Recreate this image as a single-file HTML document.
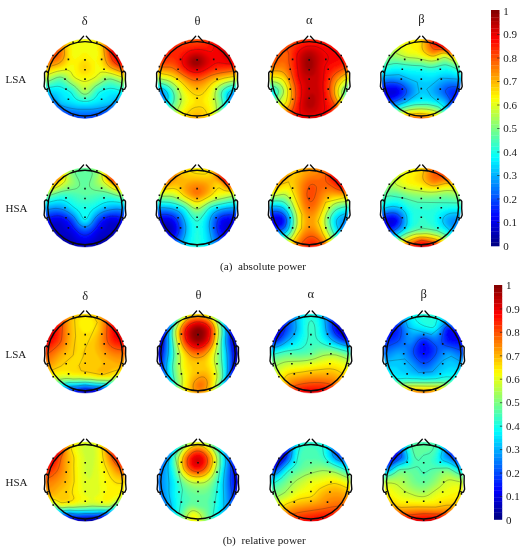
<!DOCTYPE html>
<html><head><meta charset="utf-8"><title>EEG topographic maps</title>
<style>
html,body{margin:0;padding:0;background:#fff}
svg{display:block}
.gh text{font-size:12.5px}
.cl{fill:none;stroke:#222;stroke-opacity:.6;stroke-width:4.5}
text{font-family:"Liberation Serif","DejaVu Serif",serif;font-size:11px;fill:#1a1a1a}
</style></head><body>
<svg width="527" height="550" viewBox="0 0 527 550">
<defs>
<clipPath id="cd"><circle r="40.1"/></clipPath>
<clipPath id="ch"><circle r="37.2"/></clipPath>
<filter id="soft" x="-10%" y="-10%" width="120%" height="120%"><feGaussianBlur stdDeviation="10"/></filter>
<g id="hd">
<circle r="40.7" fill="none" stroke="#fff" stroke-opacity=".55" stroke-width="2.2"/>
<path d="M11.1 -37.4h1.6v1.6h-1.6zM31.2 -24.1h1.6v1.6h-1.6zM36.9 -13.0h1.6v1.6h-1.6zM36.9 11.4h1.6v1.6h-1.6zM31.2 22.5h1.6v1.6h-1.6zM11.1 35.8h1.6v1.6h-1.6zM-0.8 37.7h1.6v1.6h-1.6zM-12.7 35.8h1.6v1.6h-1.6zM-32.8 22.5h1.6v1.6h-1.6zM-38.5 11.4h1.6v1.6h-1.6zM-38.5 -13.0h1.6v1.6h-1.6zM-32.8 -24.1h1.6v1.6h-1.6zM-12.7 -37.4h1.6v1.6h-1.6zM-17.4 -20.2h1.6v1.6h-1.6zM-0.8 -19.7h1.6v1.6h-1.6zM15.8 -20.2h1.6v1.6h-1.6zM-19.8 -10.4h1.6v1.6h-1.6zM-0.8 -9.8h1.6v1.6h-1.6zM18.2 -10.4h1.6v1.6h-1.6zM-20.8 -0.5h1.6v1.6h-1.6zM-0.8 -0.5h1.6v1.6h-1.6zM19.2 -0.5h1.6v1.6h-1.6zM-19.8 9.5h1.6v1.6h-1.6zM-0.8 9.0h1.6v1.6h-1.6zM18.2 9.5h1.6v1.6h-1.6zM-17.4 19.6h1.6v1.6h-1.6zM-0.8 18.7h1.6v1.6h-1.6zM15.8 19.6h1.6v1.6h-1.6z" fill="#111"/>
<circle r="37.2" fill="none" stroke="#0a0a0a" stroke-width="1.45"/>
<path d="M-6.5 -36.9L-1.4 -42.5M1.3 -42.5L6.4 -36.9" fill="none" stroke="#0a0a0a" stroke-width="1.3" stroke-linecap="round"/>
<path d="M37.2 -6.0L38.1 -7.5L38.7 -7.6L39.6 -7.3L40.5 -6.0L40.4 1.3L40.9 7.6L39.8 10.3L38.1 10.8L36.6 9.5M-37.2 -6.0L-38.1 -7.5L-38.7 -7.6L-39.6 -7.3L-40.5 -6.0L-40.4 1.3L-40.9 7.6L-39.8 10.3L-38.1 10.8L-36.6 9.5" fill="none" stroke="#0a0a0a" stroke-width="1.4" stroke-linejoin="round"/>
</g>
</defs>
<rect width="527" height="550" fill="#fff"/>
<g transform="translate(85.0 78.8)">
<g clip-path="url(#cd)"><g filter="url(#soft)" transform="scale(.1)">
<circle r="421" fill="#00008a"/>
<path fill="#00009f" d="M-396-413l809 0 0 826-751 0-41-15-34-9 0-802z"/>
<path fill="#0000b5" d="M-396-413l809 0 0 826-709 0-65-28-52-15 0-783z"/>
<path fill="#0000ca" d="M-396-413l809 0 0 826-673 0-84-41-35-12-34-9 0-764z"/>
<path fill="#0000df" d="M-396-413l809 0 0 806-34 0-35 2-34 7-42 11-493 0-119-60-35-12-34-8 0-746z"/>
<path fill="#0000f4" d="M-396-413l809 0 0 787-52 0-34 5-34 8-82 26-399 0-53-24-69-39-34-16-35-12-34-7 0-728z"/>
<path fill="#000bff" d="M-396-413l809 0 0 768-52 0-34 4-34 9-69 24-70 21-299 0-44-16-35-16-86-49-34-17-35-11-34-7 0-710z"/>
<path fill="#0020ff" d="M-396-413l809 0 0 750-52-1-34 4-17 4-103 37-113 32-187 0-62-19-52-20-34-18-69-43-34-16-35-11-34-7 0-692z"/>
<path fill="#0035ff" d="M-396-413l809 0 0 732-52-2-34 4-34 10-86 34-104 29-69 15-34 3-17-1-35-5-51-12-86-28-52-25-52-35-34-19-52-19-34-6 0-675z"/>
<path fill="#004aff" d="M-396-413l809 0 0 714-52-2-34 4-34 10-69 30-52 16-120 30-35 5-34 1-35-6-51-11-86-27-35-15-17-10-52-37-34-18-34-15-18-5-34-6 0-658z"/>
<path fill="#0060ff" d="M-396-413l809 0 0 696-52-1-51 7-17 6-69 33-35 11-86 22-51 10-35 5-34 1-35-5-51-10-86-26-35-15-17-10-52-37-51-28-35-13-34-5 0-641z"/>
<path fill="#0075ff" d="M-396-413l809 0 0 679-52-2-34 5-34 9-69 35-52 16-103 22-52 6-34 0-35-3-51-8-52-13-34-11-35-15-17-9-34-27-35-23-34-20-35-13-34-4 0-624z"/>
<path fill="#008aff" d="M-396-413l809 0 0 662-52-2-34 5-17 5-35 14-34 20-17 8-35 11-69 15-51 8-35 3-86 0-34-4-52-10-34-9-35-11-34-17-69-54-34-22-17-7-18-5-34-3 0-607z"/>
<path fill="#009fff" d="M-396-413l809 0 0 645-52-2-34 5-34 14-52 29-17 7-35 10-69 14-68 8-86 1-35-1-34-4-52-10-34-10-35-12-17-9-17-12-52-49-17-13-16-9-18-7-18-3-34-1 0-591z"/>
<path fill="#00b5ff" d="M-396-413l809 0 0 628-52-3-34 5-34 15-35 24-17 9-34 11-84 17-71 7-121 0-69-10-51-12-35-11-17-7-17-14-35-41-17-17-17-13-17-8-17-4-18-1-34 1 0-576z"/>
<path fill="#00caff" d="M-396-413l809 0 0 611-52-5-34 4-17 5-17 9-36 30-16 9-29 8-88 17-72 9-104 0-34-3-40-6-77-17-21-7-20-10-15-17-16-27-18-22-17-14-12-6-22-8-17-2-52 3 0-561z"/>
<path fill="#00dfff" d="M-396-413l809 0 0 594-52-7-34 0-17 3-17 6-11 6-41 37-17 8-52 10-57 14-46 7-52 4-51-1-35-2-47-8-73-18-35-12-5-4-12-14-21-38-13-15-18-13-17-8-17-4-34-3-52 5 0-547z"/>
<path fill="#00f4ff" d="M-396-413l809 0 0 577-52-10-34-4-34 0-18 2-17 5-17 11-34 26-64 30-40 15-51 11-35 3-34 0-35-2-47-10-45-17-36-17-23-18-27-34-18-17-31-18-31-6-17-1-34 1-52 6 0-533z"/>
<path fill="#0bfff4" d="M-396-413l809 0 0 560-120-28-35-3-17 2-53 20-28 17-28 34-18 18-28 16-17 6-35 8-51 1-35-4-17-5-17-6-17-9-12-7-18-18-22-29-17-15-52-32-17-9-17-6-17-3-35-1-103 13 0-520z"/>
<path fill="#20ffdf" d="M-396-413l809 0 0 544-120-36-35-5-17 1-43 12-41 17-19 12-6 6-21 34-14 17-11 10-17 10-35 12-17 2-34 0-35-6-23-10-22-18-14-17-10-17-17-23-17-12-86-44-17-4-17-1-18 2-120 22 0-508z"/>
<path fill="#35ffca" d="M-396-413l809 0 0 528-120-41-35-6-18 1-16 4-35 12-39 18-27 17-37 52-18 17-16 10-18 6-34 5-34-5-18-6-17-10-18-17-36-52-26-17-75-43-17-8-17-3-17 1-86 22-52 10 0-495z"/>
<path fill="#4affb5" d="M-396-413l809 0 0 513-103-39-31-9-21-3-27 3-42 16-51 26-18 11-16 15-35 48-17 13-18 9-17 4-17 2-17-2-17-4-18-9-17-13-11-13-25-35-15-15-104-67-17-8-17-2-17 2-86 29-52 11 0-483z"/>
<path fill="#60ff9f" d="M-396-413l809 0 0 498-86-34-52-17-17-3-17 0-13 3-39 17-69 39-17 14-34 42-17 17-18 11-17 6-17 2-17-2-17-6-18-10-17-17-34-43-17-14-52-34-52-37-17-8-17-1-17 3-86 34-52 11 0-471z"/>
<path fill="#75ff8a" d="M-396-413l809 0 0 484-92-37-46-15-17-4-17 0-10 2-24 9-18 9-69 40-17 13-16 15-28 35-20 17-22 10-17 3-17-3-23-10-12-10-36-42-18-17-50-34-51-39-17-11-17-7-17 0-17 3-86 36-52 12 0-459z"/>
<path fill="#8aff75" d="M-396-413l809 0 0 470-102-40-36-12-17-4-17-1-17 4-35 15-80 50-23 19-34 38-18 16-17 9-17 3-17-3-17-9-18-16-34-38-17-14-52-36-52-42-17-9-13-4-21-1-17 3-35 13-51 24-18 5-34 8 0-448z"/>
<path fill="#9fff60" d="M-396-413l809 0 0 458-103-40-35-12-17-4-17-1-17 2-17 5-18 8-86 55-34 28-35 37-17 12-17 4-17-4-17-11-37-38-19-17-50-35-49-43-18-11-17-7-17-4-17 1-17 3-29 10-75 32-34 8 0-436z"/>
<path fill="#b5ff4a" d="M-396-413l809 0 0 445-138-50-34-6-17 1-17 4-18 6-17 10-34 25-48 30-23 17-33 33-17 14-17 7-17-7-17-13-35-34-73-52-47-43-18-10-17-5-17-2-34 4-35 11-69 31-34 7 0-423z"/>
<path fill="#caff35" d="M-396-413l809 0 0 433-101-37-37-12-34-6-34 1-18 5-17 8-51 38-57 35-47 38-17 6-17-6-50-38-55-35-20-17-30-33-17-12-18-7-17-3-17-1-34 5-35 11-69 30-34 7 0-410z"/>
<path fill="#dfff20" d="M-396-413l809 0 0 422-120-43-35-10-34-5-35 2-17 5-17 10-36 32-50 27-52 31-17 4-17-3-17-9-86-50-35-42-10-10-7-5-17-8-18-3-34 0-34 5-35 10-69 29-34 8 0-397z"/>
<path fill="#f4ff0b" d="M-396-413l809 0 0 410-120-41-35-10-51-10-35-2-17 3-17 11-34 35-35 20-35 16-17 6-17 3-17-2-35-11-34-17-21-15-14-17-17-28-17-17-17-6-17-1-35 2-51 9-35 10-69 26-34 9 0-383z"/>
<path fill="#fff400" d="M-396-413l809 0 0 400-120-41-86-27-16-5-30-17-15-17-8-15-16-20-2-8-8-9 8-23 9-46 1-17-10-60-10-26-7-10-17-16-17-11-17-6-35-9-51-4-35 4-17 7-17 10-17 19-7 16-3 17-2 69 2 17 10 28 17 17 17-8 52-45 17-10 17-4 17 7 17 14 65 70 3 17-1 69-4 17-8 17-16 18-21 13-18 7-17 4-17 2-17 0-17-3-18-5-17-9-12-9-12-18-7-17-4-17-3-34-5-18-8-11-18 6-29 23-22 10-20 7-84 20-86 29-34 9 0-368z"/>
<path fill="#ffdf00" d="M-396-413l281 0-23 23-14 29-4 17 0 17 2 120-3 18-6 17-10 17-16 17-18 13-17 8-17 7-69 19-69 23-34 8 0-353zM86-413l327 0 0 389-183-62-31-17-19-17-11-18-8-17-8-34-3-69-12-86-8-17-12-18-15-15-28-19zM-17-194l17-3 17 7 21 18 11 17 7 17 3 18 0 17-3 17-9 17-13 13-17 8-17 3-17-1-17-5-18-14-10-21-3-17 0-17 2-18 6-17 11-17 12-12z"/>
<path fill="#ffca00" d="M-396-413l244 0-10 17-7 17-5 18-1 34 3 86-4 34-5 18-8 17-12 17-20 17-33 18-125 36-34 8 0-337zM120-413l293 0 0 379-69-22-84-30-35-17-21-17-13-18-9-17-10-34-17-157-5-15-12-24-24-28zM0-140l4 2 11 18-9 17-6 4-11-4-6-7-3-10 3-7 11-11z"/>
<path fill="#ffb500" d="M-396-413l219 0-12 34-3 18 0 34 4 69-2 34-4 17-7 18-11 17-16 17-13 10-17 10-35 11-68 20-52 11 0-320zM155-413l258 0 0 369-86-27-69-28-17-9-16-12-15-18-10-17-7-17-8-35-13-120-7-34-10-26-17-26z"/>
<path fill="#ff9f00" d="M-396-413l197 0-8 26-2 26 7 103-5 34-5 17-9 18-14 17-22 17-18 9-35 12-51 14-52 10 0-303zM172-413l241 0 0 359-69-21-71-28-29-17-20-23-8-12-13-34-10-52-10-86-5-34-6-20-15-32z"/>
<path fill="#ff8a00" d="M-396-413l176 0-4 17-3 35 10 103-2 17-4 17-8 17-12 18-20 17-30 15-17 6-51 14-52 10 0-286zM189-413l224 0 0 349-69-21-51-20-35-20-14-13-13-17-8-17-12-35-9-51-12-103-4-18-13-34z"/>
<path fill="#ff7500" d="M-396-413l155 0-3 17-1 35 13 103-2 17-7 18-17 23-17 14-28 14-24 8-35 9-51 9 0-267zM189-413l224 0 0 338-52-14-51-20-35-18-13-11-15-17-11-17-7-17-10-35-9-51-9-86-8-35-6-17z"/>
<path fill="#ff6000" d="M-396-413l134 0-2 17 0 35 14 103-4 17-10 17-11 12-18 12-21 11-30 9-35 8-34 5 0-246zM207-413l206 0 0 328-65-18-40-17-33-22-13-13-11-17-15-35-13-51-5-35-6-68-5-30-7-22z"/>
<path fill="#ff4a00" d="M-396-413l112 0-2 52 11 86 0 17-8 17-10 10-17 13-34 14-35 9-34 5 0-223zM224-413l189 0 0 318-52-14-30-11-21-12-31-23-21-28-16-41-12-51-7-86-10-52z"/>
<path fill="#ff3500" d="M-396-413l89 0-3 52 4 68-2 18-8 17-18 17-27 13-14 4-38 7 0-196zM241-413l172 0 0 307-52-13-40-19-28-21-13-13-11-17-11-22-10-30-8-34-2-18-4-68-9-52z"/>
<path fill="#ff2000" d="M-396-413l62 0-7 86-2 17-6 17-11 18-27 17-26 8 0-163zM241-413l172 0 0 297-52-14-17-7-17-10-17-12-14-13-21-29-16-40-10-34-5-86-7-52z"/>
<path fill="#ff0b00" d="M-396-413l31 0-14 63-9 23-12 17-13 11 0-114zM258-413l155 0 0 285-52-14-25-13-26-21-12-13-12-18-16-34-11-34-5-104-5-34z"/>
<path fill="#f40000" d="M-409-396l-4 10 0-27 11 0zM275-413l138 0 0 273-52-15-17-9-17-13-13-12-24-35-16-34-4-17-2-18-1-68-5-52z"/>
<path fill="#df0000" d="M275-413l138 0 0 261-34-10-18-7-17-11-27-27-22-34-14-34-2-18-1-68-4-52z"/>
<path fill="#ca0000" d="M293-413l120 0 0 247-34-11-18-9-17-13-23-25-11-17-9-17-6-17-3-18-2-86-3-34z"/>
<path fill="#b50000" d="M310-413l103 0 0 232-24-8-30-18-18-17-14-17-10-17-7-18-6-34-1-69-3-34z"/>
<path fill="#9f0000" d="M327-413l86 0 0 216-22-10-30-20-17-19-17-29-7-35-6-103z"/>
<path fill="#8a0000" d="M344-413l69 0 0 197-17-9-22-16-16-17-10-17-7-18-6-34-6-86z"/>
</g></g>
<g clip-path="url(#ch)"><path transform="scale(.1)" class="cl" d="M413 220l-34-3-18 0-17 2-17 4-17 6-17 8-35 23-17 9-34 11-69 15-52 8-34 2-121 0-34-4-47-8-39-10-35-12-17-8-17-13-52-55-17-13-17-9-17-4-18-2-34 0M413 134l-120-35-35-4-17 1-30 7-39 16-17 8-17 11-22 34-14 17-16 15-17 9-17 7-18 4-17 2-34 0-35-6-17-7-13-6-21-18-13-17-22-34-26-18-60-31-17-8-17-4-17-2-18 1-120 21M413 59l-103-41-35-12-17-4-17 0-17 3-17 7-18 9-78 48-25 20-34 39-18 15-17 9-17 3-17-3-17-9-18-15-34-38-17-15-52-36-52-42-17-9-17-5-17 0-17 3-18 6-68 31-18 5-34 8M413-3l-120-41-35-10-51-11-35-2-17 3-17 12-34 35-35 20-35 16-17 5-17 3-17-1-17-5-18-7-34-17-21-14-14-17-17-29-17-17-17-6-17-1-35 3-51 9-35 10-69 26-34 9M-202-413l-5 17-4 35 1 34 5 52 0 34-4 17-5 17-10 18-17 20-17 12-17 9-29 10-40 12-35 8-34 6M413-56l-69-20-68-27-30-17-17-18-11-17-14-34-10-52-9-86-6-34-7-25-13-27M-313-413l-3 34 1 86-3 18-9 17-24 17-28 10-34 8M413-108l-52-14-36-16-15-10-17-14-9-10-12-17-16-35-14-51-6-86-8-52"/></g>
<use href="#hd"/>
</g>
<g transform="translate(197.1 78.8)">
<g clip-path="url(#cd)"><g filter="url(#soft)" transform="scale(.1)">
<circle r="421" fill="#004aff"/>
<path fill="#0060ff" d="M-396-413l809 0 0 623-8 14-4 17-1 17 4 35 9 37 0 83-826 0 0-826z"/>
<path fill="#0075ff" d="M-396-413l809 0 0 589-17 7-7 6-10 18-3 34 3 31 3 21 31 112 0 8-826 0 0-172 17-19 17-26 3-7 2-17-5-7-17-8-17-1 0-569z"/>
<path fill="#008aff" d="M-396-413l809 0 0 568-17 3-17 7-9 7-9 17-4 35 2 34 5 35 32 120-809 0 0-137 34-40 18-25 9-22 3-17-3-17-9-10-18-8-34-1 0-549z"/>
<path fill="#009fff" d="M-396-413l809 0 0 553-34 5-20 10-12 17-4 17-2 18 2 51 5 35 30 120-791 0 0-106 51-66 12-17 9-17 6-18 3-17-3-17-11-17-15-10-18-5-34-2 0-534z"/>
<path fill="#00b5ff" d="M-396-413l809 0 0 540-34 4-21 7-19 17-7 17-4 17 0 52 6 52 28 120-775 0 0-74 69-98 10-17 8-17 6-18 1-17-3-17-5-11-4-6-13-13-17-9-18-4-34-3 0-522z"/>
<path fill="#00caff" d="M-396-413l809 0 0 529-34 3-18 5-24 14-13 17-6 17-2 17 1 69 3 35 26 120-759 0 0-40 93-149 10-25 4-27-3-17-8-17-15-18-12-7-17-8-18-4-34-3 0-511z"/>
<path fill="#00dfff" d="M-396-413l809 0 0 518-34 4-18 4-18 7-22 18-11 17-4 17-2 35 4 86 24 120-745 0 26-52 81-137 7-17 4-18 1-17-3-17-7-17-13-18-10-8-17-10-17-7-18-4-34-3 0-501z"/>
<path fill="#00f4ff" d="M-396-413l809 0 0 508-34 4-35 10-21 11-13 13-13 22-3 17-1 17 2 86 4 35 19 103-712 0 43-86 58-103 6-17 4-18 0-17-3-17-6-17-11-18-19-17-22-11-17-6-52-8 0-491z"/>
<path fill="#0bfff4" d="M-396-413l809 0 0 499-52 8-34 12-21 14-14 18-7 17-3 17 0 17 4 52-1 52 19 120-679 0 39-86 56-103 6-17 3-18 0-17-3-17-6-17-10-18-20-19-17-11-17-8-35-9-34-4 0-482z"/>
<path fill="#20ffdf" d="M-396-413l809 0 0 490-52 8-34 11-17 9-17 13-15 20-5 17-2 17 5 69-1 52 16 120-648 0 20-52 24-51 46-86 5-17 3-18-1-17-3-17-5-17-10-18-14-17-18-14-17-10-30-10-56-9 0-473z"/>
<path fill="#35ffca" d="M-396-413l809 0 0 481-34 5-35 7-34 14-16 9-19 17-10 18-4 17-1 17 7 69-2 52 13 120-618 0 19-52 22-51 16-35 22-34 7-17 5-17 2-18-1-17-3-17-6-17-9-18-13-17-19-17-29-16-17-6-35-8-34-5 0-464z"/>
<path fill="#4affb5" d="M-396-413l809 0 0 473-69 12-40 14-29 18-15 16-8 18-3 17 0 17 10 69-3 34 0 35 9 103-589 0 18-52 21-51 17-35 21-34 6-16 4-18 1-35-9-34-8-18-12-17-28-25-17-10-34-13-69-13 0-455z"/>
<path fill="#60ff9f" d="M-396-413l809 0 0 464-69 12-34 11-35 18-14 11-14 17-7 18-3 17 0 17 12 69-3 69 7 103-560 0 16-52 20-51 38-69 9-34 0-35-9-34-8-18-11-17-23-24-18-12-34-16-34-9-52-9 0-446z"/>
<path fill="#75ff8a" d="M-396-413l809 0 0 456-69 12-34 9-17 7-18 9-17 12-12 11-12 17-6 18-3 17 1 17 13 69-3 69 4 103-531 0 15-52 13-34 44-86 8-34 0-35-9-34-8-18-11-17-14-17-19-17-29-17-26-10-34-8-52-9 0-438z"/>
<path fill="#8aff75" d="M-396-413l809 0 0 448-86 15-34 11-17 8-18 10-17 14-10 10-10 17-5 18-3 17 1 17 13 69-2 69 2 103-502 0 14-52 13-34 36-69 7-17 7-34-1-35-3-17-13-35-10-17-13-17-20-19-23-15-29-14-34-10-69-12 0-429z"/>
<path fill="#9fff60" d="M-396-413l809 0 0 439-86 16-34 10-18 7-19 10-24 17-14 17-10 17-5 18-2 34 12 69 1 17 0 155-472 0 8-34 11-35 15-34 27-52 6-17 7-34-1-35-9-34-17-35-13-17-16-17-18-15-17-11-35-15-34-9-69-12 0-420z"/>
<path fill="#b5ff4a" d="M-396-413l809 0 0 431-86 15-52 16-38 20-20 17-13 17-9 17-5 18-3 34 13 86 2 103-1 52-442 0 8-34 11-35 41-86 6-17 6-34-2-35-9-34-17-35-12-17-15-17-20-17-31-20-35-14-34-8-69-13 0-410z"/>
<path fill="#caff35" d="M-396-413l809 0 0 422-103 20-52 17-17 8-22 15-18 17-12 17-8 17-5 18-3 34 3 35 8 51 3 35 2 68-3 52-410 0 8-34 11-35 33-69 14-34 5-34-3-35-10-34-16-35-26-34-33-28-34-20-35-13-103-21 0-400z"/>
<path fill="#dfff20" d="M-396-413l809 0 0 414-103 19-52 15-34 17-17 12-22 22-11 17-13 35-5 34 2 35 11 68 5 52 1 34-3 52-377 0 6-34 11-35 35-69 14-34 5-34-5-35-4-17-15-35-20-34-29-32-23-20-28-17-35-14-34-9-52-9-34-8 0-390z"/>
<path fill="#f4ff0b" d="M-396-413l809 0 0 405-34 7-69 12-35 9-34 12-38 20-21 17-14 17-10 17-14 35-4 17-4 34 3 35 16 78 5 42-1 35-4 34-341 0 6-34 11-35 38-69 14-34 4-17 1-17-2-18-11-34-26-52-24-34-16-17-20-18-25-17-22-12-35-13-120-25 0-380z"/>
<path fill="#fff400" d="M-396-413l809 0 0 395-34 8-86 15-52 16-32 13-27 18-19 17-14 17-18 34-13 35-8 34 0 18 5 34 20 69 7 34 0 35-5 34-301 0 5-34 4-18 8-17 52-86 7-17 4-17 0-17-3-18-6-17-9-17-42-69-29-34-34-29-34-22-34-15-35-10-69-12-34-8 0-369z"/>
<path fill="#ffdf00" d="M-396-413l809 0 0 386-34 8-86 15-35 9-38 12-36 17-24 18-18 17-13 17-51 86-14 35-1 17 7 17 33 57 11 29 7 34-1 18-5 34-255 0 5-34 5-18 10-18 34-45 52-53 6-4 5-17-7-17-12-18-96-120-34-35-21-17-48-29-34-14-35-9-69-12-34-9 0-357z"/>
<path fill="#ffca00" d="M-396-413l809 0 0 376-34 8-104 19-51 14-35 13-31 17-22 18-67 73-17 13-18 10-17 4-17 0-17-4-17-8-35-24-82-82-38-29-35-22-17-9-34-13-35-8-69-12-34-9 0-345zM-34 304l17-6 17-3 17-1 17 1 18 7 17 14 17 28 5 17 1 18-4 34-198 0 1-17 5-17 8-18 10-16 17-18 17-14z"/>
<path fill="#ffb500" d="M-396-413l809 0 0 365-52 13-86 14-51 13-35 11-31 14-20 12-69 58-17 12-18 8-17 4-17 1-17-2-17-6-18-8-17-11-81-68-23-17-34-22-34-18-17-7-35-10-75-12-45-12 0-332zM0 342l19 2 15 8 9 9 8 18 2 17-4 17-117 0 2-17 7-17 13-18 12-8 17-9z"/>
<path fill="#ff9f00" d="M-396-413l809 0 0 354-52 13-120 22-34 9-35 11-45 21-58 42-35 17-17 4-17 2-17-2-17-4-18-7-34-21-40-31-49-34-32-20-34-18-34-12-86-13-26-6-26-8 0-319z"/>
<path fill="#ff8a00" d="M-396-413l809 0 0 343-52 13-120 21-69 18-46 18-74 44-35 11-17 2-17-1-35-10-34-18-103-70-52-30-34-11-86-11-35-8-17-7 0-304z"/>
<path fill="#ff7500" d="M-396-413l809 0 0 331-52 14-120 19-69 16-42 16-61 32-35 15-34 5-34-4-18-5-34-17-138-90-17-9-17-7-17-4-86-7-35-9-17-7 0-289z"/>
<path fill="#ff6000" d="M-396-413l809 0 0 319-52 15-137 20-52 12-52 19-51 25-35 14-17 3-34 2-35-8-34-16-34-20-36-24-68-49-17-10-17-6-17-3-69-1-17-2-35-11-17-8 0-271z"/>
<path fill="#ff4a00" d="M-396-413l354 0 25 2 6-2 424 0 0 305-34 12-35 8-120 14-52 12-34 12-69 31-35 12-17 4-34 1-35-7-34-15-47-28-46-34-45-38-17-10-17-6-17-2-69 3-17-2-35-13-17-9 0-250z"/>
<path fill="#ff3500" d="M-396-413l230 0 11 19 17 15 18 8 34 6 52 4 34-2 17-5 17-8 21-20 9-17 349 0 0 291-34 12-35 8-103 11-52 8-51 17-86 38-35 9-34 1-35-7-34-14-49-30-40-34-49-49-17-11-17-5-17-1-52 6-17 1-17-2-22-8-30-18 0-223z"/>
<path fill="#ff2000" d="M-396-413l159 0 13 40 17 31 18 17 17 7 17 1 86-14 86-7 35-8 17-8 17-13 9-12 8-14 7-20 303 0 0 275-34 14-35 8-120 9-35 6-34 11-103 46-35 9-34 2-35-7-29-12-22-12-35-25-31-31-55-79-17-14-17-2-52 14-17 4-17 1-17-3-18-7-34-23 0-184z"/>
<path fill="#ff0b00" d="M-396-413l79 0 24 70 8 33-1 17-10 18-14 9-17 7-17 2-7-1-10-3-18-8-17-14-17-18 0-112zM155-413l258 0 0 257-34 15-35 9-34 2-86 0-35 6-34 13-69 36-34 15-35 10-17 2-34-3-35-10-34-19-29-23-16-17-11-18-9-17-10-34-1-18 3-17 8-17 13-16 23-18 12-8 19-10 32-11 52-8 86-5 17-2 17-5 17-13 6-7 10-17 7-18 8-34z"/>
<path fill="#f40000" d="M189-411l1-2 223 0 0 236-34 17-18 6-17 3-17 1-34-2-69-11-17-1-18 3-17 9-69 49-30 17-39 16-34 7-34-3-35-11-17-9-17-12-17-16-18-24-7-17-4-17 0-17 3-18 8-17 18-21 17-15 24-15 27-10 35-6 34-1 35 3 34 8 34 14 18 4 17-7 12-23 5-19z"/>
<path fill="#df0000" d="M241-413l172 0 0 209-26 15-26 9-17 4-17 0-17-3-29-10-21-18-11-17-23-51-7-35 1-34 8-69zM-52-264l35-7 34 0 35 8 17 7 22 15 19 17 14 17 7 18-1 17-6 17-13 17-17 18-24 17-35 17-18 5-17 2-17 0-17-2-18-5-32-17-20-17-12-18-7-17-3-17 2-17 6-18 15-22 17-17 17-11z"/>
<path fill="#ca0000" d="M275-413l138 0 0 174-34 19-18 6-17 2-17-3-17-7-22-19-13-16-9-18-5-18-2-17 0-34 10-69zM-52-243l18-6 17-3 34 1 29 10 23 16 16 18 8 18 1 17-4 17-10 17-18 18-28 16-17 6-17 3-17 0-17-3-18-6-26-16-15-18-8-17-2-17 3-17 7-18 13-17 11-9z"/>
<path fill="#b50000" d="M327-413l86 0 0 120-34 20-18 4-17-1-11-5-6-4-11-14-6-16-2-18 4-34 9-52zM-34-229l17-4 17 0 17 3 17 8 19 15 10 18 2 17-4 17-9 15-18 15-17 8-17 4-17 0-17-3-10-4-8-5-17-16-8-14-3-17 3-17 10-18 15-14z"/>
<path fill="#9f0000" d="M-17-212l17 0 17 6 16 17 1 6 3 11-6 17-14 14-17 7-17 0-17-6-16-15-5-17 5-17 16-17z"/>
</g></g>
<g clip-path="url(#ch)"><path transform="scale(.1)" class="cl" d="M413 101l-34 4-18 4-17 6-17 10-13 13-10 17-4 17-1 17 2 86 4 35 20 103M-404 413l35-69 69-120 7-21 3-14 1-17-3-17-7-17-12-18-16-14-17-9-17-6-18-4-34-4M413 55l-69 12-34 11-17 8-25 17-10 11-5 6-8 18-3 17 0 17 11 69-2 69 7 103M-315 413l17-52 20-51 18-35 19-31 8-20 3-17 1-18 0-17-4-17-5-17-8-18-12-17-16-17-19-14-17-10-34-12-69-13M413 13l-103 19-35 10-17 8-17 9-17 11-17 16-13 17-8 17-5 18-2 17-1 17 4 35 7 41 3 27 2 86-2 52M-230 413l7-34 11-35 41-86 7-17 4-17 1-17-2-35-4-17-14-35-20-34-15-17-19-17-25-18-17-9-35-13-103-21M413-35l-34 9-104 18-51 15-35 14-24 13-23 18-17 17-39 49-17 20-17 15-18 10-17 4-17-1-17-5-17-9-18-12-34-31-36-40-35-35-32-25-35-22-34-17-35-10-86-16-34-9M-119 413l1-17 4-17 7-18 21-29 17-18 17-13 18-9 17-7 34-5 17 1 18 5 17 12 17 23 10 23 4 17 0 18-4 34M413-92l-17 6-35 9-120 17-52 11-51 16-86 41-18 6-17 4-17 1-17 0-17-3-18-5-34-16-52-31-86-61-17-10-17-7-17-3-69-1-17-2-18-5-34-14M413-175l-43 20-26 6-17 1-34-2-69-9-17 0-18 4-17 7-66 45-37 21-35 14-17 4-17 2-17 0-17-2-18-5-17-7-19-10-23-17-9-9-8-8-12-18-7-17-4-17-1-17 3-18 8-17 21-24 17-15 17-11 17-8 17-5 35-6 34-1 35 3 34 7 34 11 18 1 7-3 10-8 11-27 11-51 9-52"/></g>
<use href="#hd"/>
</g>
<g transform="translate(309.2 78.8)">
<g clip-path="url(#cd)"><g filter="url(#soft)" transform="scale(.1)">
<circle r="421" fill="#00f4ff"/>
<path fill="#0bfff4" d="M-396-413l809 0 0 826-826 0 0-228 28-13 19-17 1-17-14-9-17-3-17 2 0-541z"/>
<path fill="#20ffdf" d="M-396-413l809 0 0 826-826 0 0-202 34-21 18-15 13-20 3-17-10-18-6-5-18-6-17-2-17 0 0-520z"/>
<path fill="#35ffca" d="M-396-413l809 0 0 826-826 0 0-182 34-24 20-18 15-18 8-16 3-17-4-18-7-9-10-8-25-9-34-2 0-505z"/>
<path fill="#4affb5" d="M-396-413l809 0 0 530-16 21-2 17 8 17 10 16 0 225-826 0 0-163 34-27 18-15 17-20 19-33 4-17-2-18-4-7-6-10-11-9-17-8-18-4-34-3 0-492z"/>
<path fill="#60ff9f" d="M-396-413l809 0 0 507-17 13-13 13-9 18 0 17 7 17 32 42 0 199-826 0 0-144 34-30 35-35 21-32 9-17 4-17 0-18-7-17-18-17-26-12-18-3-34-3 0-481z"/>
<path fill="#75ff8a" d="M-396-413l809 0 0 490-17 10-19 16-13 17-6 18 0 17 8 17 13 20 34 44 0 177-826 0 0-125 52-49 27-32 31-52 5-17 0-18-5-17-12-17-12-9-17-9-17-5-52-6 0-470z"/>
<path fill="#8aff75" d="M-396-413l809 0 0 474-34 23-18 18-10 18-5 18 1 17 14 32 52 71 0 155-826 0 0-104 69-73 22-29 31-52 5-17 1-18-4-17-10-17-11-11-17-12-17-6-17-5-52-6 0-459z"/>
<path fill="#9fff60" d="M-396-413l809 0 0 460-34 21-20 18-15 22-5 12-3 18 1 17 7 21 17 29 52 75 0 133-826 0 0-82 93-107 41-69 6-17 1-18-4-17-8-17-14-17-12-9-17-9-17-6-69-9 0-449z"/>
<path fill="#b5ff4a" d="M-396-413l809 0 0 446-34 21-18 14-16 18-10 17-6 17-3 18 2 17 5 17 8 17 72 115 0 109-826 0 0-57 50-63 57-69 11-17 20-32 9-20 5-17 1-18-3-17-12-25-18-20-17-12-17-7-17-5-69-9 0-438z"/>
<path fill="#caff35" d="M-396-413l809 0 0 433-34 20-18 13-17 17-12 16-8 17-5 17-1 18 1 17 5 17 7 17 53 86 29 57 0 81-826 0 0-28 4-6 61-86 28-35 31-34 14-20 16-32 6-17 4-17 0-18-3-17-6-18-17-27-18-16-17-9-17-6-86-12 0-428z"/>
<path fill="#dfff20" d="M-396-413l809 0 0 420-52 32-17 15-13 15-10 17-7 17-4 17-1 18 2 17 11 34 59 104 30 68 2 6 0 46-823 0 42-69 35-51 23-30 42-39 10-16 7-19 10-32 3-19 0-18-3-17-5-17-12-24-17-21-8-7-10-6-17-8-17-5-86-11 0-417z"/>
<path fill="#f4ff0b" d="M-396-413l809 0 0 407-52 31-17 14-17 18-17 29-6 17-3 17-1 18 2 17 11 34 38 69 26 52 20 51 15 52-802 0 39-69 32-51 26-31 18-13 17-8 10-17 7-18 8-34 5-34-2-35-11-32-17-29-17-18-18-11-17-7-34-6-35-2-34-6 0-405z"/>
<path fill="#fff400" d="M-396-413l809 0 0 393-52 32-17 12-17 17-17 22-11 23-7 34 2 35 4 17 12 29 40 74 15 35 18 51 13 52-766 0 35-69 32-51 14-18 14-11 17-7 19-16 6-17 9-36 5-33 1-35-7-34-14-34-19-29-17-16-18-9-17-5-17-4-52-3-34-7 0-392z"/>
<path fill="#ffdf00" d="M-396-413l809 0 0 380-69 43-26 24-14 18-9 17-6 17-6 34 2 35 4 17 15 35 35 68 14 35 16 51 11 52-731 0 32-69 26-44 18-20 34-19 15-20 10-34 6-35 2-34 0-18-6-34-13-34-14-27-22-25-12-9-18-8-17-5-69-6-34-7 0-378z"/>
<path fill="#ffca00" d="M-396-413l809 0 0 366-69 43-17 13-17 17-17 24-9 19-6 17-4 34 2 35 11 34 34 69 21 52 14 51 9 52-697 0 22-52 17-34 11-17 15-17 26-18 17-17 9-17 6-17 7-35 3-34 0-35-8-41-16-45-18-30-17-18-17-12-18-7-17-4-69-6-34-7 0-363z"/>
<path fill="#ffb500" d="M-396-413l809 0 0 352-70 44-23 17-18 17-13 17-10 18-7 17-7 34 0 35 7 34 14 35 26 51 14 35 13 51 10 69-662 0 21-52 18-34 16-21 34-30 13-18 7-17 6-17 6-35 3-34-1-35-5-34-17-52-17-34-12-16-17-17-17-11-18-6-17-3-69-6-34-7 0-347z"/>
<path fill="#ff9f00" d="M-396-413l809 0 0 338-86 54-17 13-17 17-18 25-8 18-6 17-6 34 1 35 6 34 14 35 26 51 7 17 11 35 9 51 4 52-626 0 12-34 16-35 11-17 44-52 10-17 7-17 8-34 5-35 1-34-3-35-12-51-22-52-8-14-17-24-17-15-17-11-18-5-17-3-69-3-34-8 0-330z"/>
<path fill="#ff8a00" d="M-396-413l809 0 0 322-89 57-23 17-17 17-13 17-10 17-7 18-8 34-1 17 1 35 6 34 14 35 27 51 6 17 10 35 6 51 2 52-590 0 11-34 17-35 38-53 10-16 15-34 7-34 5-35 0-34-2-35-12-51-23-60-17-31-17-23-17-16-17-9-18-4-68-1-18-2-34-8 0-311z"/>
<path fill="#ff7500" d="M-396-413l809 0 0 306-29 21-74 45-17 13-18 17-17 23-11 22-6 19-6 33-1 17 1 35 7 34 14 35 26 51 12 35 6 51 0 69-553 0 18-52 46-75 12-28 5-17 8-34 4-35-1-52-4-34-14-52-28-71-17-32-17-25-17-17-17-7-18-1-51 7-17 0-35-6-17-6 0-289z"/>
<path fill="#ff6000" d="M-396-413l809 0 0 288-34 26-69 41-35 26-17 19-17 28-8 19-8 35-2 17 0 34 4 35 4 17 13 35 27 51 7 17 4 18 4 51-4 69-513 0 9-34 7-18 43-85 15-52 5-35 2-34-2-52-6-34-21-69-28-73-17-39-17-33-17-19-17-2-52 24-17 6-17 1-18-2-34-13 0-263z"/>
<path fill="#ff4a00" d="M-396-413l809 0 0 266-34 31-19 13-67 38-35 28-17 20-10 17-7 18-10 34-4 51 5 52 9 34 7 18 28 51 6 17 4 18 2 51-10 69-470 0 14-52 35-86 10-34 7-34 3-35 1-34-3-35-5-34-52-172-13-52-5-34 0-52-7-20-17-11-17 5-33 26-42 52-11 9-17 8-18-2-34-15 0-224z"/>
<path fill="#ff3500" d="M-396-413l106 0 10 34 2 18-1 17-5 17-8 17-16 17-36 26-17 10-18 4-17-2-17-9 0-149zM-120-405l14-8 519 0 0 237-15 21-17 17-20 16-86 47-28 23-15 18-10 17-8 17-11 34-6 52 0 34 5 35 9 34 6 18 27 51 6 17 4 18 1 17-2 34-6 35-9 34-423 0 9-52 24-68 17-69 7-52 0-34-2-35-5-34-25-86-26-121-6-51 0-52-4-69 3-17 8-17 14-17 18-18z"/>
<path fill="#ff2000" d="M0-397l60-16 348 0 5 10 0 176-17 38-23 34-20 17-78 39-20 13-21 17-14 17-11 18-8 17-10 34-6 35-3 34 1 34 4 35 8 34 6 18 24 51 7 17 3 18 1 17-5 34-7 32-14 37-369 0 4-52 21-86 14-68 4-35 0-34-1-35-5-34-24-86-21-121-5-69 1-34 4-34 5-18 7-16 12-18 23-23 17-13 17-11 34-13z"/>
<path fill="#ff0b00" d="M258-397l35-2 17 3 17 6 17 10 17 18 18 32 5 20 2 17 0 35-6 34-7 17-8 18-11 17-19 17-77 36-17 10-17 13-11 10-12 17-16 35-9 34-8 52-2 34 2 34 9 69 11 35 19 51 3 18 0 17-3 25-18 48-15 30-303 0-3-34 0-18 27-172 3-51-1-35-5-34-24-86-8-52-10-86-3-52 2-34 3-17 10-28 17-24 18-17 17-13 34-15 35-8 69-9 103-1 31-6z"/>
<path fill="#f40000" d="M-52-329l18-5 34-6 52-1 17 2 34 8 52 19 34 10 18 2 17 0 34-7 17-1 18 3 17 10 14 20 5 17 1 17-3 17-9 17-8 10-17 12-52 23-34 22-19 20-10 17-7 17-8 34-11 69-3 35-1 34 9 103 5 35 13 51 1 18-1 17-4 17-15 34-18 32-16 20-209 0-14-34-5-35 1-34 4-52 13-86 2-34 0-35-4-34-4-17-18-52-8-47-13-125 0-52 2-17 4-17 9-17 13-18 19-17 17-11z"/>
<path fill="#df0000" d="M-34-310l34-7 34 1 26 6 26 12 10 5 20 18 15 17 11 17 7 17 3 17 0 18-3 17-11 30-5 22-2 103-6 69 8 155 1 68-1 18-3 17-6 17-10 17-11 16-17 17-17 11-17 7-18 4-17 0-34-4-17-6-18-12-17-22-9-28-3-17-1-52 15-103 3-52-1-17-6-34-24-69-7-35-11-103-2-52 6-34 7-17 13-17 20-18 17-10z"/>
<path fill="#ca0000" d="M0-293l17 0 17 4 18 7 17 11 13 13 12 17 8 17 4 17 2 18-8 69-3 86-5 68 0 35 9 69 2 34-1 35-8 68-8 25-5 10-12 15-17 13-18 7-17 2-17-1-17-5-17-10-16-21-6-17-3-18 0-34 7-47 18-74 2-17 0-34-8-35-29-59-13-44-8-51-4-52 1-35 3-17 7-17 11-17 19-17 19-10 17-6z"/>
<path fill="#b50000" d="M-17-264l17-3 17 2 17 7 20 17 10 17 7 17 3 18 1 34-4 35-6 34-5 17-8 20-13 15-5 4-17 5-17-2-17-5-17-12-18-25-12-34-5-25-2-27 0-34 3-18 6-17 11-17 17-15zM17 150l17-4 18 16 8 27 2 18-2 34-8 28-4 6-14 14-17 8-17-1-17-10-7-11-6-17-1-17 2-17 12-33 17-26z"/>
<path fill="#9f0000" d="M0-229l17 7 12 15 8 18 4 34-4 35-8 17-12 13-17 5-17-6-11-12-6-11-7-24-1-17 4-34 7-18 14-16z"/>
</g></g>
<g clip-path="url(#ch)"><path transform="scale(.1)" class="cl" d="M413 91l-17 12-17 17-8 18 0 17 7 17 35 46M-413 272l34-30 35-35 23-35 8-17 5-17 0-18-7-17-16-17-13-7-17-6-18-4-34-3M413 30l-36 22-16 12-17 19-12 20-6 17-2 18 3 21 4 13 8 17 54 86 20 35M-413 362l53-69 58-69 11-17 21-35 8-17 4-17 1-18-4-17-7-17-10-17-18-17-14-9-23-9-28-5-52-6M413-24l-52 32-17 12-17 16-13 16-11 17-10 29-4 22 0 18 2 17 4 17 15 34 28 52 23 52 18 51 12 52M-364 413l34-69 31-51 15-18 9-6 23-11 11-9 6-8 6-17 8-35 5-34 1-35-6-34-14-34-10-18-13-17-17-15-18-8-17-6-17-3-52-3-34-7M413-81l-86 54-17 13-15 14-15 17-10 17-8 18-9 34-2 34 3 35 11 34 34 69 12 35 11 51 4 35 1 34M-286 413l12-34 16-35 11-17 40-48 12-21 6-17 8-34 5-52-2-52-7-34-18-52-17-34-21-30-17-15-17-10-18-5-17-2-51-1-18-2-34-8M413-159l-19 21-20 18-28 17-53 29-18 11-17 15-13 14-13 17-9 17-11 34-4 18-4 34 1 34 4 35 9 34 16 35 18 34 7 17 4 18 1 17-1 34-4 35-8 34M-198 413l7-34 5-18 26-68 11-35 10-51 5-52-3-52-5-34-43-155-16-69-3-34 0-52-3-17-6-17-11-17-17-5-17 8-15 14-27 17-20 17-24 25-17 11-18 2-17-4-17-9M-48 413l-21-19-9-15-8-19-6-33-1-34 2-35 15-103 1-52-4-34-9-35-15-42-8-44-11-103-2-34 1-35 3-17 6-17 11-17 17-18 24-17 28-11 17-4 34-3 35 3 17 3 31 12 30 17 21 18 18 17 13 17 7 17 3 17-4 18-7 17-19 34-7 18-5 34-12 120-1 52 9 121 7 68 1 18-2 17-5 17-8 17-19 30-17 20-24 19"/></g>
<use href="#hd"/>
</g>
<g transform="translate(421.3 78.8)">
<g clip-path="url(#cd)"><g filter="url(#soft)" transform="scale(.1)">
<circle r="421" fill="#0000df"/>
<path fill="#0000f4" d="M-396-413l809 0 0 826-826 0 0-826zM-344 120l-18 18-1 17 19 13 17 3 17-1 35-9 17-9 13-14-1-18-12-9-17-4-18-1-17 3z"/>
<path fill="#000bff" d="M-396-413l809 0 0 826-826 0 0-826zM-360 103l-25 17-12 18-2 17 8 17 12 10 18 8 17 2 17 0 23-3 29-8 21-9 13-9 9-8 10-17 0-18-11-17-8-5-17-8-17-3-35 1-17 4z"/>
<path fill="#0020ff" d="M-396-413l809 0 0 582-17-8-17-5-18 1-14 15-2 17 3 18 5 17 11 17 15 10 17 7 17 1 0 154-826 0 0-224 17 10 21 8 31 2 34-3 52-17 30-17 17-17 9-17 0-18-5-9-3-8-14-13-17-10-17-5-17-3-35 1-17 3-34 9-37 18-15 14 0-530z"/>
<path fill="#0035ff" d="M-396-413l809 0 0 547-34-11-18-2-17 1-17 5-15 11-4 17 2 17 17 67 11 19 6 7 17 13 35 13 17 4 0 118-826 0 0-198 34 8 35 1 34-5 52-17 27-13 25-17 15-17 7-17 0-18-6-17-17-19-17-11-17-7-34-7-35 0-34 6-35 10-34 16 0-504z"/>
<path fill="#004aff" d="M-396-413l809 0 0 524-24-8-28-5-34 0-17 2-17 6-18 13-4 19 28 69 13 51 12 17 20 17 17 9 20 9 32 9 0 94-826 0 0-179 34 4 18 0 34-4 34-8 52-19 32-18 22-17 14-17 7-17 1-18-5-17-12-17-21-17-21-11-34-9-35-3-34 2-34 7-52 17 0-485z"/>
<path fill="#0060ff" d="M-396-413l809 0 0 504-34-9-35-5-34 0-17 2-18 5-17 9-12 10-7 17 3 18 32 51 9 18 6 17 6 34 7 17 17 18 25 18 35 16 34 12 0 74-826 0 0-162 34 1 52-6 52-15 57-24 30-18 21-17 13-17 7-17 2-18-5-17-11-17-17-17-29-18-34-11-34-6-35 0-51 8-52 13 0-468z"/>
<path fill="#0075ff" d="M-396-413l809 0 0 486-52-11-34-5-34 2-18 3-21 7-13 7-13 10-12 17-3 17 4 18 11 17 30 36 10 16 8 17 10 51 7 10 17 17 34 24 35 18 34 13 0 56-826 0 0-147 52-3 51-11 52-18 62-27 28-18 20-17 14-17 7-17 1-18-4-17-8-14-17-20-17-14-17-10-35-14-51-9-35-1-34 4-69 15 0-453z"/>
<path fill="#008aff" d="M-396-413l809 0 0 470-52-12-34-5-34 0-35 6-17 6-17 9-17 14-10 11-8 17-2 17 5 18 11 17 38 37 17 21 6 11 6 17 4 34 11 18 25 24 34 24 35 18 34 15 0 39-826 0 0-133 52-5 51-12 59-22 77-34 27-18 20-17 13-17 6-17 2-18-3-17-8-17-14-17-20-17-21-14-35-16-51-10-35-4-17 0-34 4-69 13 0-438z"/>
<path fill="#009fff" d="M-396-413l809 0 0 455-69-16-34-4-35 1-34 8-34 15-29 23-13 17-7 17-1 17 5 18 13 17 66 55 11 14 8 17 5 34 10 21 18 19 34 28 34 22 52 25 0 23-826 0 0-120 52-7 51-13 82-32 76-34 27-18 19-17 12-17 7-17 2-18-2-17-7-17-12-17-14-14-29-21-23-13-35-14-51-9-35-4-34 2-86 14 0-423z"/>
<path fill="#00b5ff" d="M-396-413l809 0 0 440-69-17-34-6-35 0-51 11-17 6-25 13-23 18-17 17-13 17-7 17-1 17 5 18 13 17 21 17 64 40 17 15 8 14 7 34 7 18 12 17 16 17 19 16 34 25 35 20 34 17 0 8-826 0 0-107 69-13 51-17 128-52 36-17 27-18 19-17 12-17 7-17 2-18-1-17-5-17-9-17-15-17-25-18-38-22-34-16-35-9-69-7-34 2-86 12 0-407z"/>
<path fill="#00caff" d="M-396-413l809 0 0 425-69-19-34-7-35-2-51 8-25 8-27 13-58 39-18 17-11 17-5 17 0 17 5 18 12 17 21 17 31 17 58 27 17 12 13 13 4 8 6 26 7 18 21 30 18 17 34 28 34 24 38 21-812 0 0-95 52-11 51-15 169-68 37-17 29-18 20-17 12-17 6-17 3-35-1-17-5-17-11-17-18-16-86-45-34-15-35-8-51-5-35 2-69 10-34 3 0-391z"/>
<path fill="#00dfff" d="M-396-413l809 0 0 411-103-31-35-4-34 1-34 7-18 6-69 35-17 7-34 10-35 4-17-3-27-13-42-15-68-19-52-23-17-6-35-7-17-2-34-1-104 14-34 3 0-374zM17 147l45 25 36 17 91 35 18 8 11 9 13 17 14 35 10 17 20 25 18 17 34 29 47 32-787 0 0-83 52-12 51-17 121-49 74-28 75-35 26-17 14-14 7-3z"/>
<path fill="#00f4ff" d="M-396-413l809 0 0 396-103-34-35-7-17-2-17 0-34 6-35 11-52 20-17 3-17 1-34-3-69-14-86-9-86-24-52-9-34 2-104 17-34 2 0-356zM-17 204l34-7 35 1 17 4 103 30 21 9 14 8 9 9 8 11 21 41 30 37 35 32 44 34-767 0 0-71 52-14 34-11 155-63 103-36z"/>
<path fill="#0bfff4" d="M-396-413l809 0 0 381-103-38-35-9-17-3-34 1-35 7-69 19-34 2-34-4-58-12-97-6-104-20-34-5-34 3-86 19-52 2 0-337zM-17 222l51-5 35 3 86 21 17 5 17 8 18 12 41 61 27 31 35 33 27 22-750 0 0-59 86-28 103-44 52-20 103-32z"/>
<path fill="#20ffdf" d="M-396-413l809 0 0 366-120-46-35-9-17-2-34 4-69 17-35 5-34-1-69-15-17-1-52-2-34-3-69-9-69-12-17 1-69 17-34 7-52 1 0-318zM-52 239l86-6 35 1 86 19 17 6 17 9 18 15 51 68 35 36 28 26-734 0 0-47 86-30 103-46 52-20 69-20z"/>
<path fill="#35ffca" d="M-396-413l809 0 0 352-120-49-35-10-17-2-34 3-52 14-52 8-34-2-69-15-86-3-86-9-69-12-17 1-17 2-56 15-30 5-18 1-34-2 0-297zM-86 254l52-7 86-2 51 8 52 12 17 6 17 10 18 17 51 65 49 50-720 0 0-35 86-32 138-63 51-16z"/>
<path fill="#4affb5" d="M-396-413l809 0 0 338-120-51-35-11-17-2-17 0-17 3-69 18-35 4-17 1-34-5-52-11-103-6-69-7-69-11-34 1-86 17-18 1-34-4 0-275zM-34 257l68-1 35 1 69 14 34 12 17 11 18 17 51 64 36 38-707 0 0-23 86-34 120-58 35-13 52-15 51-10z"/>
<path fill="#60ff9f" d="M-396-413l809 0 0 325-120-52-35-12-17-3-17 0-17 4-69 19-35 5-17 0-34-5-52-11-138-10-103-15-17-1-35 2-68 10-18 0-34-7 0-249zM-103 275l51-8 104-2 51 7 52 14 17 8 21 16 89 103-695 0 0-11 86-37 120-59 52-19z"/>
<path fill="#75ff8a" d="M-396-413l809 0 0 312-138-59-17-6-17-3-17 0-17 4-69 21-35 4-17 0-34-4-69-13-121-9-120-19-35-1-68 2-35-5-17-5 0-219zM-52 275l86-1 35 2 51 9 35 10 17 9 17 14 18 18 63 77-680 0 66-29 120-62 35-16 34-12 35-9z"/>
<path fill="#8aff75" d="M-396-413l809 0 0 300-138-59-17-7-17-4-17 1-17 4-35 13-34 10-35 4-17 0-34-5-69-13-138-13-120-23-86-11-34-8-18-6 0-183zM-103 290l51-7 86-1 52 5 52 11 17 7 17 10 17 14 70 84-642 0 56-27 103-56 35-16 34-13z"/>
<path fill="#9fff60" d="M-396-413l809 0 0 289-86-36-69-31-17-4-17 0-17 5-35 14-34 10-35 5-34-2-86-18-103-9-52-9-86-22-52-18-69-21-34-13 0-140zM-69 292l52-3 69 2 51 8 35 8 17 7 17 11 17 15 59 73-607 0 124-69 46-23 51-17z"/>
<path fill="#b5ff4a" d="M-396-413l809 0 0 278-86-34-69-33-17-5-18 0-68 27-17 4-35 5-17-1-34-5-86-19-106-11-32-7-52-16-29-11-40-29-17-8-103-43 0-92zM-120 307l51-7 69-3 69 4 51 10 35 13 17 11 26 26 40 52-576 0 119-69 30-15 34-14z"/>
<path fill="#caff35" d="M-396-413l809 0 0 268-86-33-69-34-17-6-17 1-17 5-35 15-34 12-35 4-34-3-103-26-35-4-51-4-35-7-44-16-34-17-42-42-18-12-34-20-86-41 0-40zM-86 309l52-4 51 0 69 7 34 7 18 6 17 8 17 13 17 18 38 49-546 0 112-67 35-17 34-11z"/>
<path fill="#dfff20" d="M-379-413l792 0 0 258-86-32-34-15-35-19-17-6-17 0-17 5-52 23-17 5-35 4-17-1-34-7-69-22-35-8-68-6-18-3-11-4-34-17-24-17-17-18-34-41-17-16-35-23-77-40zM-138 325l69-10 69-3 69 6 47 9 22 7 17 9 17 14 19 22 26 34-518 0 82-52 30-16 34-15z"/>
<path fill="#f4ff0b" d="M-275-413l688 0 0 248-86-30-34-15-35-19-17-7-17 1-17 5-52 22-17 5-18 3-17 1-17-2-34-8-104-38-17-4-51-4-12-3-26-17-17-18-45-68-21-22-16-13-26-17zM-103 326l51-4 52-2 69 7 51 10 20 7 15 9 9 8 16 18 26 34-490 0 80-52 32-17 34-12z"/>
<path fill="#fff400" d="M-172-413l585 0 0 239-86-29-34-14-35-20-17-6-17 0-17 4-52 22-17 6-18 3-17 0-17-2-43-14-36-17-76-46-13-6-19-17-4-17 1-17-3-17-15-18-56-34zM-138 340l52-8 86-4 52 5 51 9 35 12 12 7 22 22 23 30-462 0 78-52 34-16z"/>
<path fill="#ffdf00" d="M-34-413l447 0 0 230-52-15-51-19-35-16-17-10-17-6-17 0-17 3-58 22-29 7-17 0-17-3-17-5-33-16-26-17-17-17-11-18-5-17 0-17 6-34 0-18-10-17-20-17zM-103 342l51-4 52-2 52 6 51 10 35 12 17 15 28 34-434 0 50-34 29-18 34-13z"/>
<path fill="#ffca00" d="M0-413l413 0 0 221-86-25-34-14-35-17-17-7-17-1-17 3-69 25-18 2-17 0-17-5-25-10-25-17-17-17-10-18-4-17-1-17 2-52-4-17-13-17zM-138 356l52-7 69-4 34 2 52 7 34 8 17 6 18 9 17 16 17 20-408 0 64-42 17-9z"/>
<path fill="#ffb500" d="M17-413l396 0 0 212-69-18-34-11-69-30-17-2-17 2-18 4-51 19-18 2-17-1-17-6-28-16-17-17-10-18-6-17-2-17-1-52-4-17-9-17zM-120 361l51-5 52-2 34 2 40 5 29 7 34 12 18 12 20 21-378 0 52-34 30-14z"/>
<path fill="#ff9f00" d="M34-413l379 0 0 204-52-12-51-15-69-29-17-3-17 1-18 3-51 17-18 3-17-3-17-8-25-20-11-18-7-17-3-17-5-52-4-17-6-17zM-138 375l35-7 51-4 52 0 34 4 35 6 34 11 21 11 19 17-347 0 32-21z"/>
<path fill="#ff8a00" d="M52-413l361 0 0 196-86-20-34-11-52-22-17-3-17-1-18 2-51 15-18 2-17-5-22-15-14-18-7-17-5-17-7-52-10-34zM-103 378l69-5 34 2 34 3 52 13 17 7 23 15-312 0 27-17 21-10z"/>
<path fill="#ff7500" d="M52-413l361 0 0 187-52-10-51-12-35-12-34-15-17-4-35 0-51 10-18 0-16-6-18-17-10-18-7-22zM-120 392l51-7 35-1 34 1 34 5 28 6 24 8 18 9-271 0 29-16z"/>
<path fill="#ff6000" d="M69-413l344 0 0 179-103-20-35-11-34-16-17-4-35-2-51 5-18-3-17-12-9-13-9-17-22-86zM-69 396l35-1 34 2 34 5 39 11-217 0 24-9 17-4z"/>
<path fill="#ff4a00" d="M86-413l327 0 0 171-69-11-51-11-18-6-34-17-17-4-35-4-34 0-17-2-18-8-17-19-9-20-20-69zM-103 412l34-4 35-1 34 2 26 4z"/>
<path fill="#ff3500" d="M103-413l310 0 0 163-69-10-51-10-18-5-17-9-34-14-17-4-52-6-17-5-18-14-11-17-7-17-16-52z"/>
<path fill="#ff2000" d="M103-413l310 0 0 154-69-8-51-8-18-6-34-18-17-6-52-12-17-4-11-6-19-17-9-17-18-52z"/>
<path fill="#ff0b00" d="M120-413l293 0 0 146-81-8-39-7-18-6-34-18-17-7-48-14-21-9-17-15-16-28-12-34z"/>
<path fill="#f40000" d="M138-413l275 0 0 137-69-5-51-8-18-6-51-26-52-21-17-12-7-7-11-18-14-34z"/>
<path fill="#df0000" d="M138-413l275 0 0 128-100-8-20-4-18-7-34-18-48-22-26-17-15-18-14-29-2-5z"/>
<path fill="#ca0000" d="M155-413l258 0 0 119-86-5-34-7-18-7-60-31-28-17-18-18-11-17-9-17z"/>
<path fill="#b50000" d="M172-413l241 0 0 110-86-5-34-7-18-7-67-39-19-16-16-19-9-17z"/>
<path fill="#9f0000" d="M189-413l224 0 0 100-52-1-34-3-17-3-21-7-34-17-27-17-22-18-16-17-11-17z"/>
<path fill="#8a0000" d="M207-413l206 0 0 90-52-1-31-3-37-10-35-18-32-24-18-17-13-17z"/>
</g></g>
<g clip-path="url(#ch)"><path transform="scale(.1)" class="cl" d="M413 93l-34-9-35-5-34 0-17 3-18 4-17 10-8 7-9 17 3 18 31 50 10 19 5 17 7 34 7 17 17 18 23 16 35 17 34 11M-413 249l34 2 18-1 34-5 17-4 35-11 55-23 30-18 21-17 13-17 7-17 2-18-5-17-11-17-18-17-26-16-34-12-34-5-35-1-17 2-34 6-52 14M413 6l-224-14-135 111 41 69 163 135 103 91 26 15M-413 324l258-90 134-96-20-104-183-76-189 12M413-75l-120-51-35-11-17-3-17 1-17 3-69 18-35 4-17 0-34-4-52-12-86-4-69-7-86-12-34 1-69 15-17 2-18 0-34-3M-413 390l86-34 120-58 52-18 52-13 34-7 35-2 86-2 34 4 34 7 35 9 17 7 17 11 18 18 51 63 36 38M413-141l-86-34-69-33-17-5-17 0-17 5-35 15-34 12-35 4-34-3-103-24-35-4-51-4-35-6-66-23-20-10-11-7-23-25-18-11-34-18-86-39M-326 413l115-69 36-17 20-7 35-9 34-5 52-4 34-1 52 3 34 5 34 7 30 11 22 14 17 18 43 54M413-193l-86-25-34-13-35-18-17-7-17-1-17 2-18 5-51 20-18 3-17-1-17-4-21-9-26-17-16-17-10-18-5-17-1-17 2-52-5-17-11-17M-233 413l50-34 28-16 17-6 52-7 69-4 51 4 35 5 34 8 17 7 18 9 17 16 15 18M413-240l-52-8-51-10-35-10-34-17-17-5-35-3-51 0-18-6-12-11-11-17-11-30-15-56M-121 413l35-7 52-3 34 2 42 8"/></g>
<use href="#hd"/>
</g>
<g transform="translate(85.0 207.5)">
<g clip-path="url(#cd)"><g filter="url(#soft)" transform="scale(.1)">
<circle r="421" fill="#00008a"/>
<path fill="#00009f" d="M-396-413l809 0 0 715-34-3-18 1-34 8-34 17-115 71-31 17-293 0-31-17-116-71-34-17-34-10-18-1-34 2 0-712z"/>
<path fill="#0000b5" d="M-396-413l809 0 0 676-34-7-18-2-17 1-13 3-21 9-170 112-37 19-35 15-136 0-35-15-36-19-68-46-34-21-69-45-21-9-13-3-17-1-18 1-34 6 0-674z"/>
<path fill="#0000ca" d="M-396-413l809 0 0 640-34-12-35-9-17-2-20 3-14 8-35 44-17 11-52 22-17 10-48 42-24 17-30 18-18 7-35 9-17 1-17-1-35-9-18-7-30-18-24-17-48-42-17-10-52-22-17-11-35-42-17-10-17-2-17 2-35 8-34 11 0-639z"/>
<path fill="#0000df" d="M-396-413l809 0 0 609-52-23-50-18-36-8-17 1-17 8-14 16-20 35-13 17-43 34-13 14-31 38-17 17-21 15-17 10-35 11-17 1-17-1-17-5-18-6-17-10-21-15-17-17-31-38-14-14-44-34-14-17-20-35-11-12-17-10-17-1-35 6-49 17-54 23 0-608z"/>
<path fill="#0000f4" d="M-396-413l809 0 0 581-69-30-34-11-35-7-17 0-17 4-23 14-18 17-41 52-39 41-21 27-13 16-17 15-17 12-18 8-17 4-17 2-17-2-17-4-18-8-17-12-17-15-34-43-39-41-42-52-18-17-22-14-17-5-17 0-18 3-51 16-69 30 0-581z"/>
<path fill="#000bff" d="M-396-413l809 0 0 557-56-24-47-13-35-4-17 0-17 4-31 13-23 18-17 17-54 69-30 35-17 17-17 12-18 9-17 6-17 1-17-1-17-6-18-9-17-12-17-17-45-52-40-52-16-17-22-18-32-15-17-4-17 0-35 5-47 14-56 25 0-558z"/>
<path fill="#0020ff" d="M-396-413l809 0 0 536-52-20-51-12-35-3-17 1-34 9-35 18-26 22-15 17-38 52-41 44-17 13-18 9-17 6-17 2-17-2-17-6-18-9-17-13-41-44-38-52-14-17-27-23-18-11-17-9-17-6-17-3-35 0-51 11-69 27 0-537z"/>
<path fill="#0035ff" d="M-396-413l809 0 0 517-52-18-51-10-35-1-17 1-40 10-35 17-28 21-17 18-32 47-14 18-23 23-17 14-18 9-17 6-17 2-17-2-17-6-18-9-17-14-34-37-35-51-17-18-34-26-35-17-34-9-17-1-35 2-51 13-52 19 0-518z"/>
<path fill="#004aff" d="M-396-413l809 0 0 500-52-17-51-8-52 2-24 5-27 9-35 17-33 25-14 18-35 51-21 23-15 12-20 12-17 5-17 2-17-2-17-5-18-10-17-14-21-23-35-51-14-18-20-17-25-17-40-19-34-8-17-2-35 2-47 10-56 19 0-501z"/>
<path fill="#0060ff" d="M-396-413l809 0 0 483-52-15-51-6-52 3-34 7-17 6-35 16-34 24-18 18-34 52-17 19-17 15-18 11-17 6-17 2-17-2-17-6-18-11-17-14-17-20-34-52-18-18-24-19-27-17-35-15-34-9-17-1-35 1-38 7-65 20 0-485z"/>
<path fill="#0075ff" d="M-396-413l809 0 0 468-52-14-51-5-52 5-51 12-35 15-17 10-32 25-14 17-35 52-22 22-18 11-17 6-17 2-17-2-17-6-18-11-22-22-35-52-11-14-18-16-29-21-22-14-35-15-17-4-34-6-35 1-51 10-52 15 0-469z"/>
<path fill="#008aff" d="M-396-413l809 0 0 454-52-14-51-4-35 3-34 6-34 8-18 6-34 18-35 27-17 19-34 51-17 18-18 12-17 7-17 2-17-2-17-7-18-12-17-18-34-50-17-20-35-28-34-22-18-8-34-11-34-5-18-1-17 1-34 5-69 20 0-455z"/>
<path fill="#009fff" d="M-396-413l809 0 0 440-52-13-51-4-35 4-51 9-35 10-34 17-35 25-25 28-35 52-19 17-7 5-17 8-17 2-17-2-17-8-18-13-17-20-34-50-17-18-35-28-34-21-18-8-34-11-34-5-18-1-17 1-34 6-69 18 0-440z"/>
<path fill="#00b5ff" d="M-396-413l809 0 0 426-52-12-51-4-35 3-51 10-35 10-17 7-34 20-28 22-24 29-34 50-18 15-17 9-17 3-17-3-17-8-18-16-43-62-25-26-52-38-35-18-34-11-34-5-18 0-51 7-69 18 0-426z"/>
<path fill="#00caff" d="M-396-413l809 0 0 413-52-12-51-5-52 6-34 6-35 10-34 16-22 13-23 18-24 26-40 60-12 11-8 6-9 4-17 4-17-4-17-10-18-18-34-52-17-20-17-15-52-38-35-19-34-11-17-2-35-1-51 8-69 19 0-413z"/>
<path fill="#00dfff" d="M-396-413l809 0 0 400-52-12-51-6-52 4-34 6-35 10-34 16-35 21-17 13-13 13-14 17-32 51-10 13-17 13-17 4-17-4-17-13-11-13-32-51-26-28-69-53-35-19-34-11-17-2-35 1-51 10-69 19 0-399z"/>
<path fill="#00f4ff" d="M-396-413l809 0 0 388-34-9-35-7-51-4-52 3-52 12-34 17-49 30-20 16-17 19-12 17-18 34-11 17-11 10-17 7-17-6-11-11-12-17-19-34-12-17-16-18-85-67-17-10-18-8-17-6-17-3-34 0-52 9-86 24 0-386z"/>
<path fill="#0bfff4" d="M-396-413l809 0 0 376-69-16-69-9-34 1-17 2-35 9-17 7-34 18-52 32-17 14-14 13-12 18-26 53-17 13-17-12-28-54-13-18-11-10-51-39-44-37-25-14-18-7-17-5-17-2-34 3-52 12-86 25 0-373z"/>
<path fill="#20ffdf" d="M-396-413l809 0 0 365-69-18-69-12-34-3-34 4-30 8-22 9-121 65-17 9-17 4-17-2-17-8-52-29-69-52-24-13-28-9-34-3-17 1-52 13-103 30 0-359z"/>
<path fill="#35ffca" d="M-396-413l809 0 0 353-52-14-86-20-34-6-17 0-35 4-34 9-69 31-34 13-35 6-34 0-17-2-18-5-17-7-54-35-32-16-34-10-35-4-17 0-17 3-155 47 0-347z"/>
<path fill="#4affb5" d="M-396-413l809 0 0 342-155-42-17-4-34-2-35 3-34 6-69 23-35 9-34 2-17-2-35-9-71-33-32-8-52-5-34 2-17 4-155 48 0-334z"/>
<path fill="#60ff9f" d="M-396-413l809 0 0 331-155-45-17-5-34-5-35-2-34 1-35 4-86 13-17 1-86-24-34-5-35-2-52 2-34 5-172 53 0-322z"/>
<path fill="#75ff8a" d="M-396-413l809 0 0 321-103-30-86-28-35-7-69-9-30-6-21-8-15-9-13-18-3-17 2-17 5-17 24-68 0-21-5-14-12-17-18-13-17-8-17-5-17-1-17 2-24 7-23 17-10 18-2 17 5 17 27 52 11 34 1 17-6 17-14 12-9 6-25 8-104 16-34 8-86 28-86 26 0-310z"/>
<path fill="#8aff75" d="M-396-413l308 0-19 17-12 17-7 18 0 17 4 17 23 52 5 17-1 17-8 17-17 15-18 8-103 31-86 30-86 25 0-298zM69-413l344 0 0 310-103-30-103-37-67-19-20-8-17-11-13-16-6-17 0-17 3-17 15-52 1-17-3-17-10-18-14-17-22-17z"/>
<path fill="#9fff60" d="M-396-413l276 0-18 26-8 26-1 17 4 17 15 52 3 17-5 17-19 17-6 4-26 13-42 18-87 32-103 30 0-286zM103-413l310 0 0 300-120-36-135-58-29-17-14-17-3-17 1-17 11-52 2-17-3-17-8-18-11-17-16-17z"/>
<path fill="#b5ff4a" d="M-396-413l255 0-14 27-6 25-1 17 9 69-3 17-10 17-21 17-30 17-58 27-52 18-86 24 0-275zM120-413l293 0 0 291-86-25-52-19-79-41-28-17-21-17-9-17-2-17 6-69-2-17-7-18-9-17-13-17z"/>
<path fill="#caff35" d="M-396-413l238 0-13 34-3 18 3 68-2 18-6 17-14 17-21 17-44 26-52 21-103 27 0-263zM138-413l275 0 0 281-103-30-35-14-53-31-26-17-21-17-14-17-5-17-2-18 1-51-2-17-14-35-11-17z"/>
<path fill="#dfff20" d="M-396-413l223 0-10 34-2 18 0 51-1 17-4 18-9 17-15 17-22 17-22 14-35 17-51 16-69 16 0-252zM155-413l258 0 0 272-86-24-34-13-35-17-41-29-21-17-16-17-8-17-4-18-5-68-8-28-12-24z"/>
<path fill="#f4ff0b" d="M-396-413l210 0-8 34-5 86-6 18-10 17-17 17-22 17-39 21-51 16-69 15 0-241zM172-413l241 0 0 262-86-23-41-15-28-16-24-19-21-17-17-17-10-17-6-18-7-68-4-18-13-34z"/>
<path fill="#fff400" d="M-396-413l198 0-7 34-4 69-3 17-6 18-12 17-28 25-17 12-18 8-51 16-69 14 0-230zM172-413l241 0 0 253-86-22-34-13-35-20-48-43-12-17-7-18-4-17-9-69-11-34z"/>
<path fill="#ffdf00" d="M-396-413l186 0-6 34-3 69-4 17-7 18-14 17-14 14-17 12-35 16-34 9-69 13 0-219zM189-413l224 0 0 245-69-17-34-11-17-7-18-9-15-12-38-34-13-17-8-18-5-17-9-69-10-34z"/>
<path fill="#ffca00" d="M-396-413l174 0-5 34-3 69-4 17-8 18-14 17-19 16-18 9-34 12-86 15 0-207zM189-413l224 0 0 236-86-21-34-13-22-13-38-34-14-17-9-18-5-17-9-69-9-34z"/>
<path fill="#ffb500" d="M-396-413l162 0-4 34-1 52-6 34-8 18-22 23-18 9-34 11-34 7-52 7 0-195zM207-413l206 0 0 227-69-15-34-10-35-18-32-29-15-17-9-18-6-17-9-69-7-34z"/>
<path fill="#ff9f00" d="M-396-413l149 0-5 103-6 23-6 12-11 11-18 10-34 12-34 6-52 6 0-183zM207-413l206 0 0 218-69-13-34-11-17-7-18-11-24-21-15-17-9-18-6-17z"/>
<path fill="#ff8a00" d="M-396-413l137 0-5 103-4 17-9 18-16 9-17 8-17 4-34 6-52 6 0-171zM224-413l189 0 0 209-69-12-34-10-17-8-18-10-17-15-14-16-9-18-6-17-14-103z"/>
<path fill="#ff7500" d="M-396-413l123 0-2 86-2 17-6 17-10 11-9 7-25 8-34 6-52 5 0-157zM241-413l172 0 0 201-69-12-34-10-17-7-18-11-23-23-9-18-6-17-13-103z"/>
<path fill="#ff6000" d="M-396-413l109 0-4 86-4 17-12 17-20 10-17 4-17 4-52 4 0-142zM241-413l172 0 0 192-69-11-34-9-17-8-18-10-16-16-9-18-8-34-9-86z"/>
<path fill="#ff4a00" d="M-396-413l93 0-5 69-3 17-11 17-5 4-17 8-17 5-52 6 0-126zM258-413l155 0 0 182-69-9-34-10-21-8-14-9-7-8-10-18-5-17-11-103z"/>
<path fill="#ff3500" d="M-396-413l76 0-7 52-5 17-12 18-17 10-18 5-34 6 0-108zM258-413l155 0 0 173-52-6-34-7-19-5-15-7-17-10-9-18-9-34-6-86z"/>
<path fill="#ff2000" d="M-396-413l56 0-4 17-4 17-8 18-5 8-18 14-17 7-17 5 0-86zM275-413l138 0 0 163-69-8-34-9-19-8-15-18-8-34-6-86z"/>
<path fill="#ff0b00" d="M-396-413l31 0-6 17-10 17-15 14-17 10 0-58zM275-413l138 0 0 153-52-6-34-6-17-5-17-11-4-5-8-17-4-17-5-86z"/>
<path fill="#f40000" d="M-410-396l-3 3 0-20 17 0zM293-413l120 0 0 142-46-4-23-4-17-5-20-9-13-17-5-17-6-86z"/>
<path fill="#df0000" d="M310-413l103 0 0 130-34-3-35-6-17-7-15-11-9-17-3-17-6-69z"/>
<path fill="#ca0000" d="M310-413l103 0 0 117-52-7-20-7-14-11-5-6-7-17-4-17-4-52z"/>
<path fill="#b50000" d="M327-413l86 0 0 103-34-6-18-5-17-11-9-12-8-22-7-47z"/>
<path fill="#9f0000" d="M344-413l69 0 0 87-34-10-18-10-11-15-7-18-7-34z"/>
<path fill="#8a0000" d="M361-413l52 0 0 67-17-6-15-9-15-18-7-17-5-17z"/>
</g></g>
<g clip-path="url(#ch)"><path transform="scale(.1)" class="cl" d="M413 119l-52-20-51-11-35-2-17 1-17 3-17 5-19 8-16 10-11 7-20 18-14 17-37 52-21 23-17 17-17 13-18 9-17 6-17 2-17-2-17-6-18-9-17-13-17-17-21-23-37-52-14-17-19-18-12-8-18-11-17-8-17-6-17-4-17-1-35 4-51 14-52 20M413 34l-52-13-31-4-20 0-35 3-34 6-34 8-18 6-34 17-17 12-18 14-18 20-33 49-18 20-17 12-17 7-17 3-17-3-17-7-18-12-17-19-34-50-17-20-35-27-17-12-35-18-34-11-34-5-18-1-17 1-34 6-69 19M413-34l-69-17-34-5-35-2-34 1-17 2-35 9-34 16-17 10-52 33-17 15-19 24-27 51-6 9-10 8-7 3-7-3-10-7-17-27-8-17-10-17-17-21-16-14-35-26-35-30-17-12-17-10-18-7-17-5-17-2-34 2-52 11-86 24M413-93l-103-30-86-28-35-8-88-13-15-5-25-12-13-18-4-17 1-17 4-17 18-52 5-17 0-17-5-17-12-18-21-15-17-8-17-4-17-2-17 2-18 5-12 5-21 17-9 18-2 17 5 17 27 52 6 17 4 17 0 17-8 17-7 6-18 12-16 5-104 18-34 8-86 28-86 26M-177-413l-6 17-6 35-2 68-5 18-9 17-16 17-37 27-35 17-51 16-69 16M413-145l-86-23-34-13-18-8-28-18-44-34-16-17-10-17-5-18-2-17-3-51-11-35-8-17M-242-413l-3 34-3 69-4 17-8 18-15 16-18 9-17 7-34 8-69 9M413-192l-69-14-34-10-17-8-18-10-27-24-14-17-10-18-5-17-9-69-7-34"/></g>
<use href="#hd"/>
</g>
<g transform="translate(197.1 207.5)">
<g clip-path="url(#cd)"><g filter="url(#soft)" transform="scale(.1)">
<circle r="421" fill="#0000b5"/>
<path fill="#0000ca" d="M-396-413l809 0 0 826-826 0 0-826zM-339 172l-29 17-14 18-4 17 7 9 18 8 17 0 51-7 18-4 8-6 2-17-8-18-20-16-17-4-17 1z"/>
<path fill="#0000df" d="M-396-413l809 0 0 637-18-17-26-18-25-10-17-4-17 4-11 10-2 18 9 17 21 20 52 36 34 19 0 114-826 0 0-92 52-28 51-24 17-7 35-7 17-13 4-18-1-17-3-15-10-20-15-17-9-7-18-6-17-3-17-1-17 3-35 11-34 19 0-584z"/>
<path fill="#0000f4" d="M-396-413l809 0 0 580-34-17-35-12-34-4-17 2-18 8-10 11-8 17-2 17 3 34 10 18 36 34 47 52 42 52 20 31 0 3-826 0 0-23 25-29 38-34 47-34 28-15 17-5 17-8 7-7 10-17 4-17-1-17-3-18-15-34-19-20-17-9-18-6-17-2-34 1-35 9-34 13 0-554z"/>
<path fill="#000bff" d="M-396-413l809 0 0 549-34-14-35-8-34-3-35 5-17 9-12 13-8 17-5 34 3 35 5 18 10 16 32 35 39 51 23 35 19 34-745 0 11-17 28-35 34-34 33-25 34-19 17-16 7-9 7-17 3-17 0-17-7-35-10-22-17-22-17-13-17-7-18-5-34-2-34 3-52 15 0-532z"/>
<path fill="#0020ff" d="M-396-413l809 0 0 526-34-12-35-6-34-2-35 5-17 6-22 16-12 21-7 31-1 17 3 35 4 17 7 17 11 18 26 34 23 34 20 35 18 34-672 0 23-34 30-35 18-17 49-40 10-12 10-17 6-17 3-17 0-17-5-35-6-17-9-17-13-18-13-11-17-10-35-10-34-3-34 3-52 12 0-514z"/>
<path fill="#0035ff" d="M-396-413l809 0 0 506-34-10-52-6-34 2-30 7-22 10-17 16-7 8-8 18-5 17-3 17 1 35 5 27 7 24 10 21 49 82 25 52-610 0 10-17 25-35 15-17 38-37 17-21 7-11 9-17 5-17 3-17-1-35-9-34-14-28-19-24-15-10-13-7-21-7-18-4-34-3-34 2-52 10 0-497z"/>
<path fill="#004aff" d="M-396-413l809 0 0 489-34-9-52-4-34 3-35 8-26 12-20 17-11 17-7 18-5 17-1 17 0 35 6 34 5 17 15 35 36 68 21 52-555 0 20-34 26-35 31-36 21-33 11-34 3-17-1-35-7-34-16-35-12-17-16-14-17-11-34-12-35-5-51 0-52 8 0-482z"/>
<path fill="#0060ff" d="M-396-413l809 0 0 474-46-9-40-2-52 6-34 11-17 9-14 10-15 17-9 17-10 35-2 17 1 35 11 51 12 35 31 68 19 52-506 0 29-52 40-56 15-30 6-17 7-34 1-17-4-35-10-34-19-35-15-17-16-12-17-9-34-12-35-5-51 1-52 7 0-469z"/>
<path fill="#0075ff" d="M-396-413l809 0 0 459-34-6-52-2-52 6-34 10-29 15-20 17-12 17-8 17-6 18-3 17-2 34 7 52 9 34 33 86 15 52-460 0 16-34 47-79 11-25 6-22 5-29 1-17-3-35-10-34-16-35-13-17-16-15-17-11-34-14-52-9-51 0-52 6 0-456z"/>
<path fill="#008aff" d="M-396-413l809 0 0 446-52-7-51 2-52 9-34 12-17 9-16 11-15 17-11 17-12 35-3 17-1 34 6 52 13 52 28 86 8 34-417 0 14-34 44-86 11-35 6-34 0-17-1-18-6-34-11-35-19-34-15-17-17-13-17-9-34-13-52-8-51-1-52 5 0-443z"/>
<path fill="#009fff" d="M-396-413l809 0 0 433-34-5-35 0-34 2-52 9-34 11-30 15-21 17-13 17-9 17-11 35-4 34 1 35 12 68 24 86 10 52-375 0 18-52 32-68 10-35 5-34 0-35-6-34-11-35-11-24-17-26-17-16-18-11-34-15-34-8-35-5-51-1-52 4 0-431z"/>
<path fill="#00b5ff" d="M-396-413l809 0 0 421-34-4-52 1-52 8-34 7-39 14-29 18-17 17-11 17-8 17-10 35-3 17-2 34 7 52 27 120 7 52-334 0 15-52 28-68 9-35 5-34 0-35-6-34-11-35-15-34-11-17-15-17-17-13-18-9-34-13-34-8-52-5-34-1-52 4 0-420z"/>
<path fill="#00caff" d="M-396-413l809 0 0 410-34-4-35 1-51 6-52 10-34 11-30 13-22 17-14 18-10 17-14 34-7 35-2 34 6 52 23 120 4 52-291 0 12-52 19-51 10-35 7-34 2-34-4-35-8-34-13-35-17-34-14-17-19-18-32-16-34-12-34-8-35-4-51-1-52 3 0-409z"/>
<path fill="#00dfff" d="M-396-413l809 0 0 399-34-3-52 2-52 8-51 12-37 12-31 17-18 18-12 17-10 17-13 34-8 35-2 34 2 35 22 137 2 52-246 0 4-34 5-18 25-86 6-34 1-34-3-35-9-34-21-52-19-32-18-20-26-17-25-11-34-11-34-7-35-4-51-1-52 2 0-398z"/>
<path fill="#00f4ff" d="M-396-413l809 0 0 389-34-3-52 2-52 9-51 11-35 11-27 11-24 17-16 18-11 17-17 34-11 35-6 34-1 17 1 35 15 103 3 34 0 35-2 17-194 0 0-17 5-35 17-68 7-35 3-34-1-35-7-34-19-52-18-34-24-35-22-17-29-15-35-12-34-9-35-5-34-3-86 1 0-387z"/>
<path fill="#0bfff4" d="M-396-413l809 0 0 378-34-2-35 1-51 7-57 12-47 12-34 14-17 10-18 16-23 34-19 34-13 35-9 34-1 17 1 35 13 120-1 35-7 34-130 0-2-17 1-35 13-68 8-52 1-34-2-18-8-34-22-52-30-51-13-18-15-15-17-12-34-16-35-12-34-8-35-6-34-2-86 1 0-377z"/>
<path fill="#20ffdf" d="M-396-413l809 0 0 369-34-3-35 2-34 4-69 14-52 13-34 12-17 8-18 13-27 33-33 51-35 69-6 17-2 18 2 17 5 34 7 69-1 34-4 18-8 17-18 10-17-5-4-5-8-17-2-18 14-113 6-24 2-17-13-35-41-69-33-51-24-32-18-14-17-10-34-15-52-17-34-7-35-3-103-1 0-366z"/>
<path fill="#35ffca" d="M-396-413l809 0 0 359-52-2-51 6-103 22-52 15-27 13-20 17-74 91-17 17-17 6-17-6-17-15-18-20-57-73-19-17-32-17-64-24-51-12-52-4-86 0 0-356z"/>
<path fill="#4affb5" d="M-396-413l809 0 0 349-52-2-34 4-103 20-69 20-17 7-26 15-18 17-42 47-18 16-17 12-17 5-17-4-17-11-18-15-43-50-25-23-19-11-50-23-52-16-34-7-52-4-86 0 0-346z"/>
<path fill="#60ff9f" d="M-396-413l809 0 0 340-52-2-34 3-120 25-52 16-33 14-19 13-51 49-18 14-17 9-17 4-17-3-17-8-18-13-47-48-23-17-33-18-52-21-34-11-34-6-35-3-103-2 0-335z"/>
<path fill="#75ff8a" d="M-396-413l809 0 0 330-52-2-34 4-103 21-52 14-34 12-18 9-17 10-51 45-18 12-17 8-17 4-17-3-17-7-18-13-51-45-17-12-52-26-52-20-34-9-35-4-120-3 0-325z"/>
<path fill="#8aff75" d="M-396-413l809 0 0 321-52-2-34 3-120 26-35 10-34 12-35 18-69 52-17 8-17 3-17-2-17-8-18-11-41-34-27-19-52-26-52-21-34-10-17-2-138-4 0-314z"/>
<path fill="#9fff60" d="M-396-413l809 0 0 312-52-2-34 3-138 30-34 11-35 15-34 21-52 36-17 8-17 3-17-2-17-8-69-48-17-11-69-35-35-14-17-6-34-6-86-1-52-2 0-304z"/>
<path fill="#b5ff4a" d="M-396-413l809 0 0 303-52-3-34 3-138 30-34 12-35 15-33 19-53 34-17 8-17 3-17-2-17-8-86-55-87-45-34-13-34-5-86 0-52-3 0-293z"/>
<path fill="#caff35" d="M-396-413l809 0 0 294-52-3-34 2-120 25-35 11-34 14-35 16-69 42-17 7-17 3-17-2-17-7-69-43-69-38-35-19-34-13-34-5-86 1-52-4 0-281z"/>
<path fill="#dfff20" d="M-396-413l809 0 0 285-52-3-34 1-34 5-86 18-35 11-52 24-86 48-17 7-17 3-17-3-17-6-155-91-35-18-17-5-34-4-86 3-52-5 0-270z"/>
<path fill="#f4ff0b" d="M-396-413l809 0 0 277-52-4-34 0-52 6-68 13-18 6-34 16-121 63-17 6-17 3-17-2-35-15-86-50-51-34-35-18-17-5-17-2-103 3-52-5 0-258z"/>
<path fill="#fff400" d="M-396-413l809 0 0 268-69-4-69 1-51 4-35 12-49 29-106 55-17 6-17 2-17-2-17-5-35-17-66-39-54-40-35-19-17-4-17-2-103 5-52-5 0-245z"/>
<path fill="#ffdf00" d="M-396-413l375 0-17 17 1 17 23 18 14 4 34 3 18-1 20-6 1-18-15-17-27-17 382 0 0 260-120-8-18-2-51-13-17 6-62 50-28 17-65 36-35 13-17 2-17-2-17-5-22-10-60-34-25-17-48-42-18-11-17-7-17-3-17-1-69 7-34 1-52-6 0-231z"/>
<path fill="#ffca00" d="M-396-413l296 0-9 17-5 17 0 18 9 17 19 11 19 6 33 5 86 9 34 2 17-2 17-8 5-6 7-17-2-17-8-18-29-34 320 0 0 252-86-7-34-5-18-6-17-10-34-33-17-3-6 1-12 8-21 44-11 17-14 17-21 18-58 34-39 17-25 5-17-2-17-5-35-17-53-32-19-18-31-34-17-15-18-10-17-5-17-1-69 10-34 3-35-1-34-5 0-217z"/>
<path fill="#ffb500" d="M-396-413l253 0-13 34-3 18 0 17 4 20 7 14 10 14 18 7 17 1 86-2 137 11 18-1 10-13 4-17 2-34-3-17-7-18-22-34 291 0 0 244-86-8-34-8-18-8-14-14-20-24-13-10-39-13-17-3-15 16-10 52-6 17-9 17-13 17-21 18-27 17-37 18-17 6-17 2-17-2-17-5-38-19-27-17-22-18-13-17-38-60-17-12-18-4-17 1-69 19-34 5-34 1-52-6 0-202z"/>
<path fill="#ff9f00" d="M-396-413l222 0-11 34-6 69-4 17-11 18-22 17-47 25-18 5-19 4-32 3-35-2-34-5 0-185zM155-413l258 0 0 236-86-8-34-10-18-12-34-38-48-30-14-18-6-17-8-51-10-27-14-25zM-52-260l35-4 51 3 35 6 17 5 19 9 11 17 3 17 0 18-4 17-8 17-15 17-21 18-27 17-27 10-17 2-17-2-29-10-28-17-21-18-15-17-9-17-4-17-1-18 5-17 17-17 16-9z"/>
<path fill="#ff8a00" d="M-396-413l194 0-8 34-7 52-4 17-8 17-13 18-16 13-17 11-35 10-17 2-34 0-52-7 0-167zM172-413l241 0 0 228-69-6-34-7-17-8-18-12-34-36-30-21-15-18-8-17-16-66-16-37zM-52-228l18-6 34-3 34 4 27 9 8 5 11 12 6 18-1 17-7 17-14 17-22 18-25 11-17 3-17-2-27-12-22-18-14-17-8-17 0-17 7-18 12-11z"/>
<path fill="#ff7500" d="M-396-413l168 0-15 86-5 17-8 17-14 18-5 4-18 7-34 6-34 0-52-9 0-146zM172-413l241 0 0 219-52-3-34-5-17-5-17-8-18-13-34-35-16-12-16-18-10-17-17-69-13-34zM-34-195l17-8 17-2 17 2 17 9 6 5 7 17-5 17-14 17-11 7-17 5-17-4-13-8-15-17-4-17 8-17z"/>
<path fill="#ff6000" d="M-396-413l141 0-16 86-7 17-14 17-18 8-34 3-35-2-34-6 0-123zM189-413l224 0 0 211-52-2-34-6-17-5-17-9-18-12-41-39-14-18-10-17-6-17-15-61-8-25z"/>
<path fill="#ff4a00" d="M-396-413l111 0-13 52-7 17-5 9-7 8-10 7-17 5-17 2-18-1-34-5 0-94zM207-413l206 0 0 203-69-4-34-9-17-8-18-13-32-31-14-18-10-17-6-17-21-86z"/>
<path fill="#ff3500" d="M-396-413l73 0-8 17-13 20-20 15-15 4-17 2-17-1 0-57zM207-413l206 0 0 195-52-2-34-5-17-5-17-8-18-12-26-25-12-18-9-17-11-34-15-69z"/>
<path fill="#ff2000" d="M-396-413l5 0-5 3-17 5 0-8zM224-413l189 0 0 187-69-3-34-8-17-8-18-11-19-19-12-18-8-17-10-34-14-69z"/>
<path fill="#ff0b00" d="M224-413l189 0 0 178-52 0-34-5-34-12-18-11-13-12-11-18-8-17-9-34-12-69z"/>
<path fill="#f40000" d="M241-413l172 0 0 170-52 0-34-4-34-12-18-10-6-6-11-18-7-17-9-34-10-69z"/>
<path fill="#df0000" d="M258-413l155 0 0 161-52 0-34-3-17-4-17-7-18-10-9-17-7-17-5-17-12-86z"/>
<path fill="#ca0000" d="M258-413l155 0 0 151-34 2-35-1-34-7-20-7-17-18-10-34-11-86z"/>
<path fill="#b50000" d="M275-413l138 0 0 142-52 1-34-2-17-4-17-9-8-8-9-17-4-17-10-86z"/>
<path fill="#9f0000" d="M275-413l138 0 0 131-34 2-35 0-17-3-17-5-10-5-7-7-6-10-5-17-5-34-4-52z"/>
<path fill="#8a0000" d="M293-413l120 0 0 120-34 2-41-2-11-2-17-8-7-7-9-17-5-34-4-52z"/>
</g></g>
<g clip-path="url(#ch)"><path transform="scale(.1)" class="cl" d="M413 87l-34-9-35-5-34 0-35 5-25 8-9 5-17 12-13 17-8 18-4 17-3 34 4 35 7 28 17 38 41 71 23 52M-302 413l21-34 13-18 61-67 18-31 7-22 2-17 1-17-1-18-8-34-8-17-9-18-15-17-21-16-17-7-35-9-34-3-34 2-52 9M413 7l-34-4-35 0-51 5-52 11-42 15-27 17-17 18-11 17-8 17-11 35-2 17-2 34 6 52 10 52 17 68 7 52M-169 413l14-52 29-68 9-35 4-34 0-35-6-34-11-35-15-34-11-17-15-17-18-14-18-9-34-13-34-8-52-6-34 0-52 4M413-53l-52-2-51 6-103 22-36 10-33 13-18 11-26 27-60 79-17 17-17 7-17-6-17-16-18-21-44-60-24-26-18-13-17-9-34-14-35-12-51-11-52-4-86-1M413-107l-52-2-34 2-138 31-34 11-35 15-27 16-59 39-17 8-17 3-17-3-17-7-18-10-41-30-27-17-87-44-34-12-34-6-86 0-52-3M-62-413l-10 17-2 17 10 18 12 7 23 10 29 6 52 4 17 0 17-2 17-8 4-17-7-18-14-17-20-17M413-156l-120-10-18-3-17-7-34-20-17 2-33 39-17 17-21 18-28 17-56 31-18 8-17 5-17 2-17-2-17-5-35-17-39-22-26-17-55-51-18-11-17-6-17-3-17 1-86 9-35-2-34-4M-259-413l-16 81-10 22-8 10-17 10-17 3-17 1-35-2-34-7M413-203l-52-3-34-5-17-5-17-9-18-13-39-37-15-18-10-17-6-17-16-67-6-19"/></g>
<use href="#hd"/>
</g>
<g transform="translate(309.2 207.5)">
<g clip-path="url(#cd)"><g filter="url(#soft)" transform="scale(.1)">
<circle r="421" fill="#0000df"/>
<path fill="#0000f4" d="M-396-413l809 0 0 826-826 0 0-826zM-354 120l-12 18 6 17 16 7 17 2 17-3 13-6 4-6 6-11-6-18-17-7-17-2-17 4z"/>
<path fill="#000bff" d="M-396-413l809 0 0 826-826 0 0-826zM-373 103l-19 17-8 18 2 17 13 17 6 4 18 6 17 3 17 0 17-3 23-10 16-17 6-17-3-18-7-10-18-13-17-5-17-2-17 2z"/>
<path fill="#0020ff" d="M-396-413l809 0 0 826-826 0 0-233 17 12 17 5 18 3 17 1 34-4 17-5 18-11 17-22 6-21-2-18-10-17-11-11-10-6-25-9-17-2-17 1-17 4-18 6-17 11-9 6-8 9 0-525z"/>
<path fill="#0035ff" d="M-396-413l809 0 0 826-826 0 0-207 17 5 35 3 34-2 34-8 18-8 17-16 12-25 4-17-1-18-8-17-7-10-17-15-18-9-17-5-17-2-17 1-35 7-34 17 0-500z"/>
<path fill="#004aff" d="M-396-413l809 0 0 826-826 0 0-188 34 3 35-3 34-5 35-11 17-13 15-24 6-17 3-17-1-18-6-17-12-17-22-20-18-8-17-5-34-2-35 6-34 13 0-483z"/>
<path fill="#0060ff" d="M-396-413l809 0 0 826-826 0 0-172 34-1 35-4 51-11 18-6 17-10 17-21 12-33 3-17-2-18-5-17-9-17-16-19-17-12-18-8-17-5-34-2-35 5-34 11 0-469z"/>
<path fill="#0075ff" d="M-396-413l809 0 0 826-826 0 0-158 34-2 35-7 69-17 17-8 15-14 10-18 9-24 4-27-1-18-3-13-9-21-8-12-17-18-17-12-18-8-17-4-34-3-35 5-34 9 0-456z"/>
<path fill="#008aff" d="M-396-413l809 0 0 561-17 3-9 4-8 8-5 9 1 17 9 18 16 17 13 9 0 180-826 0 0-144 52-8 86-23 17-7 17-14 17-28 9-34 2-17-1-18-4-17-7-17-16-24-17-17-17-11-18-8-34-6-34 1-52 10 0-444z"/>
<path fill="#009fff" d="M-396-413l809 0 0 525-34 3-19 5-16 12-6 6-8 17 0 17 4 17 7 18 12 17 26 25 34 24 0 140-826 0 0-130 52-12 103-30 17-12 17-25 13-32 4-34-1-18-3-17-13-29-17-24-17-16-17-11-18-7-34-6-34 1-52 9 0-433z"/>
<path fill="#00b5ff" d="M-396-413l809 0 0 501-34 2-18 3-24 10-22 17-9 18-3 17 1 17 4 17 19 38 17 21 17 16 18 14 34 24 0 111-826 0 0-117 34-8 86-30 35-9 17-9 17-22 14-29 5-17 4-34-4-35-14-34-22-31-17-14-11-7-24-10-34-6-34 0-52 8 0-422z"/>
<path fill="#00caff" d="M-396-413l809 0 0 482-34 1-18 3-35 13-23 17-14 17-6 18 0 17 2 17 8 26 12 26 10 17 14 17 18 17 32 27 34 24 0 87-826 0 0-103 52-17 68-27 35-9 17-9 17-17 17-32 9-27 3-34-3-35-13-34-13-22-10-13-24-21-17-10-18-6-34-6-34 1-52 7 0-412z"/>
<path fill="#00dfff" d="M-396-413l809 0 0 466-34 1-18 2-34 11-17 9-17 13-13 14-10 17-4 18 1 17 8 38 18 40 16 25 35 36 69 54 0 65-826 0 0-90 52-19 68-30 52-17 18-16 11-17 9-17 11-35 3-34-3-35-5-17-10-23-17-29-17-18-17-14-17-9-18-6-34-5-34 0-52 7 0-402z"/>
<path fill="#00f4ff" d="M-396-413l809 0 0 452-34 0-35 7-18 6-32 17-19 16-13 18-7 17-3 18 1 17 8 34 14 38 18 31 17 21 34 34 69 57 0 43-826 0 0-76 52-21 85-41 35-11 9-6 17-17 11-17 8-17 10-35 3-34-1-18-5-30-16-38-19-29-17-18-17-13-17-9-35-9-34-1-69 6 0-392z"/>
<path fill="#0bfff4" d="M-396-413l809 0 0 438-34 1-35 6-34 12-17 10-18 13-17 19-10 17-6 17-2 18 1 17 8 34 13 35 17 34 14 20 34 36 86 77 0 22-826 0 0-62 52-23 68-36 52-21 19-13 15-18 18-33 9-35 3-34-3-35-4-17-13-34-10-18-17-23-17-18-15-10-19-10-35-8-34-1-69 5 0-382z"/>
<path fill="#20ffdf" d="M-396-413l809 0 0 426-34 1-35 5-34 12-17 8-18 12-18 18-16 24-10 27-2 18 4 34 8 27 17 42 17 32 18 22 34 36 86 82-826 0 0-47 52-26 86-47 34-14 17-11 11-10 13-17 17-34 9-35 3-34-3-35-4-17-12-34-19-35-15-19-17-16-17-12-17-8-35-7-34 0-69 4 0-372z"/>
<path fill="#35ffca" d="M-396-413l809 0 0 415-34 0-35 6-34 10-35 18-18 16-14 17-10 17-9 23-5 29 4 34 10 35 14 34 19 34 12 18 32 36 82 84-805 0 0-33 52-27 72-43 48-23 17-11 17-16 18-25 12-28 9-35 3-34-3-35-3-17-12-34-24-44-17-22-17-16-17-11-17-7-18-4-34-3-86 5 0-363z"/>
<path fill="#4affb5" d="M-396-413l809 0 0 404-34 1-49 8-37 13-18 9-17 13-17 19-10 15-10 17-6 17-4 17-1 18 3 34 10 35 14 34 18 34 20 30 18 21 80 87-786 0 0-17 52-30 86-53 51-28 17-15 21-29 16-34 8-35 3-34-3-35-3-17-7-25-11-27-24-40-17-21-17-16-17-10-17-6-18-4-34-1-86 4 0-353z"/>
<path fill="#60ff9f" d="M-396-413l809 0 0 394-42 2-44 7-34 11-18 8-17 12-17 16-22 32-14 34-4 35 3 34 9 35 14 34 18 34 30 45 80 93-768 0 132-86 57-34 17-14 18-21 10-17 15-34 9-35 2-34-5-52-5-17-12-35-14-28-18-27-17-20-17-15-17-9-17-6-18-2-34-1-86 5 0-344z"/>
<path fill="#75ff8a" d="M-396-413l809 0 0 384-52 3-34 6-34 10-18 7-17 10-17 15-23 30-17 34-8 34-1 35 7 34 11 35 16 34 32 53 81 102-728 0 100-69 65-42 17-14 13-13 22-33 15-35 8-35 2-34-5-52-9-34-7-18-21-44-18-26-17-19-17-14-17-9-17-4-35-2-103 5 0-334z"/>
<path fill="#8aff75" d="M-396-413l809 0 0 375-52 3-34 5-34 9-35 15-17 13-10 10-24 34-16 35-8 34-1 18 3 34 10 35 14 34 17 34 21 35 77 103-689 0 93-69 48-32 17-14 18-18 15-22 9-17 15-34 8-35 1-34-4-52-4-17-11-35-12-27-17-33-18-26-17-19-17-13-17-7-17-4-18 0-68 5-52 2 0-325z"/>
<path fill="#9fff60" d="M-396-413l809 0 0 366-52 3-51 7-35 11-17 8-17 11-24 24-22 35-14 34-7 34-1 18 3 34 9 35 14 34 18 34 24 41 68 97-653 0 137-105 18-18 12-15 19-34 14-34 8-35 2-17-1-35-7-51-17-52-30-61-18-25-17-18-17-12-17-6-17-2-86 8-52 1 0-315z"/>
<path fill="#b5ff4a" d="M-396-413l809 0 0 357-52 3-51 7-35 8-17 8-17 10-23 20-13 17-16 25-12 27-6 17-7 34 0 35 2 17 10 35 14 34 38 69 68 103-620 0 117-95 18-17 20-26 10-17 16-34 11-35 5-34-1-52-3-17-8-34-12-35-21-48-21-38-14-19-17-17-17-10-17-5-35 2-68 10-52 0 0-305z"/>
<path fill="#caff35" d="M-396-413l809 0 0 348-69 5-51 7-35 11-17 9-17 13-17 18-18 24-22 47-10 34-3 35 0 17 7 34 12 35 16 34 19 35 75 120-588 0 98-84 20-19 26-35 26-51 11-35 5-34-2-52-5-34-5-17-24-66-16-38-19-34-17-22-17-15-17-9-17-3-17 1-65 14-21 2-52 0 0-295z"/>
<path fill="#dfff20" d="M-396-413l809 0 0 339-86 6-34 5-35 9-17 8-17 11-19 18-24 34-18 35-7 17-9 34-4 35 1 17 7 34 12 35 36 69 72 120-557 0 97-89 26-31 20-35 22-51 8-35 2-34-4-52-13-52-40-103-21-39-18-21-10-9-7-4-17-6-17-2-17 2-69 18-35 3-34-2 0-284z"/>
<path fill="#f4ff0b" d="M-396-413l809 0 0 330-103 7-35 5-34 12-17 10-17 14-16 18-19 28-12 23-15 35-9 34-3 35 0 17 3 17 10 35 15 34 18 34 80 138-528 0 62-59 35-37 18-24 19-35 23-51 8-35 2-34-4-52-3-17-10-35-44-120-9-19-17-28-18-19-17-10-17-4-17 0-17 3-69 22-17 3-52-3 0-272z"/>
<path fill="#fff400" d="M-396-413l809 0 0 321-138 10-34 9-17 9-17 12-18 18-17 24-32 62-12 34-4 17-3 35 1 17 7 34 6 18 25 51 50 86 37 69-498 0 62-63 33-40 21-35 25-51 12-35 6-34-1-35-3-34-14-52-45-133-17-37-13-19-22-22-17-8-17-1-17 2-17 5-69 26-17 3-18 0-34-3 0-260z"/>
<path fill="#ffdf00" d="M-396-413l809 0 0 312-52 4-68 2-35 4-34 12-17 10-18 15-15 20-19 31-27 55-13 34-4 17-3 35 1 17 3 17 11 35 26 51 51 86 36 69-471 0 63-68 27-35 20-35 25-51 13-35 6-34 0-35-5-34-8-34-23-69-32-103-23-51-17-23-18-13-17-4-17 1-17 6-69 30-17 6-17 4-18 1-34-3 0-247z"/>
<path fill="#ffca00" d="M-396-413l809 0 0 303-52 4-103 3-34 8-18 9-22 17-14 17-15 24-41 80-17 51-4 35 1 17 3 17 13 35 18 34 63 103 33 69-442 0 46-53 34-45 24-40 26-51 13-35 7-34 0-35-5-34-9-34-24-69-22-86-16-52-11-29-17-35-17-18-18-6-17 0-17 6-52 30-34 17-17 6-17 4-18 1-34-2 0-232z"/>
<path fill="#ffb500" d="M-396-413l809 0 0 293-52 5-86-2-34 2-17 3-17 7-18 10-17 16-20 27-53 104-19 51-5 35 2 17 3 17 7 17 7 18 20 34 66 103 33 69-415 0 56-69 34-51 46-86 6-18 8-34 0-35-6-34-30-86-14-52-36-155-9-51 0-17 5-18 22-33 9-18 5-17-1-18-13-16-18-1-17 8-17 22-10 39-7 17-12 17-21 18-71 49-34 17-34 11-18 2-34-2 0-215z"/>
<path fill="#ff9f00" d="M-396-413l204 0-17 34-23 69-10 17-13 18-20 17-28 17-24 12-34 11-35 2-17-2 0-195zM-34-413l447 0 0 284-34 4-35 2-103-8-17 2-17 4-18 8-19 14-15 16-12 18-33 69-46 86-7 17-4 17-2 18 1 17 5 17 8 17 21 35 69 96 15 24 17 35 14 34-386 0 52-69 23-34 62-103 8-18 12-34 2-17-2-18-11-34-30-73-19-65-20-103-5-34-2-35 5-34 6-17 9-18 46-68 9-18 4-17 0-17z"/>
<path fill="#ff8a00" d="M-396-413l165 0-30 103-9 17-15 18-29 17-30 12-17 5-18 2-34-1 0-173zM52-413l361 0 0 274-34 5-35 1-34-4-52-8-34-2-17 1-18 4-17 8-17 14-17 22-38 81-31 53-17 25-18 19-17 10-17-3-17-15-17-25-18-34-11-30-10-35-13-68-5-52 0-35 5-34 7-17 10-20 17-23 18-19 48-41 16-18 7-17-1-17zM17 186l17 9 18 17 51 58 35 44 17 24 13 23 21 52-358 0 62-86 38-58 35-46 17-20 17-14z"/>
<path fill="#ff7500" d="M-396-413l130 0-22 86-7 17-15 18-31 17-20 6-18 2-34 0 0-146zM103-413l310 0 0 264-34 5-35 1-34-5-86-20-35-1-17 4-17 9-17 14-16 22-36 86-17 31-17 23-18 16-17 7-17-2-17-13-17-25-16-37-5-18-11-51-4-35 0-51 6-35 6-17 9-17 15-20 17-16 17-11 17-8 52-18 24-13 11-17 1-18-3-17-7-17zM0 233l17-3 17 5 18 9 34 30 34 37 26 33 10 17 20 52-327 0 82-117 17-22 18-18 17-14z"/>
<path fill="#ff6000" d="M-396-413l92 0-14 52-7 17-11 17-8 8-17 10-18 5-34 3 0-112zM138-413l275 0 0 253-52 7-34-3-52-14-68-27-18-4-17-2-17 1-17 9-4 4-14 14-12 20-16 35-23 63-17 30-18 19-15 8-19-2-17-18-7-14-10-25-11-44-3-35 1-34 7-35 5-17 9-17 9-12 17-15 17-7 17-4 52-3 17-3 17-10 18-24 8-25 1-17-3-18-11-34zM-17 273l17-8 17-3 17 3 18 7 17 11 34 30 35 41 12 25 13 34-296 0 64-90 17-21 18-17z"/>
<path fill="#ff4a00" d="M-396-413l44 0-9 20-18 24-17 12-17 5 0-61zM172-413l241 0 0 242-52 6-17-1-34-6-35-13-17-9-46-30-22-17-15-17-7-17-2-18 4-68-2-18-9-34zM34-225l18 7 10 11 5 18-1 17-6 34-10 35-16 27-17 11-17-9-15-29-4-17 1-35 4-17 14-34 17-16zM17 291l17 1 18 6 17 9 34 28 22 26 13 23 9 29-261 0 45-62 17-20 18-17 17-13 17-7z"/>
<path fill="#ff3500" d="M189-413l224 0 0 229-34 6-18 1-34-4-26-8-26-12-17-12-48-45-12-17-6-18-2-17-4-69-6-34zM0 323l17-4 17 1 18 4 17 9 17 12 17 17 17 26 10 25-221 0 25-34 31-35 18-13z"/>
<path fill="#ff2000" d="M207-413l206 0 0 216-34 6-18 1-17-1-34-9-17-8-18-10-41-40-14-17-8-18-4-17-4-69-5-34zM0 355l17-5 17 0 18 4 14 7 21 18 12 17 9 17-172 0 30-35 17-14z"/>
<path fill="#ff0b00" d="M224-413l189 0 0 203-34 5-18 1-34-5-17-6-19-9-16-10-24-24-13-17-9-18-4-17-3-17-4-86zM0 394l17-6 17 0 18 5 17 14 5 6-100 0 9-8z"/>
<path fill="#f40000" d="M241-413l172 0 0 188-34 5-18 1-34-5-34-14-18-12-8-8-14-17-8-18-5-17-3-34-1-69z"/>
<path fill="#df0000" d="M258-413l155 0 0 171-34 6-35 0-17-4-17-6-17-8-18-13-7-8-8-18-5-17-2-34 1-69z"/>
<path fill="#ca0000" d="M275-413l138 0 0 152-34 7-35 0-17-3-17-7-21-11-12-18-4-17-2-34 3-69z"/>
<path fill="#b50000" d="M310-413l103 0 0 130-34 7-35 0-17-4-21-13-10-17-4-17 0-17 5-69z"/>
<path fill="#9f0000" d="M327-413l86 0 0 102-34 6-18 0-17-5-17-16-5-18-1-17 3-52z"/>
<path fill="#8a0000" d="M379-413l34 0 0 58-17 1-17-6-12-19-4-17-1-17z"/>
</g></g>
<g clip-path="url(#ch)"><path transform="scale(.1)" class="cl" d="M-413 241l34 0 35-4 51-11 18-6 17-10 17-21 7-17 6-17 2-17-1-18-5-17-9-17-17-19-17-13-18-8-17-4-17-3-17 0-35 6-34 10M413 59l-34 1-18 3-22 6-29 14-22 20-11 17-5 18 0 17 3 19 11 33 8 17 16 25 17 21 17 16 35 29 34 25M-413 318l52-18 68-29 35-10 17-8 17-16 10-13 9-17 10-35 4-34-4-35-12-35-9-16-12-18-13-14-17-14-17-9-18-6-34-5-34 0-52 6M413-11l-34 1-52 9-34 12-18 9-19 14-15 17-13 18-9 17-6 17-3 17-2 18 1 17 7 34 12 35 15 34 15 26 17 24 35 40 59 65M-413 399l52-30 86-54 51-29 17-15 12-13 11-17 15-34 9-35 2-34-2-35-4-17-8-29-10-23-8-17-17-26-17-21-17-15-17-10-17-7-18-3-34-1-86 5M413-63l-69 5-46 6-23 6-17 7-17 9-17 13-16 17-13 17-19 35-13 34-6 34 0 35 2 17 10 35 14 34 27 52 76 120M-309 413l85-71 35-32 17-21 19-31 22-51 8-35 2-17-1-35-3-34-3-17-17-52-27-65-22-38-13-17-17-16-17-9-17-3-17 1-52 10-34 4-52 0M413-113l-249 61-76 190 46 120 86 155M-213 413l137-206 3-138-134-326-206 70M-347-413l-14 32-16 20-19 10-17 5M413-170l-34 5-18 1-17-1-37-7-43-17-30-18-50-34-14-17-6-17-1-18 5-51 0-17-2-18-9-34M-116 413l47-65 17-20 18-17 17-12 14-6 20-5 17 1 18 6 17 10 17 12 17 16 24 28 11 19 11 33M17-229l17-3 18 5 6 3 13 17 2 18-4 34-17 59-18 29-17 10-17-8-12-21-7-17-3-17-1-18 5-34 6-17 12-26 17-14"/></g>
<use href="#hd"/>
</g>
<g transform="translate(421.3 207.5)">
<g clip-path="url(#cd)"><g filter="url(#soft)" transform="scale(.1)">
<circle r="421" fill="#0000df"/>
<path fill="#0000f4" d="M-396-413l809 0 0 826-826 0 0-826zM-313 120l-14 5-27 13-11 17 5 17 16 7 17 1 28-8 24-17 8-17-8-14-8-4-10-1z"/>
<path fill="#000bff" d="M-396-413l809 0 0 826-826 0 0-826zM-317 103l-27 9-17 7-24 19-10 17-1 17 10 17 7 5 18 7 17 1 17-1 35-12 17-10 17-16 6-8 6-17-3-18-9-10-17-8-18-1z"/>
<path fill="#0020ff" d="M-396-413l809 0 0 826-826 0 0-214 8 8 9 4 17 6 18 2 17 0 34-8 17-7 18-9 17-13 17-20 4-7 5-17-2-18-11-17-13-8-17-6-18-2-34 5-35 11-30 17-21 22 0-555z"/>
<path fill="#0035ff" d="M-396-413l809 0 0 826-826 0 0-186 17 5 35 3 34-5 34-13 18-9 17-12 17-15 7-9 9-17 4-17-1-18-8-17-11-11-9-6-8-4-17-5-18-1-17 1-34 7-48 19-21 14 0-530z"/>
<path fill="#004aff" d="M-396-413l809 0 0 826-826 0 0-167 34 3 35-3 34-10 28-12 27-17 20-18 13-17 8-17 3-17-1-18-6-17-6-9-17-16-17-8-17-4-18-1-35 4-51 15-34 16 0-513z"/>
<path fill="#0060ff" d="M-396-413l809 0 0 826-826 0 0-151 34 1 35-5 34-11 35-16 34-23 19-19 12-17 3-10 6-24-1-18-5-16-10-18-19-17-22-10-17-4-18-1-34 4-40 11-46 16 0-498z"/>
<path fill="#0075ff" d="M-396-413l809 0 0 826-826 0 0-136 34-2 52-11 34-14 35-19 32-24 16-18 10-17 6-17 3-17-1-18-4-17-11-20-17-18-17-11-17-6-17-3-35 0-34 7-69 20 0-485z"/>
<path fill="#008aff" d="M-396-413l809 0 0 826-826 0 0-122 34-4 52-13 34-14 35-19 34-25 11-9 14-18 10-17 5-17 2-17-1-18-3-17-7-17-14-20-17-14-17-9-17-6-17-3-35 1-34 7-69 18 0-473zM352 155l9 9 7-9-7-4z"/>
<path fill="#009fff" d="M-396-413l809 0 0 544-16-11-18-6-18-3-17 0-17 3-17 8-14 16 0 17 7 17 15 17 26 18 17 4 18 1 17-2 17-6 0 209-826 0 0-109 52-9 34-11 52-23 34-21 34-28 20-23 8-17 5-17 2-17-4-35-5-17-9-17-17-18-17-12-17-8-34-7-35 0-103 24 0-461z"/>
<path fill="#00b5ff" d="M-396-413l809 0 0 513-34-9-18-3-34 1-17 4-17 6-18 11-10 10-5 18 4 17 9 17 14 17 17 18 23 16 17 7 17 5 35 2 17-2 0 178-826 0 0-97 52-11 51-18 35-17 46-29 23-17 17-17 13-18 8-17 4-17 2-17-3-35-4-17-8-17-12-18-18-15-17-10-34-11-35-3-34 5-52 13-34 7 0-450z"/>
<path fill="#00caff" d="M-396-413l809 0 0 491-34-7-35-3-34 3-17 4-27 11-22 17-9 17-1 18 4 17 10 17 31 35 31 26 17 10 34 11 35 4 17-1 0 156-826 0 0-85 52-12 51-20 42-21 53-34 26-21 13-13 12-18 7-17 4-17 1-17-2-35-3-17-6-17-9-15-17-20-18-13-17-9-34-9-35-3-34 5-52 15-34 5 0-438z"/>
<path fill="#00dfff" d="M-396-413l809 0 0 472-52-7-34-1-34 4-35 11-17 10-17 16-8 11-5 17 0 18 4 17 10 17 15 17 55 52 29 17 20 7 35 8 34 2 0 138-826 0 0-73 52-14 51-21 52-27 56-37 22-17 17-17 11-18 8-17 3-17 0-17-3-52-5-17-6-12-17-25-17-16-18-11-34-13-34-5-18 0-34 6-52 15-34 4 0-425z"/>
<path fill="#00f4ff" d="M-396-413l809 0 0 454-52-6-34-2-34 3-35 9-17 7-17 9-17 15-9 10-7 17-4 17 0 18 5 17 10 17 15 17 76 67 17 10 34 13 35 8 34 4 0 122-826 0 0-61 52-16 51-21 42-22 55-35 46-34 17-17 12-18 7-17 3-17-1-69-4-17-7-17-11-18-15-17-23-19-18-10-34-12-17-3-35-1-34 7-52 16-17 3-17 1 0-412z"/>
<path fill="#0bfff4" d="M-396-413l809 0 0 436-69-7-34-1-35 5-51 15-30 17-17 17-9 17-5 17-1 17 0 18 5 17 9 17 16 17 49 37 35 32 26 17 42 17 35 9 34 5 0 107-826 0 0-50 69-24 51-24 52-31 66-43 22-17 17-17 13-18 8-17 4-17 1-17-1-52-3-17-6-17-9-18-13-17-17-17-23-17-25-14-34-12-34-3-35 5-69 21-17 3-17 0 0-396z"/>
<path fill="#20ffdf" d="M-396-413l809 0 0 418-103-9-35 3-68 15-18 6-17 9-26 23-10 17-5 17-1 17 2 35 4 17 9 17 18 17 78 51 34 32 18 10 21 11 30 11 35 9 34 7 0 93-826 0 0-39 69-25 69-35 114-73 23-17 19-17 15-18 11-17 6-17 2-17 2-35-2-34-5-17-9-18-14-17-37-34-24-17-33-18-34-12-17-2-17 0-35 6-69 21-17 3-17 1 0-378z"/>
<path fill="#35ffca" d="M-396-413l809 0 0 399-34-3-52-8-52-1-86 12-34 10-35 14-34 11-17 4-17 1-52-11-34 0-18-3-17-6-34-18-69-45-35-17-34-13-17-2-17 1-35 7-69 20-34 3 0-355zM0 91l17 0 16 12 22 35 20 17 11 6 13 11 25 17 31 18 52 24 17 10 17 12 24 22 26 18 53 22 35 10 34 8 0 80-826 0 0-27 69-27 69-37 130-81 69-52 7-7 14-10 18-17 9-17 11-32z"/>
<path fill="#4affb5" d="M-396-413l809 0 0 379-34-3-69-12-52-4-51 3-87 15-34 3-138-3-17-2-34-10-121-57-17-6-17-2-35 4-86 23-34 1 0-329zM-52 201l18-4 68-5 35 1 17 4 103 38 35 18 50 40 32 17 55 22 52 13 0 68-826 0 0-16 52-21 51-25 224-137z"/>
<path fill="#60ff9f" d="M-396-413l809 0 0 359-34-5-86-17-35-5-34 1-104 14-51 4-103-2-35-2-34-8-121-50-17-6-17-2-35 2-68 14-35 2-17-2 0-297zM-69 222l17-4 18-2 34 0 52-5 17 1 34 8 86 27 35 18 51 38 35 18 51 21 52 16 0 55-826 0 0-4 52-23 68-36 138-86 52-28z"/>
<path fill="#75ff8a" d="M-396-413l809 0 0 338-34-5-104-23-17-2-17 0-86 12-86 7-121-3-51-9-52-17-58-23-28-9-17-3-35-1-68 5-35-5-17-5 0-257zM-86 239l17-6 17-3 52 0 34-4 35 0 34 6 69 19 35 14 68 47 35 19 51 22 52 17 0 43-810 0 53-25 34-19 138-87z"/>
<path fill="#8aff75" d="M-396-413l809 0 0 318-34-5-96-20-25-4-17 0-86 13-86 6-52-1-86-6-34-7-35-9-103-35-103-18-26-8-26-15-17-15 0-194zM-52 241l52 0 34-4 35-1 86 19 34 11 35 19 51 36 35 19 51 24 52 18 0 31-786 0 63-35 105-68 50-30 69-31z"/>
<path fill="#9fff60" d="M-396-413l809 0 0 299-120-22-35-4-31 2-72 11-69 5-52 0-86-7-34-5-52-12-136-43-38-18-24-17-15-17-10-17-16-35-14-51-12-69zM-86 258l34-9 52 0 52-4 34 3 86 21 35 15 68 46 35 20 51 24 52 19 0 20-766 0 60-36 121-80 52-25z"/>
<path fill="#b5ff4a" d="M-327-413l740 0 0 280-120-18-35-3-17 1-69 11-34 3-52 3-52-2-86-9-51-8-52-13-86-28-23-11-11-7-12-10-11-17-6-17-17-86zM-52 257l52-1 34-3 35 1 69 14 34 9 35 16 68 46 52 29 34 17 52 20 0 8-748 0 42-26 86-60 35-22 34-18 35-15 34-11z"/>
<path fill="#caff35" d="M-258-413l671 0 0 262-120-14-35-2-34 3-86 13-52 2-34-2-121-16-51-9-49-13-50-18-34-17-15-17-3-17 0-86 8-69zM-86 273l17-5 35-5 86-3 34 4 69 15 17 6 35 16 68 46 52 31 34 17 43 18-722 0 146-101 34-18z"/>
<path fill="#dfff20" d="M-207-397l7-16 613 0 0 245-120-10-35-1-34 3-69 12-35 2-34 0-34-3-155-26-35-7-26-9-43-17-30-17-8-17 4-34 8-35 9-28zM-69 275l35-6 86-2 34 4 69 15 34 14 18 9 86 58 34 21 50 25-680 0 95-69 36-24 52-26z"/>
<path fill="#f4ff0b" d="M-138-399l6-14 545 0 0 228-155-7-34 4-69 12-35 3-34-1-34-5-86-20-86-15-31-10-33-17-5-5-13-12-5-17 2-18 7-17 9-17 40-52zM-17 274l51-1 35 2 69 14 34 10 35 18 86 60 62 36-643 0 91-69 42-27 35-16 34-14 34-9z"/>
<path fill="#fff400" d="M-69-410l1-3 481 0 0 211-155-2-34 4-69 14-52 2-51-9-104-32-73-16-24-17-8-17 3-18 10-17 49-51 13-18 9-17zM-69 289l17-5 35-4 51-1 52 5 69 16 24 10 28 15 86 61 43 27-610 0 85-66 30-20 39-19z"/>
<path fill="#ffdf00" d="M-17-413l430 0 0 194-69 3-86-1-34 4-69 16-35 2-17-1-34-6-17-5-39-17-61-34-21-17-5-18 6-17 33-51 9-18 4-17 0-17zM-52 291l35-6 51-1 52 7 69 16 34 15 18 11 68 51 44 29-580 0 64-52 42-29 52-24z"/>
<path fill="#ffca00" d="M17-413l396 0 0 177-69 5-103 3-69 16-34 6-35-1-17-4-34-12-30-18-20-17-13-17-5-18-1-17 4-17 19-52 2-17 0-17zM-17 291l34-2 35 3 68 12 35 10 29 13 23 14 96 72-551 0 62-52 24-17 24-13 69-29 35-9z"/>
<path fill="#ffb500" d="M34-413l379 0 0 160-86 10-86 2-69 18-34 6-18 0-17-2-17-5-32-17-20-17-12-17-6-18-2-17 2-17 12-52 2-34zM-69 309l52-13 34-1 52 5 69 15 32 12 19 11 100 75-525 0 62-52 19-13 35-18z"/>
<path fill="#ff9f00" d="M52-413l361 0 0 141-103 17-69 2-17 3-69 18-17 3-18 0-17-4-19-8-23-17-13-17-7-18-2-17 0-17zM-34 305l34-5 34 2 69 11 51 14 35 19 86 67-499 0 62-52 24-15 52-23z"/>
<path fill="#ff8a00" d="M69-398l1-15 343 0 0 122-86 19-34 5-52 1-17 2-69 19-17 3-18 0-17-7-15-9-15-17-8-18-4-17 0-17zM-17 307l34-1 33 4 70 14 35 10 20 10 24 17 63 52-473 0 39-34 34-25 60-27 44-15z"/>
<path fill="#ff7500" d="M103-413l310 0 0 101-70 19-50 11-69 4-86 20-18-2-20-15-11-18-5-17-1-34 8-69zM-52 324l35-11 17-2 17 0 86 16 35 8 23 9 27 17 61 52-448 0 40-34 21-16 39-19z"/>
<path fill="#ff6000" d="M120-413l293 0 0 77-79 26-41 10-18 3-51 3-69 11-17-1-18-9-9-17-4-17 0-34 6-52zM-34 325l34-8 17 1 54 9 67 15 17 7 21 12 61 52-423 0 40-34 26-16z"/>
<path fill="#ff4a00" d="M138-412l275-1 0 49-69 27-51 16-35 4-86 5-17-4-13-11-4-9-5-25zM-17 327l17-4 17 1 102 20 19 5 17 8 17 11 53 45-398 0 35-29 18-11 59-29z"/>
<path fill="#ff3500" d="M172-413l241 0 0 15-52 24-51 19-49 11-37 0-17-2-18-6-11-9-7-18-1-17 1-17zM-34 342l34-11 17 1 86 17 35 8 17 9 17 12 40 35-372 0 22-18 26-16z"/>
<path fill="#ff2000" d="M241-413l111 0-42 16-35 6-17-1-17-5-14-16zM0 340l17 1 22 3 81 17 18 5 21 13 41 34-345 0 25-18 28-16 75-34z"/>
<path fill="#ff0b00" d="M-17 357l17-5 17-1 66 10 37 9 18 6 17 11 32 26-315 0 25-17 17-9z"/>
<path fill="#f40000" d="M-34 376l34-10 17-2 35 2 34 6 29 7 23 9 17 11 18 14-282 0 30-17z"/>
<path fill="#df0000" d="M17 378l35 0 51 8 27 10 26 17-243 0 35-17 18-6z"/>
<path fill="#ca0000" d="M17 393l35-3 34 4 34 11 17 8-195 0 24-9z"/>
<path fill="#b50000" d="M0 411l34-6 18-1 34 3 21 6-118 0z"/>
</g></g>
<g clip-path="url(#ch)"><path transform="scale(.1)" class="cl" d="M-413 264l34 0 35-5 34-11 35-16 34-23 21-20 13-23 4-11 3-17-1-18-4-17-10-17-9-9-10-8-7-4-17-7-17-4-18-1-34 4-44 12-42 15M413 62l-52-7-34-1-34 4-18 5-17 7-17 10-7 6-10 13-3 4-6 17-1 18 5 17 10 17 14 17 18 18 38 34 28 16 17 6 35 7 34 2M-413 338l52-14 51-20 52-27 54-36 22-17 16-17 12-18 8-17 3-17 1-17-2-35-2-17-9-24-5-10-13-18-16-15-18-11-17-8-17-5-34-6-18 0-34 6-52 15-34 4M413-45l-447-7-138-41-138-24-103 16M-413 403l263-145 167-51 138 23 258 122M413-156l-120-13-35-1-34 3-69 11-52 3-34-1-35-3-137-21-50-11-51-18-39-17-18-17-3-17 5-86 13-69M-314 413l125-88 34-20 35-17 34-13 34-9 86-4 18 0 34 4 69 15 17 6 35 16 68 47 35 21 34 19 52 23M413-253l-86 10-86 2-69 18-34 6-18 0-17-2-17-5-32-17-20-17-12-17-6-18-2-17 2-17 12-52 2-34M-236 413l64-53 23-16 29-14 34-14 34-12 35-8 34-1 35 3 51 9 35 8 32 12 29 17 90 69M413-387l-58 26-48 17-32 7-17 2-51 0-18-2-17-7-11-17-3-18 2-34M-164 413l26-21 35-21 57-27 29-11 17-5 17 1 77 15 44 11 17 8 17 12 44 38"/></g>
<use href="#hd"/>
</g>
<g transform="translate(85.2 353.5)">
<g clip-path="url(#cd)"><g filter="url(#soft)" transform="scale(.1)">
<circle r="421" fill="#00008a"/>
<path fill="#00009f" d="M-396-413l809 0 0 826-211 0-47-7-69-1-69 1-65 7-365 0 0-826z"/>
<path fill="#0000b5" d="M-396-413l809 0 0 826-164 0-94-14-69-3-52 1-51 4-76 12-320 0 0-826z"/>
<path fill="#0000ca" d="M-396-413l809 0 0 826-101 0-71-8-86-13-86-3-52 1-51 5-52 8-43 10-284 0 0-826z"/>
<path fill="#0000df" d="M-396-413l809 0 0 825-138-10-137-18-86-2-52 2-52 5-51 10-56 14-254 0 0-826z"/>
<path fill="#0000f4" d="M-396-413l809 0 0 817-138-9-137-18-104-2-51 2-52 7-58 12-58 17-228 0 0-826z"/>
<path fill="#000bff" d="M-396-413l809 0 0 809-138-8-137-17-121-3-51 4-69 11-52 12-55 18-203 0 0-826z"/>
<path fill="#0020ff" d="M-396-413l809 0 0 801-138-6-137-17-138-4-52 6-86 15-34 10-62 21-179 0 0-826z"/>
<path fill="#0035ff" d="M-396-413l809 0 0 793-138-5-51-5-69-10-155-7-34 4-104 17-51 15-70 24-154 0 0-826z"/>
<path fill="#004aff" d="M-396-413l809 0 0 785-69-1-86-4-103-12-155-9-111 15-44 9-34 10-95 33-129 0 0-826z"/>
<path fill="#0060ff" d="M-396-413l809 0 0 777-69 0-86-3-34-3-69-9-69-3-86-7-120 17-35 6-157 51-101 0 0-826z"/>
<path fill="#0075ff" d="M-396-413l809 0 0 768-86 1-86-2-86-10-86-5-69-6-155 21-187 59-71 0 0-826z"/>
<path fill="#008aff" d="M-396-413l809 0 0 760-86 2-86-1-86-9-69-4-69-8-27 0-145 19-34 10-104 34-68 19-16 4-36 0 0-826z"/>
<path fill="#009fff" d="M-396-413l809 0 0 752-86 3-86 0-86-9-86-4-52-7-17-1-17 1-52 7-86 9-34 10-121 38-103 26 0-825z"/>
<path fill="#00b5ff" d="M-396-413l809 0 0 744-172 5-86-8-69-3-69-8-17-1-17 1-52 7-86 7-34 9-121 37-103 25 0-815z"/>
<path fill="#00caff" d="M-396-413l809 0 0 736-172 7-86-7-69-3-86-10-17 1-69 8-69 4-34 9-121 37-103 24 0-806z"/>
<path fill="#00dfff" d="M-396-413l809 0 0 727-155 10-34 0-69-6-69-3-86-10-86 8-69 3-34 8-121 36-103 23 0-796z"/>
<path fill="#00f4ff" d="M-396-413l809 0 0 719-172 13-155-9-86-9-86 7-69 1-34 8-121 34-103 22 0-786z"/>
<path fill="#0bfff4" d="M-396-413l809 0 0 710-155 15-34 1-121-7-103-10-86 6-69 1-34 7-121 32-103 21 0-776z"/>
<path fill="#20ffdf" d="M-396-413l809 0 0 702-155 17-34 2-121-7-103-9-103 5-52 0-34 6-121 30-103 20 0-766z"/>
<path fill="#35ffca" d="M-396-413l809 0 0 693-155 20-34 3-121-7-103-9-103 4-52 0-34 5-121 29-103 18 0-756z"/>
<path fill="#4affb5" d="M-396-413l809 0 0 684-155 23-34 3-121-6-69-7-34-2-172 4-35 6-86 20-120 20 0-745z"/>
<path fill="#60ff9f" d="M-396-413l809 0 0 675-155 26-34 4-104-5-103-9-189 1-35 5-103 22-103 16 0-735z"/>
<path fill="#75ff8a" d="M-396-413l809 0 0 665-155 30-34 4-104-4-103-9-69-1-68 2-52-1-35 4-86 17-120 17 0-724z"/>
<path fill="#8aff75" d="M-396-413l809 0 0 656-172 37-34 1-87-4-86-8-86-3-68 2-52-2-35 3-86 15-120 16 0-713z"/>
<path fill="#9fff60" d="M-396-413l809 0 0 645-155 38-34 5-104-3-86-9-86-3-68 2-69-3-104 16-120 14 0-702z"/>
<path fill="#b5ff4a" d="M-396-413l809 0 0 635-172 46-17 1-104-3-68-8-52-1-52-4-68 2-69-5-86 12-138 15 0-690z"/>
<path fill="#caff35" d="M-396-413l809 0 0 623-86 25-69 24-17 3-121-1-68-10-52 0-52-5-68 2-69-7-224 23 0-677z"/>
<path fill="#dfff20" d="M-396-413l809 0 0 611-103 33-52 20-17 5-121-2-51-8-69-2-52-6-68 1-69-9-35 1-69 9-120 12 0-665z"/>
<path fill="#f4ff0b" d="M-396-413l809 0 0 598-86 30-61 26-25 7-121-1-68-11-52 0-69-8-51 0-52-9-35-3-206 22 0-651z"/>
<path fill="#fff400" d="M-396-413l809 0 0 584-103 38-52 25-17 6-121-2-51-10-69-2-52-9-68-3-52-11-35-4-34 2-103 16-69 7 0-637z"/>
<path fill="#ffdf00" d="M-396-413l809 0 0 567-41 18-62 23-54 29-15 4-17 2-104-3-51-11-69-5-69-12-51-7-52-16-35-4-34 4-51 13-52 11-69 8 0-621zM-36-361l-16 17-8 17-3 17 1 17 3 18 7 21 8 13 10 15 17 15 17 6 17 0 17-4 18-9 17-15 6-8 9-17 2-10 1-25-4-17-14-30-23-21-12-7-17-5-17-1-17 4z"/>
<path fill="#ffca00" d="M-396-413l362 0-18 8-14 9-19 17-12 18-6 14-5 20-1 17 2 35 11 86 10 137-2 18-4 17-20 34-28 35-35 34-14 12-52 31-37 26-36 17-30 9-35 6-34 5 0-605zM52-413l361 0 0 548-42 20-61 21-17 8-38 23-14 5-17 3-86-1-42-7-27-9-67-9-49-17-26-17-5-17 7-18 19-20 20-14 6-17-2-17-7-35 0-17 4-17 10-17 90-116 34-57 15-34 2-10 2-24-2-23-5-29-5-17-8-17-16-21-17-15-17-10-15-6z"/>
<path fill="#ffb500" d="M-396-413l302 0-16 17-12 17-8 18-5 17-2 34 6 103-1 52-9 69-9 34-9 18-13 22-23 29-94 103-19 18-19 12-17 8-35 10-34 5 0-586zM103-413l310 0 0 524-59 27-79 16-17 9-7 9-27 18-35 2-36-3-33-17 9-17 9-6 13-11 15-18 6-17-3-17-9-17-34-52-18-34-10-35-1-17 3-34 13-52 25-75 4-28 1-17-1-35-5-34-6-17-11-22-24-30z"/>
<path fill="#ff9f00" d="M-396-413l268 0-10 14-10 20-6 18-3 17-2 34 3 121-2 34-8 52-11 34-12 23-18 23-36 40-67 80-17 18-17 13-17 10-52 14 0-565zM138-413l275 0 0 494-52 17-17 3-17 0-17-5-69-37-34-24-18-16-16-19-18-27-12-25-4-17-4-34 4-52 18-86 3-34 0-35-3-34-3-17-15-35-11-17z"/>
<path fill="#ff8a00" d="M-396-413l243 0-15 34-7 35-2 34 0 121-2 34-5 35-12 34-11 20-17 24-40 42-80 89-17 15-18 10-34 14 0-541zM155-413l258 0 0 461-69 4-17-2-34-10-35-16-34-22-21-19-14-17-11-18-13-34-5-34 1-35 14-103 1-69-4-34-11-35-8-17z"/>
<path fill="#ff7500" d="M-396-413l222 0-12 34-6 35-5 172-4 34-9 35-9 17-11 17-28 31-103 102-28 22-24 13 0-512zM189-413l224 0 0 430-34-3-52-1-17-3-35-12-27-15-22-17-16-18-11-17-9-17-5-17-5-35 1-34 9-103 1-52-2-34-4-18-11-34z"/>
<path fill="#ff6000" d="M-396-413l203 0-10 34-4 35-9 189-8 35-7 17-11 17-33 37-104 90-34 26 0-480zM207-413l206 0 0 405-34-4-52-3-34-9-24-10-25-18-17-17-12-17-8-17-5-17-4-35 8-155 0-34-4-35-8-34z"/>
<path fill="#ff4a00" d="M-396-413l186 0-11 52-11 189-5 34-6 18-15 24-35 36-120 95 0-448zM224-413l189 0 0 383-86-9-34-10-18-9-17-12-17-16-11-17-8-17-4-18-4-34 7-172-2-35-7-34z"/>
<path fill="#ff3500" d="M-396-413l169 0-9 52-3 68-11 121-8 37-7 15-12 17-33 32-34 27-69 48 0-417zM241-413l172 0 0 363-69-7-40-12-31-17-18-17-12-17-6-18-3-17-4-52 1-51 5-86-1-35-5-34z"/>
<path fill="#ff2000" d="M-396-413l152 0-7 52-3 86-15 103-11 34-13 21-30 31-38 29-52 35 0-391zM258-413l155 0 0 344-69-9-34-11-17-10-18-14-17-25-8-34-5-69 7-120-4-52z"/>
<path fill="#ff0b00" d="M-396-413l136 0-6 52-2 86-16 86-11 34-15 26-24 26-27 21-52 35 0-366zM275-413l138 0 0 325-52-7-34-10-17-9-17-14-8-10-10-17-9-34-5-35-1-34 8-103-2-52z"/>
<path fill="#f40000" d="M-396-413l119 0-5 52-1 68-4 35-12 51-11 34-8 18-12 17-16 18-21 17-46 31 0-341zM293-413l120 0 0 304-34-4-35-8-17-10-17-14-8-10-10-17-9-35-6-51 0-17 9-86-1-52z"/>
<path fill="#df0000" d="M-396-413l102 0-5 52-1 68-2 18-8 36-16 50-8 17-10 17-17 20-18 15-34 23 0-316zM310-413l103 0 0 282-44-7-25-11-17-15-6-8-11-21-9-31-3-17-1-34 8-86-1-52z"/>
<path fill="#ca0000" d="M-396-413l84 0-4 34-4 86-5 35-11 34-8 22-17 31-18 20-34 27 0-289zM327-413l86 0 0 256-34-7-18-8-17-17-10-18-7-17-4-17-3-34 6-86-1-52z"/>
<path fill="#b50000" d="M-396-413l66 0-11 120-7 35-13 37-18 31-14 18-20 18 0-259zM361-413l52 0 0 224-17-7-18-11-17-22-9-29-4-35 2-86-2-34z"/>
<path fill="#9f0000" d="M-396-413l47 0-12 103-7 35-11 30-10 21-24 34 0-223zM379-413l34 0 0 175-18-20-7-17-5-18-4-34-5-86z"/>
<path fill="#8a0000" d="M-396-413l26 0-13 86-7 34-12 35-11 21 0-176zM413-413l0 60-10-60z"/>
</g></g>
<g clip-path="url(#ch)"><path transform="scale(.1)" class="cl" d="M413 379l-69-1-69-4-51-4-69-10-155-7-34 3-104 18-51 14-71 25M413 330l-69 4-103 2-34-2-52-6-69-3-86-10-17 1-52 7-86 7-34 9-121 38-103 25M413 280l-155 20-34 2-121-6-69-7-34-2-103 4-52-1-34 5-121 29-103 18M413 221l-103 27-52 16-17 4-17 1-104-3-68-8-52-1-52-4-68 2-52-5-17 0-18 1-68 11-138 14M-37-413l-69 69 10 172-24 190-121 108-138 61-34 4M413 134l-241 80-214-42-20-52 40-86 22-84 120-260-51-88-28-15M-211-413l-4 17-6 35-12 189-5 34-6 18-14 23-17 20-18 16-34 29-86 66M413-30l-86-10-34-10-18-9-17-11-16-16-12-17-7-17-5-18-3-34 1-52 5-120-2-35-7-34"/></g>
<use href="#hd"/>
</g>
<g transform="translate(198.0 353.5)">
<g clip-path="url(#cd)"><g filter="url(#soft)" transform="scale(.1)">
<circle r="421" fill="#00008a"/>
<path fill="#00009f" d="M-310-413l654 0 6 17 16 86 13 143 24 167 1 52-3 51-23 190 1 34 11 86-803 0 0-401 22-115 7-52 5-20 9-49 4-17 7-17 8-35 7-17 11-51 6-16 9-36z"/>
<path fill="#0000b5" d="M-310-409l2-4 643 0 13 52 8 51 17 172 18 121 3 34 0 35-3 51-22 190 1 51 9 69-792 0 0-356 18-91 30-173z"/>
<path fill="#0000ca" d="M-293-413l619 0 14 52 8 51 8 69 8 103 18 121 3 34 0 52-4 51-7 69-15 104 1 51 9 69-782 0 1-310 26-137 21-138 10-52 48-172 6-17z"/>
<path fill="#0000df" d="M-293-413l611 0 13 52 9 51 8 69 9 121 17 103 3 34-1 52-3 51-8 69-15 104 1 51 8 69-772 0 0-184 4-74 6-52 25-137 26-173 47-172z"/>
<path fill="#0000f4" d="M-275-413l584 0 14 52 9 51 8 69 9 121 16 103 3 34-1 69-7 86-19 121 1 51 8 69-763 0 0-72 9-66 6-137 7-52 24-138 18-137 12-52 16-52 23-86 12-34z"/>
<path fill="#000bff" d="M-275-413l576 0 14 52 9 51 10 86 6 104 16 103 3 34 0 69-7 86-5 35-13 68-3 35 2 34 7 69-753 0 0-12 12-57 8-51 3-121 3-52 26-154 19-155 7-35 21-69 18-68 17-52z"/>
<path fill="#0020ff" d="M-275-404l3-9 564 0 16 52 9 51 9 86 6 104 15 103 4 34 0 69-7 86-4 35-17 86 1 51 7 69-734 0 12-52 8-51 3-52-1-86 4-52 24-154 17-155 11-52 17-52 18-68z"/>
<path fill="#0035ff" d="M-258-413l542 0 16 52 12 68 7 69 5 104 15 103 4 51-1 69-7 86-20 104 0 34 7 86-712 0 12-52 8-51 2-35-3-103 3-52 23-154 15-155 11-52 17-52 19-68 19-52z"/>
<path fill="#004aff" d="M-258-411l1-2 532 0 17 52 13 68 8 69 3 104 14 103 5 51 0 69-7 86-6 35-12 51-3 18-1 34 7 86-690 0 14-69 5-34 1-35-4-86 0-51 5-52 19-120 13-155 6-35 22-69 14-51 11-35z"/>
<path fill="#0060ff" d="M-241-413l508 0 18 52 13 68 8 69 1 86 2 35 13 86 5 51 0 69-6 86-5 35-14 51-3 18 0 34 6 86-669 0 13-69 5-34 1-35-7-86 0-51 5-52 18-120 11-155 11-52 14-42 22-78 21-52z"/>
<path fill="#0075ff" d="M-241-413l500 0 13 34 10 35 14 86 4 51 0 87 16 120 3 34 0 69-5 86-5 35-15 51-2 18-1 34 5 86-647 0 12-69 5-34 0-35-8-86-1-51 5-52 17-120 9-155 10-52 13-34 19-69 19-52 8-17z"/>
<path fill="#008aff" d="M-241-402l6-11 485 0 15 34 10 35 7 34 7 52 5 51-2 69 2 35 12 86 4 51 2 69-4 86-6 35-15 51-2 18-1 34 4 86-627 0 12-69 4-34 1-35-11-86-1-51 4-52 11-69 6-51 6-155 6-35 4-17 13-34 26-86z"/>
<path fill="#009fff" d="M-224-413l466 0 15 34 11 35 8 34 7 52 4 51-2 69 1 35 14 103 3 52 1 68-3 69-5 35-15 51-3 18-1 34 2 86-606 0 16-103 0-35-13-86-2-51 5-52 14-103 3-52 2-103 3-35 8-34 12-34 27-86 24-52z"/>
<path fill="#00b5ff" d="M-224-407l4-6 453 0 17 34 11 35 8 34 8 52 4 51-3 69 1 35 12 103 4 52 1 86-2 51-4 35-16 51-2 18-2 34 1 86-586 0 13-86 2-34 0-18-15-86-2-51 2-35 16-120 2-52 0-103 3-35 7-34 14-34 20-69 14-35z"/>
<path fill="#00caff" d="M-207-413l432 0 17 34 16 48 8 38 9 69 0 35-4 69 15 154 3 121-1 34-4 35-15 51-3 18-3 34 0 86-566 0 12-86 2-34-1-18-16-86-2-51 2-35 12-86 3-34 1-52-1-103 2-35 7-34 41-118 17-36 11-18z"/>
<path fill="#00dfff" d="M-207-411l2-2 421 0 8 13 17 36 12 37 13 69 3 34 0 35-5 69 14 154 4 138-4 52-18 69-3 34-2 86-547 0 11-86 2-34-1-18-11-51-6-35-3-51 2-35 12-86 3-34 1-52-4-103 2-35 7-34 36-103 17-38z"/>
<path fill="#00f4ff" d="M-207-399l10-14 404 0 11 17 17 35 12 34 13 69 3 34 0 35-5 51 0 35 12 137 5 104 0 51-6 52-11 34-6 35-5 103-527 0 9-86 2-34-1-18-12-51-6-35-3-51 2-35 12-86 2-34-1-69-4-86 1-35 7-34 31-89 17-39z"/>
<path fill="#0bfff4" d="M-189-413l387 0 22 34 15 35 6 20 8 31 8 52 0 52-5 51-1 35 9 120 8 155-1 35-4 34-11 34-6 35-8 103-507 0 8-86 1-34-2-18-14-68-5-35-1-34 2-35 13-103-1-52-6-120 0-35 6-34 32-86 24-52z"/>
<path fill="#20ffdf" d="M-189-402l9-11 369 0 23 34 16 35 11 34 10 52 3 34 0 35-7 69 0 17 15 258 1 52-3 34-11 34-8 35-9 103-488 0 7-86 0-34-2-18-14-68-5-35-2-34 2-35 10-69 3-34-1-52-9-120 0-35 6-34 32-86 16-34z"/>
<path fill="#35ffca" d="M-172-413l351 0 14 17 20 35 11 23 9 28 8 35 5 34 1 34-8 87 0 34 6 138 9 137-2 52-16 52-3 17-11 103-469 0 5-86 0-34-16-86-6-69 2-35 9-69 2-34-2-52-11-120 0-35 5-34 35-90 26-48z"/>
<path fill="#4affb5" d="M-172-403l10-10 331 0 27 34 18 35 10 24 8 27 9 52 0 34-8 87 0 68 3 104 10 120 2 35-3 34-10 34-8 35-13 103-450 0 4-86-1-34-15-86-7-69 2-35 9-69 2-34-2-34-14-138-1-35 5-34 30-77 22-43 13-20z"/>
<path fill="#60ff9f" d="M-155-411l2-2 312 0 29 34 20 35 18 51 9 52 0 52-8 86-1 120 2 52 13 138-2 34-19 69-15 103-429 0 2-86-2-34-17-104-4-51 2-35 8-69 1-34-19-172 1-52 3-17 5-17 37-84 24-37z"/>
<path fill="#75ff8a" d="M-155-402l13-11 290 0 17 17 14 17 12 18 16 29 8 22 9 35 7 51-1 35-9 86-5 120 2 52 12 103 3 52-2 17-18 69-17 103-409 0 0-120-15-86-7-69 2-35 7-69 0-34-21-172 0-52 2-17 6-17 32-72 19-31 16-22z"/>
<path fill="#8aff75" d="M-138-408l7-5 267 0 19 16 17 20 17 25 18 36 12 41 7 51-1 35-8 69-7 86-3 68 3 52 14 103 1 35-1 17-18 69-19 103-388 0-2-120-16-104-5-51 1-35 7-69-1-34-25-172 0-52 2-17 6-17 32-69 13-22 17-24 17-20z"/>
<path fill="#9fff60" d="M-138-399l19-14 243 0 31 27 17 20 17 27 14 29 14 52 3 51-22 207-1 52 2 34 16 103 2 35-2 17-17 69-20 103-368 0-4-138-13-86-5-51 5-86 0-35-4-34-25-155-2-35 1-17 3-17 5-17 33-69 24-36 17-20z"/>
<path fill="#b5ff4a" d="M-120-403l15-10 214 0 29 20 29 32 22 34 14 34 9 35 2 17 1 34-5 52-23 172-1 35 5 51 15 86 2 35-5 34-35 155-345 0-4-52 0-86-15-103-4-34 4-86-1-35-5-34-27-138-3-34 0-35 3-17 6-17 16-37 18-33 17-25 17-21 17-16z"/>
<path fill="#caff35" d="M-103-406l15-7 180 0 28 16 18 14 17 17 17 22 10 17 15 34 9 35 3 17 0 52-14 103-19 103-2 35 2 34 19 103 3 35-4 34-22 103-14 52-322 0-5-52 0-103-17-120 1-104-5-34-20-86-13-69-4-34 1-35 3-17 13-34 21-42 17-26 17-22 17-16z"/>
<path fill="#dfff20" d="M-103-397l36-16 138 0 15 6 34 19 18 14 17 18 17 24 12 22 13 35 4 17 4 34-3 52-13 86-24 103-4 35 0 17 5 34 20 104 1 34-24 120-16 52-298 0-6-52 2-103-3-34-14-86-2-104-6-34-19-69-12-51-9-52-2-35 5-34 5-17 16-35 20-34 21-28 17-17z"/>
<path fill="#f4ff0b" d="M-86-397l34-12 24-4 63 0 34 8 17 6 34 20 18 15 17 19 23 35 13 35 4 17 4 34-1 35-4 34-12 69-10 41-19 62-6 35 1 34 24 106 4 32-1 17-4 34-16 82-19 56-272 0-7-34-2-35 6-103-4-34-13-69-2-69-3-35-8-34-20-61-16-59-9-52-2-35 4-34 6-17 17-36 17-29 17-23 17-18 19-15z"/>
<path fill="#fff400" d="M-69-396l35-8 51-2 35 4 17 5 34 16 17 11 18 16 23 27 18 34 11 35 3 17 1 34-3 35-8 52-11 49-32 88-8 35-1 34 3 17 23 86 6 35 0 17-5 52-11 51-9 34-15 35-243 0-5-17-5-35-1-17 11-103-3-34-15-69-5-69-5-35-10-34-31-85-13-53-8-51 1-35 3-17 13-34 19-35 19-26 17-18 18-15 17-11z"/>
<path fill="#ffdf00" d="M-34-396l34-2 34 1 35 8 34 16 17 12 18 16 17 21 18 31 11 35 5 34-1 35-4 34-10 52-19 59-29 61-11 35-3 17-2 17 2 17 4 17 22 60 7 27 3 17 2 34-4 35-9 51-12 35-17 34-211 0-9-34-3-18 1-34 13-86 1-34-1-18-16-69-7-51-9-35-13-34-26-57-20-63-10-52-2-35 1-17 9-34 17-35 22-33 17-19 19-16 33-20 17-7z"/>
<path fill="#ffca00" d="M-69-380l35-8 51-2 35 4 34 12 17 10 17 12 25 25 12 17 10 17 12 35 4 34-1 35-7 51-7 35-19 51-38 69-16 35-14 34-4 17 2 17 41 72 11 32 5 34-2 35-10 51-13 35-20 34-173 0-12-34-5-35 3-34 10-45 25-93 3-17-2-17-26-37-39-84-30-56-17-39-18-60-6-34-2-35 5-34 5-17 16-32 17-26 17-20 18-15 17-12z"/>
<path fill="#ffb500" d="M-34-380l34-2 34 1 35 8 34 18 17 13 16 15 19 25 13 27 8 34 2 17-1 35-7 51-14 52-16 34-37 58-17 25-17 21-17 15-18 9-17 4-34 2-17-1-18-5-17-10-17-17-17-23-35-53-17-30-19-46-9-35-7-34-2-35 5-34 14-34 18-30 18-22 17-15 17-13 34-17zM0 188l17-7 17-4 18-1 17 4 17 11 14 16 9 17 7 17 4 34 0 18-5 34-12 36-17 31-16 19-127 0-11-17-6-17-5-18-1-34 2-17 9-35 17-37 18-24 17-16z"/>
<path fill="#ff9f00" d="M-69-364l35-8 51-2 35 4 34 13 17 10 17 14 18 18 17 25 12 32 5 34-3 52-9 52-5 17-15 34-20 33-17 23-34 38-17 13-18 9-17 4-34 3-17-3-18-5-17-10-17-14-34-42-18-24-14-25-20-50-9-36-4-34 1-35 10-34 8-17 23-35 23-23 17-13zM17 221l17-5 18 0 17 5 17 14 12 23 4 17 0 35-8 34-8 18-17 25-17 16-18 10-50 0-18-12-18-25-5-15-3-17 0-17 2-17 6-21 18-31 17-16 17-13z"/>
<path fill="#ff8a00" d="M-34-364l34-3 34 2 35 9 17 8 17 10 17 14 18 19 8 12 9 18 6 17 5 34-2 52-10 52-16 41-18 28-17 22-34 34-17 12-18 9-17 4-17 3-34-3-18-5-17-10-17-14-34-37-18-24-21-43-13-42-7-44 2-35 5-21 13-30 21-31 21-21 31-21 17-7zM17 254l17-4 18 1 17 11 8 13 5 18 0 17-3 17-6 17-11 17-10 12-18 11-17 4-17-2-17-9-12-16-5-11-4-23 4-20 5-14 12-17 17-13z"/>
<path fill="#ff7500" d="M-69-347l35-10 34-2 34 2 35 9 17 8 17 11 17 15 19 21 9 18 7 17 6 34-1 35-8 51-14 43-18 30-17 22-17 18-17 14-17 11-18 8-17 5-34 2-17-3-18-5-17-9-17-13-34-36-18-25-14-27-11-35-7-34-2-35 6-34 6-17 20-35 20-21 17-14zM17 285l17-1 14 9 7 17-3 17-13 17-5 4-17 4-17-7-8-18 2-17 6-12 5-5z"/>
<path fill="#ff6000" d="M-52-345l35-6 34 0 35 6 34 14 29 21 15 17 11 18 8 17 4 17 2 34-6 52-9 35-16 34-21 29-17 18-17 14-17 11-18 7-17 5-34 1-17-2-18-6-17-9-17-12-17-16-17-20-18-26-13-28-9-35-5-34 2-35 8-29 12-22 23-29 17-15 17-11z"/>
<path fill="#ff4a00" d="M-69-330l17-6 35-7 34 0 35 6 25 10 27 17 18 17 12 18 8 17 4 17 2 34-6 52-9 35-18 34-12 15-17 18-17 14-17 11-18 8-17 4-34 2-17-3-18-6-17-9-17-12-17-16-17-20-18-29-11-29-7-34-2-35 3-21 10-30 10-17 15-18 17-17z"/>
<path fill="#ff3500" d="M-52-328l35-7 34 0 35 6 17 7 17 9 17 12 17 18 15 25 5 17 2 34-3 35-8 34-11 28-17 26-17 18-17 15-17 10-18 8-17 5-34 1-17-3-18-6-17-9-17-12-17-17-23-29-12-25-7-27-5-34 0-18 6-34 7-17 17-24 17-17 17-13z"/>
<path fill="#ff2000" d="M0-328l34 4 18 4 24 10 27 20 14 15 10 17 6 17 2 34-4 35-11 43-13 26-14 17-24 22-17 11-18 8-17 4-17 2-17 0-17-3-18-6-17-10-17-13-17-17-12-15-10-17-12-35-5-34 0-18 4-25 11-26 12-17 17-18 26-17 20-9 18-5z"/>
<path fill="#ff0b00" d="M-34-315l17-3 34 0 35 7 17 7 17 10 20 19 13 17 6 17 2 34-4 35-8 34-8 18-21 28-17 15-17 12-18 8-17 5-17 2-17-1-17-3-18-7-17-10-17-13-18-19-16-28-8-24-5-34 0-18 2-17 5-17 9-17 14-18 19-17 32-17z"/>
<path fill="#f40000" d="M0-310l34 3 18 6 17 7 17 12 17 17 13 24 3 17 0 17-4 35-10 34-9 18-10 13-17 17-17 12-19 9-16 5-17 2-17-1-17-4-18-7-17-10-17-15-17-21-9-18-8-27-3-24 2-35 5-17 10-17 16-17 21-16 17-8 18-6z"/>
<path fill="#df0000" d="M-34-295l17-4 34-1 17 3 18 6 17 9 17 13 10 11 10 17 3 17-1 35-5 26-9 25-10 18-16 17-25 17-26 10-17 2-17-1-17-4-18-8-17-11-17-17-15-23-6-17-6-34 0-18 3-17 6-17 12-17 18-17 22-14z"/>
<path fill="#ca0000" d="M-52-277l18-7 17-5 17-1 17 0 17 4 18 7 17 10 12 11 12 17 5 17 1 17-2 18-8 34-8 17-12 18-17 15-18 10-17 6-17 3-17-2-17-5-18-8-17-14-18-23-7-17-5-17-2-17 0-18 4-17 7-17 14-17z"/>
<path fill="#b50000" d="M-17-277l17-2 30 4 22 9 11 8 14 17 7 17 2 17-5 35-6 17-10 17-13 16-18 12-17 8-17 2-17-1-17-6-21-13-15-18-9-17-6-17-2-17 1-18 4-17 9-17 21-21 18-10z"/>
<path fill="#9f0000" d="M-17-263l17-3 17 2 19 6 21 17 10 17 2 17-1 18-4 17-12 26-18 18-12 8-22 5-17-2-8-3-9-6-15-12-12-17-6-17-3-17 1-18 5-17 11-17 19-15z"/>
<path fill="#8a0000" d="M-17-245l17-4 17 3 11 5 14 17 4 17-1 18-3 17-8 15-17 16-17 6-17-4-17-14-9-19-3-17 1-18 6-17 15-17z"/>
</g></g>
<g clip-path="url(#ch)"><path transform="scale(.1)" class="cl" d="M287-413l16 52 12 68 7 69 5 104 15 103 4 51-1 69-7 86-20 104 0 34 7 86M-394 413l14-69 5-34 2-52-2-86 3-52 4-34 20-120 16-155 11-52 17-52 18-68 19-52M230-413l17 34 12 35 8 34 8 52 4 51-3 69 0 35 13 103 3 52 2 86-2 51-4 35-4 17-12 34-2 18-2 34 0 86M-311 413l13-86 2-34-1-18-15-86-2-51 2-35 13-86 3-34 2-52-1-103 3-35 7-34 13-34 22-69 14-35 18-34M169-413l26 34 12 19 14 33 14 52 5 34 1 17-1 35-7 69-1 68 3 104 11 120 1 52-2 17-11 34-8 35-13 103M-235 413l4-86-1-34-16-86-6-69 2-35 9-69 1-34-2-34-14-138 0-35 1-17 3-17 6-17 24-59 13-27 22-36 27-33M76-413l27 12 17 11 18 14 17 18 10 14 12 17 16 34 5 18 6 34 2 34-5 52-12 74-22 98-3 35 0 17 5 34 14 69 6 35 0 34-24 120-15 52M-154 413l-6-52 2-103-3-34-11-61-3-25-1-104-6-34-23-86-10-52-7-51 0-35 3-17 13-34 18-35 23-34 10-13 17-17 18-14 17-11 31-14M-52-365l35-5 34 0 35 5 17 5 17 7 17 11 17 13 18 19 12 17 8 18 6 17 4 17 1 34-5 52-9 41-17 42-18 28-17 23-17 19-17 16-17 13-18 8-17 5-17 3-17 0-17-3-18-6-17-9-17-14-34-39-18-25-9-16-16-34-9-29-5-23-5-34 2-35 3-17 6-17 16-30 17-23 18-18 17-13 17-10 17-7 17-6M17 239l17-5 18 0 17 7 17 22 4 12 3 18-1 17-3 17-5 17-9 17-13 18-10 9-18 11-17 4-17-1-17-6-18-17-9-18-4-17-1-17 2-17 6-17 9-18 15-16 17-12 17-8M-34-313l17-3 34 0 32 6 20 9 17 10 18 16 12 17 7 17 2 17 0 17-3 35-9 34-8 18-19 25-17 15-17 12-18 8-17 5-17 2-17-1-17-3-18-7-17-10-17-13-17-19-9-14-8-17-6-18-5-34 0-18 3-17 4-17 9-17 14-17 21-18 28-14 18-6"/></g>
<use href="#hd"/>
</g>
<g transform="translate(310.9 353.5)">
<g clip-path="url(#cd)"><g filter="url(#soft)" transform="scale(.1)">
<circle r="421" fill="#00008a"/>
<path fill="#00009f" d="M-379-413l689 0 6 103 8 35 7 17 12 17 18 17 18 10 17 7 17 4 0 616-826 0 0-656 8-15 11-35 14-120z"/>
<path fill="#0000b5" d="M-344-413l638 0 4 103 6 35 6 18 17 27 26 23 26 13 34 8 0 599-826 0 0-616 17-13 7-8 10-21 10-48 10-120z"/>
<path fill="#0000ca" d="M-327-413l606 0 4 120 7 35 8 17 12 17 16 17 24 18 29 11 34 6 0 585-826 0 0-591 17-6 17-11 10-12 9-17 5-17 6-34 10-138z"/>
<path fill="#0000df" d="M-310-413l574 0 4 120 5 35 7 17 11 17 14 17 19 18 20 13 17 8 18 4 34 5 0 572-826 0 0-572 17-3 24-10 17-17 11-18 6-17 7-34 11-155z"/>
<path fill="#0000f4" d="M-293-413l543 0 2 34 3 104 3 18 6 16 9 17 14 17 17 18 22 17 18 10 17 7 52 8 0 560-826 0 0-557 34-6 18-7 17-16 19-34 6-17 7-34 10-155z"/>
<path fill="#000bff" d="M-275-413l511 0 3 34 3 104 2 17 5 17 9 18 12 16 16 18 20 17 27 17 28 11 52 8 0 549-826 0 0-543 34-6 18-6 19-13 15-17 11-17 8-18 11-34 4-34 6-104 3-34z"/>
<path fill="#0020ff" d="M-258-413l480 0 4 34 2 86 4 35 9 28 14 23 14 18 19 17 22 16 17 9 17 8 17 5 52 8 0 539-826 0 0-531 34-7 18-5 17-8 20-17 13-17 11-17 9-18 11-34 6-52 6-103 2-17z"/>
<path fill="#0035ff" d="M-241-413l450 0 4 34 3 86 4 35 4 17 7 17 9 17 13 18 17 17 23 17 30 17 38 14 52 8 0 529-826 0 0-520 34-7 18-5 17-7 18-12 17-17 25-34 16-35 6-17 4-34 7-121 2-17z"/>
<path fill="#004aff" d="M-224-413l419 0 7 52 2 68 4 35 10 34 9 17 11 18 16 17 21 17 35 21 33 14 18 5 52 8 0 520-826 0 0-510 52-12 17-6 17-10 17-13 17-17 25-34 17-35 6-17 5-34 3-86 3-35 2-17z"/>
<path fill="#0060ff" d="M-207-413l389 0 8 52 3 68 3 35 9 34 8 17 11 18 15 17 19 17 25 17 27 14 17 7 34 10 52 9 0 511-826 0 0-499 52-13 17-6 29-15 21-18 16-17 27-34 18-35 5-17 6-34 1-86 4-35 3-17z"/>
<path fill="#0075ff" d="M-189-413l357 0 10 52 7 103 8 34 7 17 10 18 14 17 17 17 24 17 28 16 51 19 69 14 0 502-826 0 0-489 34-8 35-11 34-17 32-26 32-34 13-17 18-35 5-17 5-34 0-69 2-35 6-34z"/>
<path fill="#008aff" d="M-172-413l326 0 11 52 6 86 5 34 11 34 9 18 13 17 16 17 22 17 46 25 51 19 69 14 0 493-826 0 0-479 69-19 39-18 24-17 20-18 33-34 13-17 18-35 6-17 4-34-1-69 2-35 6-34z"/>
<path fill="#009fff" d="M-155-413l294 0 13 52 7 86 5 34 10 34 8 18 12 17 15 17 20 17 27 18 19 9 52 20 86 20 0 484-826 0 0-469 69-19 27-11 24-13 30-21 39-35 29-34 18-35 5-17 3-34-2-86 5-35 5-17z"/>
<path fill="#00b5ff" d="M-138-413l261 0 12 34 4 18 9 103 7 34 13 35 10 17 11 13 18 17 17 13 17 11 30 15 56 20 86 20 0 476-826 0 0-459 69-19 34-13 17-9 27-16 46-35 19-17 15-17 21-35 12-34 3-34-4-52 0-34 6-35 6-17z"/>
<path fill="#00caff" d="M-120-413l225 0 14 34 5 18 5 34 6 69 6 34 12 35 10 17 13 17 17 17 24 18 41 21 35 14 34 11 86 20 0 467-826 0 0-449 86-25 34-14 22-11 54-34 22-18 18-17 14-17 19-35 11-34 2-17-5-69 0-34 8-35 6-17z"/>
<path fill="#00dfff" d="M-103-406l4-7 185 0 17 34 5 18 6 34 9 86 8 34 15 35 12 17 16 17 22 18 45 24 69 25 103 26 0 458-826 0 0-439 103-30 52-23 44-24 27-17 20-18 15-17 21-34 11-26 6-26 1-17-5-86 5-35z"/>
<path fill="#00f4ff" d="M-69-413l131 0 12 17 9 17 12 35 5 34 11 86 9 35 8 17 10 16 15 18 21 18 15 9 52 25 69 24 103 26 0 449-826 0 0-428 34-11 69-19 62-24 38-17 32-17 23-17 17-18 13-17 9-17 13-35 7-34 0-17-2-69 2-34 5-18 7-17 11-17z"/>
<path fill="#0bfff4" d="M-52-400l16-13 63 0 7 4 18 17 17 31 10 34 6 34 8 69 8 35 7 17 9 17 13 17 20 18 39 23 52 21 69 22 103 28 0 439-826 0 0-416 34-13 86-23 104-36 34-16 18-12 17-17 12-18 10-17 12-34 4-18 4-34 0-69 2-34 4-17 6-18z"/>
<path fill="#20ffdf" d="M-17-388l17-4 17 5 17 15 17 28 13 51 15 104 13 34 12 17 17 18 26 17 60 25 103 33 69 18 34 10 0 430-826 0 0-402 34-15 224-59 17-6 18-10 17-14 9-10 11-17 8-18 10-34 6-35 4-103 6-34 6-17 9-14z"/>
<path fill="#35ffca" d="M0-334l17 8 17 31 8 37 4 51 6 35 6 17 10 17 16 18 24 17 38 17 26 9 121 36 89 24 31 11 0 419-826 0 0-386 17-11 17-7 121-31 34-7 69-8 35-6 22-9 26-17 15-17 9-17 6-17 12-52 1-17-2-52 2-34 12-44z"/>
<path fill="#4affb5" d="M17-86l17-7 18 1 17 3 189 48 121 33 34 13 0 408-826 0 0-369 17-11 35-15 103-26 51-6 87-1 34-7 37-12 15-8 14-10z"/>
<path fill="#60ff9f" d="M69-54l17-2 34 0 35 5 69 12 34 8 112 31 43 17 0 396-826 0 0-348 19-13 34-18 50-14 52-12 17-2 34-2 87 4 51-7 35-7 34-11 34-23 18-8z"/>
<path fill="#75ff8a" d="M103-35l17-1 35 0 86 12 30 7 108 32 34 16 0 382-826 0 0-324 27-20 25-14 17-7 44-14 59-11 34-1 87 4 86-9 34-8 22-9 47-26z"/>
<path fill="#8aff75" d="M120-17l35-3 34 1 35 4 34 6 103 31 30 12 22 13 0 366-826 0 0-295 17-15 22-17 30-17 51-18 35-7 34-3 104 3 34-2 52-6 34-7 17-6 69-31z"/>
<path fill="#9fff60" d="M138-1l34-3 35 1 34 2 17 4 97 31 37 18 21 13 0 348-826 0 0-263 52-44 34-21 52-17 51-8 121 0 69-7 51-12 86-34z"/>
<path fill="#b5ff4a" d="M155 15l52-3 34 2 17 3 54 17 44 18 33 17 24 15 0 329-826 0 0-227 52-48 22-18 29-17 17-7 35-11 51-6 104-3 69-7 51-11 103-36z"/>
<path fill="#caff35" d="M155 34l52-5 34 2 19 3 52 18 39 17 30 17 32 21 0 306-826 0 0-190 19-16 53-52 31-24 35-17 34-10 52-7 120-7 52-8 51-12 86-28z"/>
<path fill="#dfff20" d="M172 51l52-3 25 4 26 7 29 10 36 17 73 47 0 280-826 0 0-155 34-25 18-16 40-45 28-23 35-18 34-10 35-5 103-8 52-7 75-15 97-28z"/>
<path fill="#f4ff0b" d="M120 85l35-8 34-5 35-1 34 6 35 12 30 14 90 58 0 252-826 0 0-124 26-14 26-17 19-17 39-52 28-24 17-10 17-7 34-10 35-5 120-12 104-19z"/>
<path fill="#fff400" d="M155 101l34-4 35 1 28 5 23 8 35 16 103 63 0 223-826 0 0-96 51-24 35-25 17-20 24-41 16-18 27-17 19-8 35-8 137-17 121-20z"/>
<path fill="#ffdf00" d="M103 136l52-9 34-2 35 3 17 3 21 7 31 13 68 42 52 27 0 193-826 0 0-71 69-32 34-21 17-15 21-50 14-17 17-12 17-8 35-10 120-15 69-12z"/>
<path fill="#ffca00" d="M172 155l35 1 17 3 34 10 17 9 69 41 69 30 0 164-826 0 0-47 83-39 37-24 18-16 7-12 10-35 17-20 17-10 35-10 103-14 86-14z"/>
<path fill="#ffb500" d="M69 189l103-5 35 2 17 4 34 13 52 35 17 9 30 11 56 18 0 137-826 0 0-25 69-32 51-30 21-16 15-17 9-18 7-22 11-12 23-13 35-8 155-23z"/>
<path fill="#ff9f00" d="M-34 221l86-8 120-1 35 4 34 10 17 11 17 16 18 12 25 10 95 26 0 112-826 0 0-4 86-41 34-21 18-13 25-24 26-38 17-16 18-7 17-5z"/>
<path fill="#ff8a00" d="M-17 240l51-4 35-1 103 4 35 5 17 5 16 9 20 17 15 10 18 8 120 32 0 88-789 0 49-25 52-33 32-28 36-40 18-12 17-7 17-5 86-16z"/>
<path fill="#ff7500" d="M17 257l35-2 34 1 69 4 34 5 18 5 17 8 34 21 35 16 34 11 86 22 0 65-750 0 62-38 34-28 34-33 18-14 17-9 34-11 69-14z"/>
<path fill="#ff6000" d="M34 275l35-1 69 5 34 4 17 5 18 6 51 26 35 15 34 11 86 23 0 44-716 0 45-31 69-59 17-11 17-8 35-10 51-10 52-6z"/>
<path fill="#ff4a00" d="M34 292l52 1 52 4 34 6 17 5 104 47 51 16 69 19 0 23-686 0 32-24 52-44 17-12 17-9 35-12 51-10 52-7z"/>
<path fill="#ff3500" d="M34 310l52 0 34 2 35 5 17 5 35 13 86 39 51 17 69 20 0 2-659 0 74-59 17-11 17-7 35-10 51-9z"/>
<path fill="#ff2000" d="M34 327l69 1 52 7 34 12 86 39 76 27-570 0 64-49 35-15 34-9 34-6 35-4z"/>
<path fill="#ff0b00" d="M34 344l69 1 35 4 17 4 34 13 106 47-486 0 48-34 40-16 69-14z"/>
<path fill="#f40000" d="M34 361l52 1 52 6 34 11 76 34-408 0 22-15 18-8 34-12 69-13z"/>
<path fill="#df0000" d="M-69 394l35-8 34-5 34-1 52 1 52 7 34 11 31 14-324 0 18-8z"/>
<path fill="#ca0000" d="M-52 411l52-10 52-2 51 4 46 10-210 0z"/>
</g></g>
<g clip-path="url(#ch)"><path transform="scale(.1)" class="cl" d="M207-413l4 34 3 86 4 35 6 23 14 28 13 18 17 17 22 17 30 17 24 10 17 5 52 8M-413-105l52-12 17-7 17-11 21-20 25-34 16-35 5-17 4-17 5-103 5-52M121-413l7 17 9 35 10 103 6 34 13 35 11 17 12 16 20 18 15 11 17 10 27 14 59 21 86 20M-413-45l83-24 39-17 28-17 45-35 19-17 15-17 12-17 10-18 7-17 5-17 2-17 0-17-4-52 0-34 6-35 6-17M-413 27l17-10 17-7 121-32 34-6 69-8 35-6 26-10 25-17 15-17 9-17 6-17 8-35 3-17 1-17-2-52 2-34 10-37 17-17 17 8 17 33 6 30 5 69 4 17 6 17 10 17 16 18 25 17 14 7 23 10 29 10 138 41 70 18 33 11M-413 186l52-48 22-18 29-17 35-13 17-5 34-5 121-4 69-7 51-11 21-6 82-31 35-6 52-3 34 2 17 3 54 17 44 18 33 17 24 15M-413 364l81-37 22-13 17-12 18-17 6-10 11-38 17-19 17-10 35-10 103-13 86-14 155-17 34-1 35 4 17 4 27 11 76 45 35 16 34 14M-277 413l36-27 52-43 17-12 17-10 35-11 51-10 52-7 51-3 69 2 35 3 34 6 35 12 51 25 35 14 51 17 69 19"/></g>
<use href="#hd"/>
</g>
<g transform="translate(423.7 353.5)">
<g clip-path="url(#cd)"><g filter="url(#soft)" transform="scale(.1)">
<circle r="421" fill="#0000df"/>
<path fill="#0000f4" d="M-396-413l809 0 0 826-826 0 0-662 5-9 3-17-2-18-6-21 0-99z"/>
<path fill="#000bff" d="M-396-413l809 0 0 826-826 0 0-587 33-15 28-18 15-17 6-17-2-17-6-17-46-86-21-52zM241-224l-3 17 0 18 2 17 8 17 10 14 6 3 11 6 18 3 34 1 17-2 23-8 14-17-2-17-15-17-29-18-42-17-35-11zM-6-69l-5 17 1 18 10 18 17-5 7-13 0-18-6-17-1-2-17-6z"/>
<path fill="#0020ff" d="M-361-413l774 0 0 201-39-12-64-12-52-14-17 2-7 7-9 17-5 35 4 33 7 18 10 13 17 11 35 10 51 6 35 0 34-7 0 518-826 0 0-545 57-23 35-17 21-17 7-11 11-24 1-17-6-17-52-86-26-52-7-17zM0-120l-17 9-17 24-11 35-1 18 2 17 7 17 15 17 5 4 17 6 17 0 17-8 18-19 8-17 3-17-2-18-9-23-18-25-17-14z"/>
<path fill="#0035ff" d="M-327-413l740 0 0 164-103-3-17-1-35-8-17 1-17 14-11 22-4 17-4 35 1 17 4 17 8 18 6 6 17 13 34 12 52 11 52 10 34 2 0 479-826 0 0-510 86-34 34-19 22-22 13-27 5-25 1-17-5-17-62-103-23-52zM-33-120l-13 17-9 17-12 34-2 18 0 17 5 17 8 17 14 17 8 7 17 11 17 4 17 0 17-6 23-16 15-17 11-17 6-17 1-17-3-18-6-17-11-17-13-17-18-17-22-13-17-3-17 5z"/>
<path fill="#004aff" d="M-310-413l723 0 0 134-103 13-17 0-18-1-17-3-17 0-17 10-15 19-7 17-8 35-4 34 1 17 3 18 9 17 21 15 17 7 138 39 34 7 0 448-826 0 0-477 103-44 35-17 15-13 11-17 8-19 7-33 1-34-4-17-8-17-40-69-17-35-14-34zM-34-138l-18 18-12 17-17 34-10 35 0 17 3 17 7 17 10 17 19 22 16 13 19 10 17 4 17 0 17-6 18-9 19-16 16-18 13-17 9-17 6-17 2-17-2-18-7-17-12-17-16-17-18-17-24-18-21-8-17-2-17 3z"/>
<path fill="#0060ff" d="M-275-413l688 0 0 105-51 15-52 12-35 4-17-3-17 0-17 8-17 18-15 30-15 52-11 69 2 17 21 11 104 25 86 33 34 10 0 420-826 0 0-446 155-72 18-15 11-18 10-34 4-35 0-17-6-34-15-35-36-68-14-35-6-17zM-27-155l-7 3-22 14-15 18-21 34-17 34-4 18-1 17 3 17 6 17 10 17 26 34 17 16 18 13 17 9 17 4 17-1 17-5 18-9 17-13 17-16 27-32 21-34 7-17 9-35 2-17-16-17-16-8-57-44-29-14-17-6-17-2-17 2z"/>
<path fill="#0075ff" d="M-258-413l671 0 0 74-66 29-37 13-17 4-18 2-34 1-17 6-17 15-8 11-10 17-34 88-17 25-18 4-17-7-45-24-24-9-17-5-17-2-17 1-17 5-22 10-20 17-39 52-12 17-7 17-4 18 0 17 3 17 7 17 21 35 21 25 34 36 18 12 17 7 17 4 17-1 17-4 18-9 17-13 34-34 21-23 24-35 24-40 17-15 18-6 34-2 34 7 35 13 69 34 34 12 0 393-826 0 0-417 34-15 69-37 69-30 21-17 11-17 10-35 2-17 0-35-4-34-11-34-40-86-13-35-6-17z"/>
<path fill="#008aff" d="M-241-413l654 0 0 38-47 31-33 17-40 16-52 9-17 6-17 13-19 25-33 71-17 24-18 11-17 0-57-20-29-8-34-1-17 3-20 6-28 17-38 44-18 12-17 6-17-12-4-84-6-35-15-51-30-69-13-35-10-34zM-258-52l51-13 18-2 13 15 16 52 17 34 11 18 63 74 17 15 18 10 17 6 17 3 17-1 17-3 18-7 17-11 17-16 49-53 54-74 18-14 17-7 17-2 17 2 17 4 35 16 69 40 34 13 0 366-826 0 0-388 34-15 78-44z"/>
<path fill="#009fff" d="M-224-413l631 0-39 34-51 35-39 17-37 10-17 8-17 12-19 22-36 68-14 20-18 13-17 3-17-2-69-18-34-2-28 4-24 7-25 10-26 14-18-3-17-36-27-78-35-86-13-52zM-275-20l17-6 17-2 17 1 17 9 18 20 19 32 24 35 31 34 29 38 17 17 17 10 18 7 17 4 17 2 34-3 22-6 13-6 16-11 70-78 52-67 17-13 17-5 17 0 22 8 81 52 18 9 34 14 0 338-826 0 0-360 34-13 18-9 51-33z"/>
<path fill="#00b5ff" d="M-207-413l566 0-37 34-25 18-73 36-17 12-19 20-11 18-22 44-17 25-18 13-17 6-17 0-52-12-34-5-34-1-69 9-17-5-18-16-13-24-37-86-16-52-6-34zM-275 12l17-7 17 0 17 9 17 17 42 55 33 34 23 35 17 17 34 17 41 9 34 1 35-4 19-6 15-6 17-11 17-17 52-60 49-61 20-14 17-1 17 7 86 57 18 8 34 13 0 309-826 0 0-331 52-20z"/>
<path fill="#00caff" d="M-189-413l502 0-38 34-68 48-18 17-17 26-23 47-11 18-18 14-17 7-17 1-86-15-86-4-17-3-17-10-18-23-34-73-11-32-4-18zM-293 66l18-7 17-3 17 5 17 12 12 13 54 69 16 17 22 16 17 7 34 11 52 8 34 1 52-6 34-10 17-8 25-19 79-86 17-13 17-5 17 4 56 31 30 15 52 16 0 279-826 0 0-302 34-8 35-12z"/>
<path fill="#00dfff" d="M-155-413l423 0-16 17-45 41-18 18-18 27-33 69-18 17-17 7-17 2-86-15-69-9-17-4-17-8-17-17-5-7-13-21-22-48-7-35-1-34zM-379 137l69-5 35 3 17 10 20 27 28 17 90 25 62 10 58 5 77-5 43-9 22-8 28-18 71-49 17-6 17-1 18 3 68 19 52 9 0 249-826 0 0-272z"/>
<path fill="#00f4ff" d="M-138-413l362 0-35 44-17 26-17 32-21 53-13 17-18 8-17 2-17-1-50-9-71-16-17-6-23-12-11-11-17-23-18-35-5-17-2-18 2-34zM-396 170l35 4 17 3 17 7 42 23 27 12 17 4 69 2 52 7 120 9 120-8 32-9 72-28 34-6 35-1 120 3 0 221-826 0 0-243z"/>
<path fill="#0bfff4" d="M-103-413l285 0-33 69-29 77-7 9-10 6-17 3-34-4-52-12-31-10-38-21-15-14-12-17-10-17-5-17-2-18 2-17 4-17zM-396 198l52 13 69 28 17 4 17 2 69-3 52 4 51 1 69 4 120-5 29-5 40-12 35-5 17-2 69 3 103-8 0 196-826 0 0-217z"/>
<path fill="#20ffdf" d="M-17-413l149 0-12 69-17 54-17 14-22 1-30-8-25-10-26-17-17-17-8-17-3-17 4-18 7-15 10-19zM-396 223l35 7 86 26 17 3 17 1 69-5 172 6 103-3 17 0 87-14 34 0 34 6 18 1 120-11 0 173-826 0 0-193z"/>
<path fill="#35ffca" d="M-411 241l32 6 86 20 35 4 86-6 103 2 69 2 103-1 104-9 34 3 34 7 18 1 120-9 0 152-826 0 0-172z"/>
<path fill="#4affb5" d="M-396 262l86 16 52 4 86-6 189 2 103-2 69-4 35 2 51 10 18 1 34 0 86-6 0 134-826 0 0-154z"/>
<path fill="#60ff9f" d="M-396 279l86 11 35 3 34-1 86-8 172 2 155-4 35 2 68 13 18 2 51 0 69-3 0 117-826 0 0-137z"/>
<path fill="#75ff8a" d="M-411 293l84 8 52 2 34-2 69-8 34-1 155 2 155-2 35 2 86 17 51 2 69-1 0 101-826 0 0-121z"/>
<path fill="#8aff75" d="M-396 308l103 6 35-2 86-11 34-2 172 2 121-1 52 4 68 15 35 5 51 3 52 0 0 86-826 0 0-106z"/>
<path fill="#9fff60" d="M-172 309l52-3 154 3 121-1 52 6 68 16 35 5 51 4 52 2 0 72-826 0 0-92 69 3 51 0 52-5z"/>
<path fill="#b5ff4a" d="M-224 325l52-9 34-2 172 2 104-1 34 2 35 6 68 17 35 6 51 6 52 3 0 58-826 0 0-78 103 0 35-2z"/>
<path fill="#caff35" d="M-189 327l34-5 35-1 154 3 104-1 34 3 138 31 51 7 52 4 0 45-826 0 0-65 69-1 51-3 52-7z"/>
<path fill="#dfff20" d="M-224 342l52-10 34-4 293 3 34 6 86 24 35 7 51 8 52 5 0 32-826 0 0-52 103-5 35-4z"/>
<path fill="#f4ff0b" d="M-189 343l51-8 293 4 34 7 69 20 52 13 51 9 52 6 0 19-826 0 0-39 69-5 51-5 52-10z"/>
<path fill="#fff400" d="M-155 344l35-1 172 3 86 0 17 1 34 8 69 21 52 13 51 10 52 7 0 7-826 0 0-27 69-6 51-7z"/>
<path fill="#ffdf00" d="M-189 359l34-7 17-2 190 4 86 0 17 2 25 5 78 25 52 14 65 13-788 0 0-15 69-7 51-8z"/>
<path fill="#ffca00" d="M-155 360l35-2 258 4 34 6 103 33 44 12-732 0 0-3 69-8 69-12z"/>
<path fill="#ffb500" d="M-189 376l34-8 35-2 258 5 37 8 105 34-625 0 70-14z"/>
<path fill="#ff9f00" d="M-155 377l17-2 35 0 241 5 34 8 75 25-538 0z"/>
<path fill="#ff8a00" d="M-189 395l34-8 35-4 223 5 35 2 17 3 63 20-470 0z"/>
<path fill="#ff7500" d="M-138 394l52-2 189 5 35 3 50 13-406 0 46-13z"/>
<path fill="#ff6000" d="M-172 410l52-8 51-1 155 4 34 3 31 5-334 0z"/>
<path fill="#ff4a00" d="M-120 412l68-2 101 3-183 0z"/>
</g></g>
<g clip-path="url(#ch)"><path transform="scale(.1)" class="cl" d="M413-294l-90 19-30 3-18 0-17-3-17 0-17 8-9 9-8 12-10 22-13 52-4 34 1 18 4 17 16 17 23 10 69 18 86 29 34 9M-413-48l126-55 29-16 17-21 12-32 5-29 1-23-1-17-4-17-13-29-41-74-21-52M-34-145l-12 7-16 18-12 17-18 34-7 17-3 18-1 17 2 17 7 17 10 17 15 20 17 17 18 14 17 8 17 5 17-1 17-5 18-10 17-13 17-17 15-18 13-17 9-17 6-17 3-17 0-18-6-17-14-17-37-34-24-18-17-8-17-6-17-3-17 3-17 7M358-413l-282 224-234-69-52-155M-413 82l224-27 137 136 138-8 107-114 82-42 138 77M160-413l-30 86-10 35-8 17-9 9-17 7-17-1-17-3-46-12-38-18-24-17-16-17-10-17-6-17-1-18 3-17 6-17M-413 208l52 10 63 23 23 6 17 4 17 1 69-4 52 3 51 1 69 4 17 0 103-4 69-14 35-5 17 0 52 5 120-9M-413 292l86 8 52 3 34-2 86-9 189 1 138-2 35 3 86 16 51 2 69-1M-413 354l69-2 51-4 52-7 69-14 34-3 190 3 86-1 17 1 34 5 86 23 35 7 51 7 52 4M-413 409l103-14 52-10 90-24 30-4 18 0 154 4 106 0 32 6 103 33 48 13"/></g>
<use href="#hd"/>
</g>
<g transform="translate(85.2 481.7)">
<g clip-path="url(#cd)"><g filter="url(#soft)" transform="scale(.1)">
<circle r="421" fill="#00008a"/>
<path fill="#00009f" d="M-396-413l809 0 0 784-103 4-44 4-42 6-121 5-120 11-121 1-155-7-42 1-78 7 0-816z"/>
<path fill="#0000b5" d="M-396-413l809 0 0 775-86 5-103 9-69 3-155 12-120 2-190-5-103 5 0-806z"/>
<path fill="#0000ca" d="M-396-413l809 0 0 768-86 4-103 11-86 4-138 10-138 2-172-6-103 5 0-798z"/>
<path fill="#0000df" d="M-396-413l809 0 0 760-86 5-103 11-86 5-138 9-138 2-172-6-103 4 0-790z"/>
<path fill="#0000f4" d="M-396-413l809 0 0 753-86 5-103 12-258 15-104 0-172-7-103 5 0-783z"/>
<path fill="#000bff" d="M-396-413l809 0 0 745-103 8-86 12-276 13-86 0-172-7-103 4 0-775z"/>
<path fill="#0020ff" d="M-396-413l809 0 0 738-103 8-86 13-86 3-69 5-121 5-172-3-86-5-103 3 0-767z"/>
<path fill="#0035ff" d="M-396-413l809 0 0 730-103 10-86 13-86 3-69 5-138 5-155-4-86-5-103 3 0-760z"/>
<path fill="#004aff" d="M-396-413l809 0 0 723-103 10-86 15-86 2-69 5-69 1-69 3-86-4-69 1-86-6-103 2 0-752z"/>
<path fill="#0060ff" d="M-396-413l809 0 0 715-103 12-86 15-69 2-86 5-69 0-69 4-86-5-69 2-86-7-103 2 0-745z"/>
<path fill="#0075ff" d="M-396-413l809 0 0 708-103 12-86 17-86 2-69 5-69-1-69 4-86-6-69 3-86-8-103 1 0-737z"/>
<path fill="#008aff" d="M-396-413l809 0 0 700-103 14-86 17-69 2-69 4-86 0-69 4-86-6-69 3-86-9-103 1 0-730z"/>
<path fill="#009fff" d="M-396-413l809 0 0 693-103 14-69 16-34 5-52-1-86 5-69-1-69 5-34-2-52-6-34 4-35 1-86-11-103 0 0-722z"/>
<path fill="#00b5ff" d="M-396-413l809 0 0 685-120 19-52 14-34 4-52 0-86 5-69-2-69 5-34-2-52-6-34 4-35 1-86-11-103-1 0-715z"/>
<path fill="#00caff" d="M-396-413l809 0 0 677-120 21-52 15-34 4-52 0-86 4-69-1-69 4-86-7-69 5-86-12-103-3 0-707z"/>
<path fill="#00dfff" d="M-396-413l809 0 0 669-120 23-52 16-34 4-52 0-69 3-86 0-69 4-86-7-69 5-17-2-52-10-120-5 0-700z"/>
<path fill="#00f4ff" d="M-396-413l809 0 0 661-120 25-52 17-34 4-52 0-69 3-86 0-69 3-86-6-69 5-17-2-52-11-120-7 0-692z"/>
<path fill="#0bfff4" d="M-396-413l809 0 0 653-120 28-52 17-34 4-52-1-224 7-86-5-69 4-17-2-52-12-120-8 0-685z"/>
<path fill="#20ffdf" d="M-396-413l809 0 0 645-120 30-52 19-34 3-52-1-224 6-86-4-69 4-17-1-52-14-120-10 0-677z"/>
<path fill="#35ffca" d="M-396-413l809 0 0 636-103 28-69 25-34 3-52-1-241 6-69-4-69 5-17-2-34-10-35-7-103-9 0-670z"/>
<path fill="#4affb5" d="M-396-413l809 0 0 627-103 31-69 26-17 3-155 0-155 5-69-3-69 4-17-2-34-10-35-7-103-12 0-662z"/>
<path fill="#60ff9f" d="M-396-413l809 0 0 617-103 35-52 22-17 5-17 2-155-1-155 6-69-2-69 4-17-1-69-19-103-14 0-654z"/>
<path fill="#75ff8a" d="M-396-413l809 0 0 607-103 37-59 27-10 3-17 2-155-2-69 4-103 3-69-2-52 4-17-1-69-20-103-16 0-646z"/>
<path fill="#8aff75" d="M-396-413l809 0 0 597-86 33-34 15-35 18-17 6-17 2-155-5-69 6-52 0-68 4-52-2-52 4-17 0-69-22-103-18 0-638z"/>
<path fill="#9fff60" d="M-396-413l809 0 0 585-103 43-52 29-17 6-17 2-155-7-69 7-52 0-68 5-52-1-52 5-17-1-69-24-103-20 0-629z"/>
<path fill="#b5ff4a" d="M-396-413l809 0 0 572-26 13-60 26-34 17-43 26-9 3-17 1-104-5-51-4-69 8-52 1-68 6-52-1-52 5-17 0-17-5-52-21-103-22 0-620z"/>
<path fill="#caff35" d="M-396-413l809 0 0 556-52 29-51 23-52 33-17 8-17 1-155-12-35 3-34 6-52 2-68 8-52 0-52 5-17 0-17-5-35-16-34-12-86-18 0-611z"/>
<path fill="#dfff20" d="M-396-413l809 0 0 538-46 30-57 27-64 42-5 2-17 2-42-4-96-14-17-1-35 4-34 8-69 6-51 9-52 1-52 6-17 0-17-5-52-25-103-25 0-601zM-12-361l-14 17-4 17 2 17 16 52 6 34 1 35-4 51 1 18 8 31 17 38 17 25 18-5 17-35 5-20 12-72 9-83 2-34-1-35-4-17-6-14-21-20-13-7-18-4-17 0-17 4z"/>
<path fill="#f4ff0b" d="M-396-413l809 0 0 513-49 38-54 26-17 11-43 32-9 4-17 4-17-2-40-6-52-18-12-9-16-8 11-17 22-12 18-20 7-20 3-17 0-34-9-52-1-69-5-69-7-189-3-17-9-17-11-15-17-14-17-10-17-7-18-4-17-1-17 1-17 4-17 7-18 12-10 9-12 18-4 17 1 17 22 69 6 34 1 104 10 86 7 86 5 34 5 17 7 17 14 18 17 10 17 7 16 17-16 7-11 10-48 18-44 7-34 10-17 3-52 1-52 7-17 0-17-6-35-18-17-7-103-27 0-590z"/>
<path fill="#fff400" d="M-396-413l327 0-19 17-13 17-8 18-2 17 2 17 5 17 19 52 6 34 1 104 7 103-2 86 2 17 4 17 22 52 2 17-15 17-37 18-25 6-52 5-52 8-17 0-17-7-35-19-17-6-103-29 0-578zM103-413l310 0 0 481-17 9-55 43-48 24-18 12-34 31-17 6-17-1-11-3-22-17 1-17 14-25 21-27 6-17 1-17-1-17-7-35-46-189-9-69-9-103-7-23-18-25-23-21z"/>
<path fill="#ffdf00" d="M-396-413l293 0-13 17-11 17-6 18-2 17 7 34 18 52 4 34 0 86 3 138-11 69-3 34 2 17 16 35 0 17-16 17-23 9-36 9-50 7-17-1-16-6-18-12-35-14-51-12-52-17 0-565zM138-413l275 0 0 442-34 1-52 7-17-4-17-9-18-16-17-23-17-29-12-25-29-69-12-34-9-35-6-34-11-103-4-17-7-18-10-17-14-17z"/>
<path fill="#ffca00" d="M-396-413l270 0-12 17-7 17-6 18-1 17 4 34 16 69-2 224-2 17-5 17-23 69-1 17 1 17 9 36-5 16-30 17-34 6-17-3-34-17-18-7-68-12-52-18 0-551zM155-413l258 0 0 411-34-8-35-5-17-4-17-8-17-12-14-13-21-28-40-75-20-52-15-68-10-86-14-35-10-17z"/>
<path fill="#ffb500" d="M-396-413l251 0-9 17-6 17-5 18-1 17 8 103-5 155-3 34-6 35-6 17-11 25-18 28-17 21-34 30-17 20-18 13-17 4-34 0-17-2-52-20 0-532zM172-413l241 0 0 388-69-19-34-18-17-14-18-21-26-41-19-34-8-17-17-52-8-34-11-86-11-35-8-17z"/>
<path fill="#ff9f00" d="M-396-413l235 0-11 29-5 23-2 86-6 68-3 87-7 51-10 35-19 36-17 23-17 19-52 53-17 11-17 4-17-1-52-15 0-509zM189-413l224 0 0 368-52-15-34-17-17-13-17-17-35-49-10-16-16-35-18-51-7-35-8-68-9-35-7-17z"/>
<path fill="#ff8a00" d="M-396-413l221 0-10 34-3 18-4 68-14 69-8 104-8 34-6 17-13 28-16 24-36 36-34 29-17 11-17 6-18 3-34-2 0-479zM207-413l206 0 0 349-52-17-34-19-17-15-17-19-27-38-19-35-13-34-12-34-14-104-11-34z"/>
<path fill="#ff7500" d="M-396-413l208 0-5 17-6 35-6 68-19 69-11 86-6 25-11 27-23 35-18 18-17 15-34 21-69 27 0-443zM224-413l189 0 0 331-52-18-17-9-16-11-18-18-14-17-24-34-14-26-11-26-13-34-4-18-10-86-9-34z"/>
<path fill="#ff6000" d="M-396-413l196 0-8 34-8 86-5 18-14 34-18 86-11 35-9 17-12 17-15 17-20 17-27 18-66 30 0-409zM241-413l172 0 0 314-34-11-18-8-29-20-22-23-17-22-18-26-24-49-10-35-8-86-8-34z"/>
<path fill="#ff4a00" d="M-396-413l184 0-6 34-9 86-5 18-15 34-20 69-14 34-12 20-11 15-23 22-34 24-52 26 0-382zM241-413l172 0 0 296-34-11-18-8-17-12-17-16-17-20-17-23-18-27-17-36-6-23-7-86-6-34z"/>
<path fill="#ff3500" d="M-396-413l173 0-6 34-5 69-3 17-5 18-17 34-16 46-18 38-17 26-27 28-24 18-52 29 0-357zM258-413l155 0 0 278-34-12-18-9-17-13-34-38-35-50-7-18-4-18-6-86-6-34z"/>
<path fill="#ff2000" d="M-396-413l161 0-4 34-3 52-4 34-5 18-42 84-23 36-28 30-35 26-34 19 0-333zM275-413l138 0 0 260-34-14-18-11-14-11-20-20-17-21-20-28-9-17-6-27-4-77-5-34z"/>
<path fill="#ff0b00" d="M-396-413l150 0-4 34-3 69-2 17-5 18-9 17-24 41-17 26-17 22-34 33-22 16-30 18 0-311zM293-413l120 0 0 240-34-15-18-12-17-15-34-39-13-21-6-18-2-17-4-69-4-34z"/>
<path fill="#f40000" d="M-396-413l138 0-3 34-2 69-6 35-6 11-35 50-17 22-34 33-18 13-34 22 0-289zM310-413l103 0 0 219-27-13-25-17-17-16-16-18-11-17-8-18-3-17-6-69-4-34z"/>
<path fill="#df0000" d="M-396-413l126 0-3 34-1 69-1 17-5 18-13 19-17 22-17 20-34 33-52 36 0-268zM327-413l86 0 0 197-34-20-18-15-21-24-9-18-6-17-3-17-10-86z"/>
<path fill="#ca0000" d="M-396-413l114 0-3 34-1 69-2 17-5 14-17 25-17 19-34 33-52 36 0-247zM344-413l69 0 0 172-25-17-19-17-13-18-8-17-9-34-10-69z"/>
<path fill="#b50000" d="M-396-413l101 0-4 103-4 17-7 15-17 22-34 33-52 36 0-226zM361-413l52 0 0 142-25-22-12-17-8-17-7-18-14-68z"/>
<path fill="#9f0000" d="M-396-413l88 0-5 86-2 17-6 17-11 18-15 17-19 17-47 33 0-205zM379-413l34 0 0 105-17-22-17-42-11-41z"/>
<path fill="#8a0000" d="M-396-413l74 0-6 69-7 34-9 20-12 15-18 17-39 28 0-183zM396-413l17 0 0 55-10-21-12-34z"/>
</g></g>
<g clip-path="url(#ch)"><path transform="scale(.1)" class="cl" d="M413 326l-103 8-86 12-86 4-69 5-121 5-172-4-86-4-103 3M413 280l-103 14-69 17-34 4-52-1-86 5-69-1-69 5-34-2-52-6-34 4-35 1-86-10-103-1M413 231l-120 31-52 18-34 4-52-1-224 6-34-1-52-3-69 4-17-2-34-10-18-3-120-10M413 170l-43 19-60 25-52 29-17 6-17 1-155-6-69 6-52 1-68 5-52-1-52 5-17-1-17-5-52-19-103-21M-109-413l-11 14-12 20-7 18-1 17 2 17 4 17 17 52 4 17 1 17-2 69 3 121 0 34-3 17-12 52-4 34 2 17 14 35 0 17-18 17-6 2-58 16-28 3-17-1-6-2-46-24-17-6-51-11-52-17M413 20l-34-4-35 1-17-1-17-5-17-10-18-15-17-22-17-29-10-21-24-54-13-32-9-35-8-34-11-103-4-17-7-20-9-15-13-17M-204-413l-7 34-6 69-3 17-5 18-15 34-18 78-8 25-8 18-10 17-14 17-12 12-17 15-34 20-52 25M413-106l-34-11-18-8-20-13-14-12-17-19-17-23-18-26-17-34-9-23-6-35-6-69-7-34"/></g>
<use href="#hd"/>
</g>
<g transform="translate(198.0 481.7)">
<g clip-path="url(#cd)"><g filter="url(#soft)" transform="scale(.1)">
<circle r="421" fill="#00008a"/>
<path fill="#00009f" d="M-379-401l8-12 739 0 14 34 17 52 14 57 0 683-826 0 0-760z"/>
<path fill="#0000b5" d="M-361-401l6-12 710 0 20 52 16 51 12 52 10 55 0 616-826 0 0-734 28-40z"/>
<path fill="#0000ca" d="M-344-404l5-9 681 0 20 52 21 68 15 69 6 52 5 138 4 45 0 402-826 0 0-708 34-49z"/>
<path fill="#0000df" d="M-327-409l2-4 654 0 21 52 17 51 16 69 8 52 3 51 2 129 6 43 11 51 0 328-826 0 0-684 41-56z"/>
<path fill="#0000f4" d="M-310-413l627 0 22 52 16 51 13 52 9 51 4 52 0 103 2 52 8 52 22 99 0 262-826 0 0-660 34-45 18-26z"/>
<path fill="#000bff" d="M-293-413l598 0 15 34 19 52 18 69 9 51 4 52-2 121 3 51 12 69 30 138 0 189-826 0 0-636 52-70 20-34 43-86z"/>
<path fill="#0020ff" d="M-293-399l8-14 578 0 16 34 19 52 14 52 10 51 6 69-3 121 3 51 14 86 41 202 0 108-826 0 0-611 69-98 17-31z"/>
<path fill="#0035ff" d="M-275-408l2-5 554 0 17 34 19 52 14 52 11 51 4 35 1 34-5 121 5 68 44 259 22 90 0 30-826 0 0-583 86-131z"/>
<path fill="#004aff" d="M-258-413l528 0 17 34 20 52 14 52 11 51 4 52-6 138 4 68 41 276 11 51 14 52-813 0 0-548 28-54 66-104 40-86 18-34z"/>
<path fill="#0060ff" d="M-258-398l8-15 508 0 18 34 21 52 19 69 6 34 3 52-6 120 0 52 2 34 35 276 9 51 13 52-791 0 0-51 17-34 7-18 6-35 0-17-5-34-25-100 0-206 13-38 13-35 18-34 59-97 34-75z"/>
<path fill="#0075ff" d="M-241-409l3-4 485 0 19 34 21 52 19 69 6 34 3 52-8 120 1 86 18 155 13 138 5 34 12 52-769 0 32-52 17-34 11-34 1-18-1-17-7-34-33-121-11-51-5-35 0-17 5-34 22-86 12-35 36-69 39-69 29-68z"/>
<path fill="#008aff" d="M-224-413l459 0 23 40 19 46 20 69 6 34 2 52-9 120 0 86 15 155 8 138 4 34 11 52-717 0 31-52 16-34 11-34 1-18-6-34-33-121-16-68-5-35-1-17 5-34 17-86 10-35 31-69 29-52 37-85 29-52z"/>
<path fill="#009fff" d="M-224-401l8-12 440 0 21 34 23 52 20 69 6 34 2 52-11 120-2 86 13 155 3 138 3 34 10 52-669 0 30-52 16-34 10-34 1-18-3-17-20-69-13-51-11-52-8-52-2-34 1-17 13-103 7-35 18-52 16-34 18-34 37-86z"/>
<path fill="#00b5ff" d="M-207-411l2-2 417 0 22 34 18 35 13 34 15 52 6 34 0 52-11 103-4 103 10 173-2 103 1 34 3 35 7 34-622 0 22-42 17-38 12-40 2-18-32-120-7-35-6-51-4-86 4-103 4-35 8-34 12-35 26-51 28-69 18-35z"/>
<path fill="#00caff" d="M-189-413l389 0 34 52 16 34 12 34 13 52 4 34-2 35-9 69-5 51-5 86 7 173-6 137 3 35 5 34-577 0 25-52 13-34 8-34 1-18-28-120-8-52-1-103-6-120 3-52 3-17 9-35 46-103 27-52 24-34z"/>
<path fill="#00dfff" d="M-189-405l6-8 372 0 24 34 20 35 15 34 16 52 4 17 3 34-2 35-9 52-9 86-6 68 3 190-10 120 2 35 5 34-535 0 29-69 10-34 2-17 0-18-23-120-4-35-1-34 2-69-10-86-6-69 0-34 1-17 8-35 7-17 34-78 22-42z"/>
<path fill="#00f4ff" d="M-172-412l349-1 30 40 25 46 14 34 10 35 4 17 3 34-3 35-11 69-17 137-2 190-14 120 2 35 5 34-494 0 20-52 11-34 6-34 0-18-22-155 3-103-2-17-14-69-11-86 0-34 3-18 9-34 31-69 30-56z"/>
<path fill="#0bfff4" d="M-172-399l12-14 325 0 27 34 15 21 17 31 14 34 11 35 4 17 2 34-3 35-28 172-7 52-6 172-17 120 1 35 7 34-456 0 19-52 10-34 6-34 1-35-3-51-11-87 0-68-2-35-21-86-14-86-1-34 1-18 8-34 31-69 23-42z"/>
<path fill="#20ffdf" d="M-155-406l7-7 300 0 20 22 22 30 13 19 17 33 12 34 9 34 2 17-1 35-21 120-17 86-8 52-9 155-19 120 2 35 7 34-418 0 17-52 13-51 8-52 2-51-10-87-3-51-4-35-7-34-17-52-8-34-15-86 1-35 7-34 31-69 15-28 18-26z"/>
<path fill="#35ffca" d="M-138-412l278-1 31 34 18 25 18 28 17 37 10 31 4 17 1 17-1 35-18 103-30 120-9 52-14 155-16 103 3 35 7 34-382 0 21-69 26-103 5-34 0-18-4-34-18-103-9-35-25-69-10-34-17-86 0-35 6-34 6-17 26-52 33-51 26-33z"/>
<path fill="#4affb5" d="M-138-401l14-12 251 0 28 28 31 41 21 34 14 35 9 34 2 17 0 17-3 35-22 104-42 137-20 120-3 52-8 69-2 34 3 35 7 34-347 0 33-117 31-72 5-17 3-18-1-17-29-103-57-138-20-86-5-34 0-18 6-34 15-34 17-35 18-28 17-23z"/>
<path fill="#60ff9f" d="M-120-405l9-8 224 0 36 34 23 28 17 24 18 34 12 35 5 34-1 35-5 34-16 69-16 52-42 103-24 73-20 47-3 18 12 51 7 103 8 52-313 0 22-86 12-34 17-30 58-74 4-17-8-17-36-56-69-123-13-28-13-34-17-69-5-34 0-18 6-34 6-17 26-52 11-17 26-34 24-28z"/>
<path fill="#75ff8a" d="M-103-409l6-4 196 0 21 17 18 17 34 41 17 27 10 18 12 35 6 34 0 17-3 35-7 36-14 50-19 52-36 70-35 56-17 18-17 10-17 6-35 2-17-1-17-5-35-14-17-10-17-13-34-34-35-44-17-25-20-34-19-51-13-52-5-34 1-35 4-17 17-41 27-45 42-51zM-86 238l17-8 17-1 18 3 34 15 34 6 18 5 17 10 6 7 11 18 5 17 7 34 9 69-281 0 21-86 15-34 18-25 17-18z"/>
<path fill="#8aff75" d="M-103-399l22-14 164 0 20 14 17 14 37 41 25 34 9 17 13 35 5 34 1 17-4 35-16 69-18 49-17 33-17 27-18 23-17 19-17 15-17 10-17 6-35 4-34-4-35-10-17-8-17-10-34-28-35-37-26-38-9-17-13-34-13-52-5-34 1-35 4-17 14-34 13-25 17-26 34-41zM-69 252l17-2 18 3 65 22 26 18 12 16 7 18 8 34 6 52-249 0 14-69 13-34 12-20 17-19 17-12z"/>
<path fill="#9fff60" d="M-86-401l24-12 126 0 5 2 34 22 35 33 34 45 18 36 10 34 2 17-1 35-9 51-16 52-21 44-17 25-18 21-17 17-17 13-17 9-17 5-18 3-51-1-35-7-34-14-34-26-35-34-25-38-15-34-14-52-5-34 1-35 10-34 17-35 31-44 35-37zM-69 268l17-2 18 1 17 5 45 21 19 17 10 17 7 17 6 35 3 34-217 0 5-34 7-35 6-17 8-17 15-20 17-14z"/>
<path fill="#b5ff4a" d="M-69-401l32-12 75 0 31 12 34 22 19 18 30 34 23 34 14 35 6 34 0 17-3 35-13 52-21 51-20 33-18 21-17 15-17 13-17 8-17 6-35 3-51-3-35-9-17-7-17-11-35-28-20-24-21-34-10-25-8-27-8-34-2-35 6-34 14-34 20-35 29-36 35-33zM-86 292l17-10 17-3 18 1 17 5 17 8 25 17 14 17 7 17 8 35 1 34-183 0 3-34 6-35 6-17 10-17z"/>
<path fill="#caff35" d="M-52-399l35-9 34 0 35 8 34 19 34 29 23 25 23 34 15 35 6 34 0 35-11 51-19 52-20 34-17 20-17 16-17 12-17 8-17 5-35 3-51-1-35-7-34-18-35-28-17-20-17-28-18-48-7-34-2-35 5-34 14-34 25-40 35-38 34-28zM-52 291l18 1 17 6 20 12 17 17 9 17 5 17 3 18-1 34-147 0 0-34 2-18 3-17 7-17 13-19 17-12z"/>
<path fill="#dfff20" d="M-34-396l34-5 34 5 35 14 17 10 34 31 27 31 20 35 11 34 3 34-4 35-14 52-16 34-9 16-14 18-21 21-17 12-17 8-17 6-35 3-51 0-35-7-34-17-31-26-21-24-17-32-15-47-5-34 2-35 10-34 18-35 24-32 35-34 34-23zM-52 304l18 1 17 6 18 16 10 17 6 17 1 18-1 17-4 17-104 0-5-34 1-18 3-17 8-17 15-16z"/>
<path fill="#f4ff0b" d="M-52-381l35-10 34 0 35 10 17 8 34 25 21 21 26 34 16 35 7 34-1 35-11 51-14 35-21 34-23 24-17 12-17 9-17 6-35 5-51-1-35-7-17-7-17-10-17-13-18-18-14-17-10-17-13-35-8-34-2-35 6-34 14-34 24-35 32-34 23-19zM-52 318l18 1 14 8 12 17 5 17-1 18-5 17-8 14-4 3-38 0-10-11-3-6-5-17-1-18 3-17 9-17z"/>
<path fill="#fff400" d="M-17-382l17-1 34 5 35 15 17 11 28 25 24 29 13 23 12 34 3 34-4 35-9 34-15 35-25 34-27 24-17 9-17 7-18 3-51 3-35-4-34-12-17-11-17-13-18-18-15-22-15-35-7-34-2-35 6-34 14-34 19-28 21-24 31-26 34-20zM-34 347l0 16-13-2z"/>
<path fill="#ffdf00" d="M-52-364l18-6 17-3 17-1 17 1 17 4 21 8 31 19 34 32 18 26 12 26 8 34-1 35-7 34-12 34-18 29-17 20-17 14-17 11-17 7-35 6-34 1-35-4-17-5-17-8-28-19-17-17-13-17-9-17-7-18-8-34-2-35 6-34 6-17 21-35 31-34 20-17z"/>
<path fill="#ffca00" d="M-17-365l17-1 17 2 17 4 18 6 17 10 17 12 23 22 15 17 10 18 8 17 6 17 2 17-1 35-7 34-14 35-10 17-15 18-17 16-17 11-17 7-35 8-34 1-35-5-34-13-17-11-17-15-18-21-14-31-9-34-1-35 6-34 16-34 12-18 25-27 34-26 17-9 18-6z"/>
<path fill="#ffb500" d="M-52-346l18-6 17-4 17-1 17 2 17 4 18 6 28 18 23 22 17 21 14 26 6 17 3 34-4 35-12 34-8 18-12 17-16 17-22 17-17 8-35 9-34 1-35-5-17-6-17-9-17-11-17-16-17-22-7-18-9-34-2-35 7-34 6-17 22-33 17-19 20-17z"/>
<path fill="#ff9f00" d="M-17-347l17-1 17 1 17 5 32 15 20 16 18 18 16 24 12 28 2 17 1 17-5 35-12 34-15 25-17 19-9 8-25 15-18 6-34 5-34-2-18-4-17-6-17-9-17-12-17-18-16-27-5-17-6-34 2-35 4-17 8-17 10-17 14-18 23-22 17-12 17-10 18-6z"/>
<path fill="#ff8a00" d="M-52-328l18-6 17-4 17-1 17 1 17 5 15 6 20 12 24 22 14 18 13 26 6 25-1 35-5 21-11 30-11 18-15 17-23 17-26 11-17 4-34 2-35-6-17-7-17-9-16-12-15-17-10-18-6-17-5-22-1-30 2-17 5-17 7-17 11-17 15-18 19-17z"/>
<path fill="#ff7500" d="M-17-329l17-1 17 2 17 4 18 8 17 12 17 16 17 23 11 24 3 17 1 17-5 35-10 25-17 27-17 17-17 11-18 8-17 4-17 2-34-2-18-5-17-7-18-11-19-17-11-18-7-17-7-34 3-35 4-17 9-17 11-17 18-19 20-16 32-15z"/>
<path fill="#ff6000" d="M-34-316l17-4 17-1 17 2 17 5 18 9 17 12 17 18 11 17 8 17 3 17-1 35-4 18-16 33-14 18-21 17-18 9-17 5-17 2-17 0-17-2-18-5-18-9-16-11-17-19-12-22-5-17-2-35 2-17 6-17 8-17 13-17 18-18 23-15z"/>
<path fill="#ff4a00" d="M-17-310l17-2 17 2 17 6 20 11 20 18 13 17 7 17 5 17 1 17-2 18-5 17-7 17-11 17-16 18-25 15-17 6-17 3-17 0-17-3-18-6-26-15-16-18-9-14-7-20-2-17-1-18 3-17 5-17 19-28 17-17 17-12 18-8z"/>
<path fill="#ff3500" d="M-34-296l17-4 17-2 17 3 17 6 18 11 17 16 15 25 2 8 3 26-1 18-5 17-8 17-13 17-10 10-18 12-17 7-17 3-17 0-17-3-18-7-17-11-12-11-12-17-6-17-4-17 0-18 3-17 6-17 11-17 14-16 17-13z"/>
<path fill="#ff2000" d="M-34-285l17-5 17-1 17 2 17 8 18 12 10 11 10 17 5 17 1 17-2 18-5 17-9 17-10 13-18 14-17 8-17 4-17 0-17-4-18-8-17-13-11-14-8-17-4-17 0-18 3-17 7-17 13-19 17-15z"/>
<path fill="#ff0b00" d="M-17-279l17-1 17 3 17 9 18 16 7 11 6 17 2 17-3 18-6 17-6 11-18 18-7 5-10 5-17 5-17 0-17-5-18-10-17-18-6-11-4-17-1-18 3-17 8-17 17-20 18-12z"/>
<path fill="#f40000" d="M-34-259l17-7 17-1 17 4 17 12 9 10 8 17 2 17-3 18-8 17-8 11-17 13-17 6-17 0-17-6-10-7-15-17-6-17-2-18 4-17 9-17z"/>
<path fill="#df0000" d="M-17-250l17-2 17 7 6 4 11 17 2 17-3 18-16 21-17 8-17-1-17-8-14-20-2-18 5-17 11-15z"/>
<path fill="#ca0000" d="M0-225l2 1 7 17-9 17-17-3-5-14 5-13z"/>
</g></g>
<g clip-path="url(#ch)"><path transform="scale(.1)" class="cl" d="M262-413l18 34 20 52 19 69 6 34 4 52-6 138 3 68 37 276 10 51 13 52M-413-105l12-33 17-34 73-121 30-68 27-52M-413 337l11-27 5-17 2-18 0-17-4-34-14-61M196-413l28 41 23 45 12 34 10 35 6 34 1 17-2 35-12 86-6 69-3 51 5 173 0 34-6 69-1 34 2 35 6 34M-302 413l24-52 12-34 8-34 0-18-26-120-5-35-2-34 1-69-9-120-1-35 1-34 3-17 9-35 45-103 28-52 24-34M125-413l95 138 1 137-82 551M-203 413l48-330-76-341 109-155M-112 413l-1-34 2-18 4-17 7-17 14-20 17-12 17-5 18 1 17 6 23 13 16 17 9 17 5 17 2 18 0 34M-52-400l18-6 17-3 17-1 17 1 17 3 18 6 17 7 17 11 17 13 17 16 24 26 23 34 15 35 6 34-1 35-2 17-8 34-11 35-8 17-20 35-18 21-17 15-17 12-17 9-17 5-35 3-51-1-18-3-17-5-17-8-17-9-17-13-18-15-17-20-17-28-7-15-12-35-7-34-2-35 2-17 3-17 14-34 10-18 16-23 35-38 17-16 17-12 17-11 17-7M-52-349l18-6 17-4 17-1 17 1 17 5 18 6 17 10 15 11 19 18 17 21 17 30 5 17 3 17 1 17-5 35-11 34-10 20-9 15-15 17-22 17-22 11-18 6-17 3-34 1-35-5-17-6-17-8-17-11-17-16-18-23-9-21-9-34-1-35 2-17 4-17 7-17 9-17 13-18 19-20 17-15 17-12 17-9M-52-294l18-8 17-4 17-1 17 2 17 6 18 9 17 15 13 17 4 8 4 9 4 17 1 17-1 18-5 17-8 17-12 19-17 16-18 11-17 6-17 3-17 0-18-3-17-6-19-11-18-18-11-17-6-17-2-17-1-18 6-25 3-9 14-22 17-18 17-13"/></g>
<use href="#hd"/>
</g>
<g transform="translate(310.9 481.7)">
<g clip-path="url(#cd)"><g filter="url(#soft)" transform="scale(.1)">
<circle r="421" fill="#00008a"/>
<path fill="#00009f" d="M-293-413l706 0 0 826-826 0 0-583 34-19 21-18 32-34 16-24 10-28 2-17 1-86 2-17z"/>
<path fill="#0000b5" d="M-275-413l688 0 0 826-826 0 0-571 27-14 25-17 35-35 26-34 8-17 4-18 4-120z"/>
<path fill="#0000ca" d="M-258-413l670 0 1 2 0 824-826 0 0-560 34-17 33-25 33-35 25-34 7-17 3-18 2-86 2-34z"/>
<path fill="#0000df" d="M-258-413l632 0 8 17 11 17 20 19 0 773-826 0 0-549 39-19 30-23 43-46 14-17 11-17 6-17 2-18 1-86 3-34z"/>
<path fill="#0000f4" d="M-241-413l586 0 16 49 15 20 20 14 17 7 0 736-826 0 0-538 34-17 18-10 17-14 40-41 29-34 9-17 5-17 2-18 2-86 3-34z"/>
<path fill="#000bff" d="M-241-413l562 0 10 52 5 17 9 17 21 17 13 6 34 9 0 708-826 0 0-528 45-23 24-16 51-53 28-34 8-17 5-17 2-35 2-69 4-34z"/>
<path fill="#0020ff" d="M-224-413l525 0 9 75 2 11 8 17 7 8 17 12 35 11 34 6 0 686-826 0 0-518 34-17 35-22 62-63 26-34 8-17 4-17 2-18 3-86 4-34z"/>
<path fill="#0035ff" d="M-224-413l507 0 6 86 3 17 7 17 11 11 10 7 24 9 34 8 35 4 0 667-826 0 0-509 52-26 22-16 68-69 14-17 10-17 7-17 4-17 6-104z"/>
<path fill="#004aff" d="M-207-413l473 0 4 34 2 69 3 17 10 18 25 16 17 6 34 9 52 7 0 650-826 0 0-499 52-26 33-26 53-52 27-34 10-17 6-17 4-17 5-86 4-35 4-17z"/>
<path fill="#0060ff" d="M-207-409l2-4 456 0 4 34 1 69 2 17 6 18 11 14 18 11 34 13 52 11 34 5 0 634-826 0 0-489 52-27 34-25 61-61 28-35 9-17 9-34 5-86z"/>
<path fill="#0075ff" d="M-189-413l425 0 5 34 3 86 5 18 9 17 23 17 29 12 51 14 52 9 0 619-826 0 0-479 52-27 34-25 72-71 14-18 12-17 8-17 9-34 8-104 9-34z"/>
<path fill="#008aff" d="M-189-400l4-13 406 0 6 34 5 86 3 18 8 17 16 17 34 18 51 17 69 13 0 606-826 0 0-469 52-28 34-24 66-64 30-35 11-17 8-17 5-17 5-35 4-68z"/>
<path fill="#009fff" d="M-172-413l379 0 7 34 5 86 4 18 7 17 12 17 24 17 44 19 51 15 52 10 0 593-826 0 0-458 52-29 34-23 77-75 29-35 10-17 12-34 5-35 5-68 9-35 6-17z"/>
<path fill="#00b5ff" d="M-155-413l347 0 9 34 5 69 5 35 6 17 11 17 13 13 17 12 35 16 68 22 52 11 0 580-826 0 0-448 52-29 34-23 17-14 71-71 16-17 12-18 10-17 10-34 5-35 4-51 6-35 14-34z"/>
<path fill="#00caff" d="M-155-403l6-10 326 0 6 17 8 35 3 51 5 35 8 20 7 14 10 11 17 14 14 9 38 17 68 24 52 11 0 568-826 0 0-436 69-40 30-23 56-57 31-29 20-25 15-27 6-17 7-34 9-86 5-18z"/>
<path fill="#00dfff" d="M-138-408l4-5 294 0 12 26 6 26 5 68 3 18 6 17 9 17 14 17 26 20 52 25 68 24 52 13 0 555-826 0 0-424 69-41 34-25 52-55 44-40 14-17 11-18 13-34 6-34 7-69 3-17 6-18z"/>
<path fill="#00f4ff" d="M-120-408l5-5 255 0 15 23 10 29 5 68 8 35 8 17 13 17 25 21 23 14 28 13 69 27 69 18 0 544-826 0 0-410 29-20 40-23 34-25 23-21 30-34 50-45 20-24 10-18 11-34 6-34 7-69 5-17 10-24z"/>
<path fill="#0bfff4" d="M-103-403l13-10 203 0 25 27 11 25 4 17 1 34 4 35 5 17 8 17 18 23 12 11 23 16 34 17 86 36 69 19 0 532-826 0 0-394 23-19 46-27 34-24 20-18 47-51 42-35 16-17 13-19 7-16 6-17 10-51 11-78 14-26z"/>
<path fill="#20ffdf" d="M-69-403l24-10 111 0 20 10 17 11 13 13 12 18 5 17 5 51 8 35 8 17 12 17 16 17 24 18 18 10 69 30 51 21 69 21 0 520-826 0 0-375 34-30 52-31 34-27 52-55 52-43 21-24 11-17 11-35 18-103 8-25 18-27 16-13z"/>
<path fill="#35ffca" d="M-52-382l35-8 34-1 35 6 17 7 22 17 12 16 6 18 5 34 10 35 9 17 12 17 16 17 23 18 40 21 120 51 69 22 0 508-826 0 0-354 34-31 52-34 34-26 69-71 46-35 18-17 12-17 14-35 14-74 17-58 17-23 17-12z"/>
<path fill="#4affb5" d="M-34-346l17-2 34 4 17 6 18 11 17 25 11 27 10 17 12 17 15 17 18 17 37 26 35 17 51 21 69 30 34 14 52 16 0 496-826 0 0-329 52-47 68-49 25-22 50-52 68-52 12-12 15-22 7-17 5-18 8-49 17-49 17-24 17-11z"/>
<path fill="#60ff9f" d="M-52-216l18-3 34 2 34-2 18 0 17 4 34 14 54 29 32 14 69 25 86 39 69 24 0 483-826 0 0-303 52-46 86-68 68-68 19-14 54-34 20-18 15-17 30-45z"/>
<path fill="#75ff8a" d="M52-175l34 0 34 8 138 46 86 38 69 25 0 471-826 0 0-277 120-96 35-32 51-53 35-26 55-32 65-42 52-18z"/>
<path fill="#8aff75" d="M52-142l34-6 34 2 104 25 34 12 69 32 86 32 0 458-826 0 0-251 127-93 28-27 56-59 19-17 23-18 74-41 34-16z"/>
<path fill="#9fff60" d="M86-122l34-2 18 2 51 8 47 11 22 8 86 37 69 27 0 444-826 0 0-226 69-46 69-44 17-14 74-83 20-17 26-19 52-29 34-16 104-33z"/>
<path fill="#b5ff4a" d="M52-88l34-9 34-4 52 2 52 8 34 10 155 64 0 430-826 0 0-202 86-55 69-37 18-16 68-76 29-27 24-17 50-29 35-16z"/>
<path fill="#caff35" d="M86-71l34-6 35-3 34 1 35 4 17 4 34 12 138 58 0 414-826 0 0-179 86-54 86-47 17-13 86-87 35-27 34-23 35-19 34-13z"/>
<path fill="#dfff20" d="M138-54l51-6 35 3 17 3 52 18 120 51 0 398-826 0 0-156 108-68 65-34 27-17 93-80 76-58 27-17 34-12z"/>
<path fill="#f4ff0b" d="M172-36l35-3 17 1 34 6 41 15 114 50 0 380-826 0 0-133 120-77 89-48 66-47 65-39 21-16 40-36 12-8 22-9 81-17z"/>
<path fill="#fff400" d="M224-18l34 5 35 12 120 54 0 360-826 0 0-111 69-42 86-58 62-30 76-42 34-12 51-15 18-10 37-41 24-18 25-10 51-16 52-18 35-7z"/>
<path fill="#ffdf00" d="M172 17l35-10 17-2 17 1 17 3 27 8 42 17 86 40 0 339-826 0 0-89 86-52 65-48 21-12 121-51 34-9 69-11 17-6 20-15 32-39 17-16 17-11 17-9z"/>
<path fill="#ffca00" d="M224 32l17 0 34 7 35 13 103 45 0 316-826 0 0-68 103-61 17-12 35-30 17-11 52-20 69-23 34-7 69-11 34-12 28-20 31-35 18-17 26-17 52-23 35-11z"/>
<path fill="#ffb500" d="M207 67l34-3 34 5 35 11 103 41 0 292-826 0 0-46 120-71 18-13 34-30 34-16 52-16 52-12 86-14 34-9 30-14 22-17 34-36 18-16 34-18z"/>
<path fill="#ff9f00" d="M224 102l17-1 34 3 138 43 0 266-826 0 0-25 120-71 69-50 35-14 34-10 52-10 103-18 35-8 34-15 17-11 12-9 36-34 21-14 34-14z"/>
<path fill="#ff8a00" d="M207 154l34-7 34 0 35 5 103 22 0 239-826 0 0-4 120-70 69-47 34-17 52-14 155-26 52-12 42-16 61-39z"/>
<path fill="#ff7500" d="M207 205l34-9 52-5 51 2 69 8 0 212-796 0 90-53 86-54 35-15 34-9 35-6 137-22 71-13 15-4z"/>
<path fill="#ff6000" d="M224 238l69-10 34-3 34 0 52 2 0 186-759 0 139-84 18-8 34-13 69-15 206-31 69-17z"/>
<path fill="#ff4a00" d="M310 257l51-5 52 1 0 160-722 0 118-69 19-9 34-11 52-10 206-31 69-13z"/>
<path fill="#ff3500" d="M189 292l155-13 69-1 0 135-685 0 83-47 34-15 17-6 69-14 207-32z"/>
<path fill="#ff2000" d="M258 310l103-8 52-1 0 112-647 0 45-24 34-16 52-15 241-41 51-5z"/>
<path fill="#ff0b00" d="M344 326l69-2 0 89-605 0 37-17 52-16 223-42 52-6 103-2z"/>
<path fill="#f40000" d="M103 359l35-6 34-3 103 0 138-4 0 67-552 0 60-17z"/>
<path fill="#df0000" d="M103 379l35-7 34-3 103 1 138-2 0 45-473 0z"/>
<path fill="#ca0000" d="M120 395l52-5 241-1 0 24-376 0z"/>
<path fill="#b50000" d="M155 412l52-2 206 1 0 2-270 0z"/>
</g></g>
<g clip-path="url(#ch)"><path transform="scale(.1)" class="cl" d="M285-413l7 86 3 17 9 17 6 6 17 12 17 6 35 8 34 5M-413-97l47-23 25-18 31-29 37-40 14-17 11-17 7-17 4-17 2-18 2-68 7-52M195-413l9 34 2 18 3 51 5 35 6 17 11 17 10 10 17 12 35 16 34 13 34 10 52 10M-413-37l52-29 34-23 17-15 68-68 16-17 13-18 9-17 7-17 4-17 5-35 6-68 9-35 8-17M-413 52l39-35 47-29 34-26 18-17 45-48 44-35 18-17 13-17 10-17 5-18 20-101 11-36 12-17 20-18 25-13 18-5 34-5 34 2 20 4 15 6 17 9 20 20 9 17 4 17 7 52 6 17 8 17 12 17 17 17 22 18 33 17 120 52 69 21M-413 201l86-56 46-25 23-15 17-17 46-54 23-23 33-28 19-12 34-20 34-17 35-12 69-21 34-8 34-4 35 2 52 8 34 8 17 6 86 37 69 27M-413 334l99-59 21-15 35-29 17-10 17-7 104-39 34-8 69-11 17-5 23-13 18-18 29-34 21-17 31-17 40-18 27-9 35-7 17 0 17 3 41 13 114 51M-332 413l125-74 35-17 34-10 52-10 206-31 87-18 120-16 34-1 52 2"/></g>
<use href="#hd"/>
</g>
<g transform="translate(423.7 481.7)">
<g clip-path="url(#cd)"><g filter="url(#soft)" transform="scale(.1)">
<circle r="421" fill="#00008a"/>
<path fill="#00009f" d="M-344-413l743 0 4 17 10 27 0 782-826 0 0-663 17-7 17-10 11-8 14-18 7-17 2-17-6-86z"/>
<path fill="#0000b5" d="M-327-413l703 0 5 34 4 18 11 22 17 18 0 734-826 0 0-645 26-9 29-17 18-17 10-18 4-17 0-17-10-86z"/>
<path fill="#0000ca" d="M-310-413l666 0 3 52 4 17 7 17 13 17 30 19 0 704-826 0 0-629 26-8 26-13 28-21 15-17 7-18 2-17-13-103z"/>
<path fill="#0000df" d="M-293-413l631 0 1 69 3 17 8 17 15 17 14 9 15 9 19 7 0 681-826 0 0-615 34-10 23-12 25-17 20-17 12-17 5-18 0-17-15-103z"/>
<path fill="#0000f4" d="M-293-413l615 0-2 86 4 17 3 7 6 10 21 18 33 17 26 9 0 662-826 0 0-602 34-10 18-7 17-11 34-25 17-16 11-17 2-18-1-17-12-69-4-34z"/>
<path fill="#000bff" d="M-275-413l582 0-5 86 1 17 6 17 14 18 26 17 30 14 34 11 0 646-826 0 0-591 34-8 35-18 50-37 19-21 6-13 2-18-2-17-13-69-4-34z"/>
<path fill="#0020ff" d="M-258-413l551 0-6 103 2 17 4 7 6 11 11 9 34 22 35 16 34 10 0 631-826 0 0-580 34-7 35-17 51-38 15-12 13-17 8-17 1-18-15-86-4-34z"/>
<path fill="#0035ff" d="M-258-413l539 0-8 103 1 17 7 18 17 17 46 28 35 16 34 10 0 617-826 0 0-570 34-7 18-6 17-10 61-44 19-17 12-17 5-17 1-18-17-103-1-17z"/>
<path fill="#004aff" d="M-241-413l509 0-1 34-6 69 1 17 5 18 8 11 18 16 34 22 37 19 49 17 0 603-826 0 0-561 38-7 14-5 17-10 76-54 18-17 10-17 4-17-3-35-13-69-2-34z"/>
<path fill="#0060ff" d="M-241-413l498 0-1 34-6 69 1 17 4 18 3 4 17 21 18 14 34 22 48 25 38 11 0 591-826 0 0-551 34-7 18-5 17-10 92-64 17-17 8-17 2-17-2-18-15-86-2-34z"/>
<path fill="#0075ff" d="M-224-413l469 0 0 34-6 69 1 17 4 18 11 17 16 17 21 17 52 32 35 16 34 10 0 579-826 0 0-543 39-8 30-12 109-74 16-17 5-17-1-17-16-86-3-35 0-17z"/>
<path fill="#008aff" d="M-224-413l458 0 1 34-6 86 3 18 9 17 15 17 19 17 52 34 34 19 18 7 34 9 0 568-826 0 0-534 34-7 18-5 17-9 51-35 77-47 9-12 3-5 2-17-3-17-17-86-3-35z"/>
<path fill="#009fff" d="M-207-413l430 0 1 52-7 68 1 18 6 17 16 17 19 17 85 55 31 14 38 10 0 558-826 0 0-526 34-7 35-13 69-47 52-27 24-17 8-17-1-17-19-86-4-35 1-34z"/>
<path fill="#00b5ff" d="M-189-413l400 0 3 17 0 35-9 86 1 17 9 17 24 17 105 66 35 15 34 9 0 547-826 0 0-518 34-8 35-12 69-46 72-36 18-17 4-17-1-17-21-86-3-35 2-34z"/>
<path fill="#00caff" d="M-189-413l389 0 3 17 1 35-12 86-2 17 1 17 16 17 51 24 86 52 22 10 47 14 0 537-826 0 0-510 34-8 35-12 17-10 52-36 34-17 34-14 18-10 14-20 4-17-2-17-18-69-6-34 1-35 2-17z"/>
<path fill="#00dfff" d="M-172-413l360 0 4 17 2 35-4 34-14 69-1 17 7 17 7 7 18 9 34 12 34 16 69 42 35 14 34 10 0 527-826 0 0-502 34-8 35-13 17-9 52-36 17-9 63-25 22-18 8-17 2-17-5-34-18-69-2-35 5-34z"/>
<path fill="#00f4ff" d="M-172-412l347-1 8 34 0 35-17 69-4 34 4 17 6 10 17 13 52 16 34 15 69 42 35 14 34 10 0 517-826 0 0-494 34-8 35-13 17-8 52-36 17-10 69-25 17-12 10-14 6-17 2-17-2-17-7-35-11-34-5-34 0-18z"/>
<path fill="#0bfff4" d="M-155-413l316 0 11 33 2 19-1 17-4 17-19 69-1 17 2 17 9 17 12 11 13 7 56 14 17 7 17 8 69 41 35 14 34 11 0 507-826 0 0-486 34-8 35-12 34-20 34-25 18-10 17-7 52-15 17-9 11-10 11-18 4-17 1-17-5-34-18-69-2-17 1-18 4-17 6-17z"/>
<path fill="#20ffdf" d="M-138-413l282 0 11 19 5 15 2 18-1 17-4 17-13 34-8 35-1 34 5 17 14 18 18 9 17 6 52 10 17 6 17 8 69 41 35 14 34 11 0 497-826 0 0-477 52-15 19-7 32-18 52-36 17-7 52-12 17-7 17-12 10-11 8-18 2-17-1-17-4-34-19-69-1-17 2-18 5-17 9-17z"/>
<path fill="#35ffca" d="M-120-413l242 0 16 20 6 14 5 18-2 17-19 51-12 52-2 17 2 17 9 18 13 10 17 10 17 5 69 10 17 5 17 9 52 32 17 9 69 25 0 487-826 0 0-469 69-20 34-17 52-37 17-8 52-10 17-5 17-7 17-14 11-15 5-18 0-17-7-51-18-69-1-17 3-18 7-16 13-18z"/>
<path fill="#4affb5" d="M-103-405l13-8 161 0 15 6 17 9 18 19 7 18-1 17-7 21-44 99-2 17 4 18 15 17 27 14 18 5 34 5 52 2 17 2 17 5 69 42 17 8 69 26 0 476-826 0 0-460 52-14 34-13 34-20 35-27 17-7 66-10 20-5 26-12 19-17 7-17 2-18-17-86-14-51-1-17 7-18 6-9z"/>
<path fill="#60ff9f" d="M-86-380l17-4 17 1 14 4 38 17 17 3 35-3 17 2 12 16-5 17-7 10-17 14-52 21-17 12-17 16-18 12-17-3-17-21-17-52-5-26 5-21zM-207-121l52-2 52-6 17 0 18 9 15 17 19 31 17 18 17 3 17-9 47-43 32-17 24-6 69-7 35-1 17 1 17 6 52 31 34 18 69 26 0 465-826 0 0-451 86-26 34-18 35-26 17-9 17-3z"/>
<path fill="#75ff8a" d="M224-121l17 0 17 7 69 40 86 33 0 454-826 0 0-441 69-19 34-13 69-41 17-4 37 2 32 6 27 11 17 17 29 52 17 17 13 9 19 8 16 3 17-1 17-6 20-13 19-17 42-52 22-21 18-10 17-7 34-10z"/>
<path fill="#8aff75" d="M224-105l17 1 17 6 69 36 86 33 0 442-826 0 0-431 103-29 69-33 17-4 17 1 18 5 17 9 17 16 31 53 16 17 22 17 34 16 18 4 17 2 17-2 17-5 17-8 34-24 34-34 36-46 17-15 11-8 23-10 18-6z"/>
<path fill="#9fff60" d="M189-71l18-8 17-5 17 0 17 5 69 31 52 18 34 15 0 428-826 0 0-420 30-10 73-15 69-21 17 0 17 6 17 13 36 51 16 17 21 18 30 17 18 8 35 9 17 1 17-2 17-5 17-8 35-22 34-28 17-16 46-58z"/>
<path fill="#b5ff4a" d="M224-57l17-2 17 2 17 5 52 20 52 16 34 16 0 413-826 0 0-406 17-8 35-8 86-9 17 0 17 4 17 8 8 6 44 47 17 15 38 24 31 14 34 11 35 4 17-1 17-5 35-17 51-38 25-20 17-17 44-53 18-13z"/>
<path fill="#caff35" d="M224-22l17-7 17-1 17 2 104 28 34 19 0 394-826 0 0-390 17-9 17-5 18-3 51 0 35 7 17 8 17 11 52 46 17 13 23 12 46 20 34 11 35 7 34-1 17-3 17-7 35-20 78-58 19-18 41-43z"/>
<path fill="#dfff20" d="M241 11l17-6 17-3 18 1 34 6 34 7 18 6 34 21 0 370-826 0 0-370 17-9 17-5 18-2 17 0 34 7 32 18 54 49 17 13 35 17 69 21 34 8 35 4 34 0 34-7 18-7 17-9 51-40 53-32 21-17 30-28z"/>
<path fill="#f4ff0b" d="M275 51l18-6 17-2 34 2 17 4 18 7 34 21 0 336-826 0 0-343 34-11 18-1 17 3 17 7 24 18 36 34 21 18 31 17 26 8 120 20 35 3 34 0 34-4 35-10 29-17 22-18 18-11 69-30z"/>
<path fill="#fff400" d="M-396 102l17 1 18 5 34 20 63 44 23 12 17 6 35 5 172 12 51-3 52-10 17-5 69-32 76-19 62-27 17-5 17-2 17 0 18 3 34 11 0 295-826 0 0-309z"/>
<path fill="#ffdf00" d="M-396 143l17 5 35 15 81 44 22 8 34 4 104 2 86 3 35 0 85-7 35-8 51-18 35-8 120-22 35-3 34 0 0 255-826 0 0-273z"/>
<path fill="#ffca00" d="M-396 176l52 19 86 38 17 6 17 1 138-2 86 2 120-2 104-25 155-18 34-2 0 220-826 0 0-240z"/>
<path fill="#ffb500" d="M-396 204l35 10 103 38 17 4 17 2 155-5 189 2 104-18 69-2 120-13 0 191-826 0 0-213z"/>
<path fill="#ff9f00" d="M-396 228l138 40 34 5 35 0 137-6 172 2 87-10 34-1 52 2 120-12 0 165-826 0 0-188z"/>
<path fill="#ff8a00" d="M-396 250l138 33 34 4 35 0 172-8 137 3 104-5 69 4 120-9 0 141-826 0 0-166z"/>
<path fill="#ff7500" d="M-396 271l138 26 34 4 52 0 172-11 103 4 104-2 86 7 120-6 0 120-826 0 0-145z"/>
<path fill="#ff6000" d="M-396 291l138 21 34 3 52-1 172-13 86 4 103 1 104 9 120-1 0 99-826 0 0-125z"/>
<path fill="#ff4a00" d="M-396 309l121 16 51 4 52-2 172-14 86 4 86 1 138 14 103 1 0 80-826 0 0-105z"/>
<path fill="#ff3500" d="M-404 327l129 13 51 2 104-5 120-11 155 3 34 3 104 14 120 5 0 62-826 0 0-87z"/>
<path fill="#ff2000" d="M-52 344l52-5 155 2 138 20 120 8 0 44-826 0 0-69 138 11 51 1 52-2z"/>
<path fill="#ff0b00" d="M-86 360l86-7 155 0 138 23 120 10 0 27-826 0 0-51 172 9 52-2z"/>
<path fill="#f40000" d="M-138 378l138-10 138-3 34 4 138 25 103 9 0 10-826 0 0-33 155 5 51-1z"/>
<path fill="#df0000" d="M-172 395l189-14 121-2 34 4 103 20 66 10-754 0 0-16 155 3z"/>
<path fill="#ca0000" d="M34 395l104-1 34 4 76 15-464 0z"/>
<path fill="#b50000" d="M-17 413l120-5 35 1 34 4z"/>
</g></g>
<g clip-path="url(#ch)"><path transform="scale(.1)" class="cl" d="M250-413l0 34-7 69 1 17 4 18 10 15 18 19 17 13 34 22 34 18 18 7 34 10M-413-133l34-7 18-5 17-9 102-70 17-17 6-17 0-17-2-18-14-68-3-35 0-17M186-413l4 17 3 35-5 34-15 69-1 17 7 17 10 10 15 7 37 13 34 16 69 42 35 14 34 10M-413-87l34-9 35-12 17-9 52-36 17-10 67-26 20-18 8-17 2-17-5-34-15-52-5-34-1-18 6-34M-413-40l69-20 17-6 17-9 19-11 33-25 17-9 17-3 69-4 43-11 43-13 17 5 35 49 17 9 17-4 45-28 24-9 34-5 104-3 17 2 17 5 69 41 34 16 52 18M-86-389l17-5 17 0 18 5 34 14 17 0 35-4 17 0 17 8 9 10 4 17-6 17-7 13-17 21-17 12-52 17-8 6-16 17-10 16-18 13-17-9-17-24-17-51-12-48 2-17 10-17 17-11M-413 29l26-12 8-2 18-2 34 0 34 6 18 7 17 10 57 50 29 19 17 8 69 26 34 8 35 3 17-1 17-3 17-6 18-8 103-74 26-24 34-34 9-7 17-9 17-3 17 1 82 18 22 7 17 9 17 11M-413 199l52 14 103 38 17 4 17 2 155-5 189 2 104-18 69-3 120-13M-413 317l172 18 34 1 35-2 172-14 172 4 121 15 51 3 69 1"/></g>
<use href="#hd"/>
</g>
<g>
<rect x="491.0" y="10.00" width="8.5" height="3.99" fill="#870000"/>
<rect x="491.0" y="13.69" width="8.5" height="3.99" fill="#970000"/>
<rect x="491.0" y="17.38" width="8.5" height="3.99" fill="#a70000"/>
<rect x="491.0" y="21.06" width="8.5" height="3.99" fill="#b70000"/>
<rect x="491.0" y="24.75" width="8.5" height="3.99" fill="#c70000"/>
<rect x="491.0" y="28.44" width="8.5" height="3.99" fill="#d70000"/>
<rect x="491.0" y="32.12" width="8.5" height="3.99" fill="#e70000"/>
<rect x="491.0" y="35.81" width="8.5" height="3.99" fill="#f70000"/>
<rect x="491.0" y="39.50" width="8.5" height="3.99" fill="#ff0800"/>
<rect x="491.0" y="43.19" width="8.5" height="3.99" fill="#ff1800"/>
<rect x="491.0" y="46.88" width="8.5" height="3.99" fill="#ff2800"/>
<rect x="491.0" y="50.56" width="8.5" height="3.99" fill="#ff3800"/>
<rect x="491.0" y="54.25" width="8.5" height="3.99" fill="#ff4800"/>
<rect x="491.0" y="57.94" width="8.5" height="3.99" fill="#ff5800"/>
<rect x="491.0" y="61.62" width="8.5" height="3.99" fill="#ff6800"/>
<rect x="491.0" y="65.31" width="8.5" height="3.99" fill="#ff7800"/>
<rect x="491.0" y="69.00" width="8.5" height="3.99" fill="#ff8700"/>
<rect x="491.0" y="72.69" width="8.5" height="3.99" fill="#ff9700"/>
<rect x="491.0" y="76.38" width="8.5" height="3.99" fill="#ffa700"/>
<rect x="491.0" y="80.06" width="8.5" height="3.99" fill="#ffb700"/>
<rect x="491.0" y="83.75" width="8.5" height="3.99" fill="#ffc700"/>
<rect x="491.0" y="87.44" width="8.5" height="3.99" fill="#ffd700"/>
<rect x="491.0" y="91.12" width="8.5" height="3.99" fill="#ffe700"/>
<rect x="491.0" y="94.81" width="8.5" height="3.99" fill="#fff700"/>
<rect x="491.0" y="98.50" width="8.5" height="3.99" fill="#f7ff08"/>
<rect x="491.0" y="102.19" width="8.5" height="3.99" fill="#e7ff18"/>
<rect x="491.0" y="105.88" width="8.5" height="3.99" fill="#d7ff28"/>
<rect x="491.0" y="109.56" width="8.5" height="3.99" fill="#c7ff38"/>
<rect x="491.0" y="113.25" width="8.5" height="3.99" fill="#b7ff48"/>
<rect x="491.0" y="116.94" width="8.5" height="3.99" fill="#a7ff58"/>
<rect x="491.0" y="120.62" width="8.5" height="3.99" fill="#97ff68"/>
<rect x="491.0" y="124.31" width="8.5" height="3.99" fill="#87ff78"/>
<rect x="491.0" y="128.00" width="8.5" height="3.99" fill="#78ff87"/>
<rect x="491.0" y="131.69" width="8.5" height="3.99" fill="#68ff97"/>
<rect x="491.0" y="135.38" width="8.5" height="3.99" fill="#58ffa7"/>
<rect x="491.0" y="139.06" width="8.5" height="3.99" fill="#48ffb7"/>
<rect x="491.0" y="142.75" width="8.5" height="3.99" fill="#38ffc7"/>
<rect x="491.0" y="146.44" width="8.5" height="3.99" fill="#28ffd7"/>
<rect x="491.0" y="150.12" width="8.5" height="3.99" fill="#18ffe7"/>
<rect x="491.0" y="153.81" width="8.5" height="3.99" fill="#08fff7"/>
<rect x="491.0" y="157.50" width="8.5" height="3.99" fill="#00f7ff"/>
<rect x="491.0" y="161.19" width="8.5" height="3.99" fill="#00e7ff"/>
<rect x="491.0" y="164.88" width="8.5" height="3.99" fill="#00d7ff"/>
<rect x="491.0" y="168.56" width="8.5" height="3.99" fill="#00c7ff"/>
<rect x="491.0" y="172.25" width="8.5" height="3.99" fill="#00b7ff"/>
<rect x="491.0" y="175.94" width="8.5" height="3.99" fill="#00a7ff"/>
<rect x="491.0" y="179.62" width="8.5" height="3.99" fill="#0097ff"/>
<rect x="491.0" y="183.31" width="8.5" height="3.99" fill="#0087ff"/>
<rect x="491.0" y="187.00" width="8.5" height="3.99" fill="#0078ff"/>
<rect x="491.0" y="190.69" width="8.5" height="3.99" fill="#0068ff"/>
<rect x="491.0" y="194.38" width="8.5" height="3.99" fill="#0058ff"/>
<rect x="491.0" y="198.06" width="8.5" height="3.99" fill="#0048ff"/>
<rect x="491.0" y="201.75" width="8.5" height="3.99" fill="#0038ff"/>
<rect x="491.0" y="205.44" width="8.5" height="3.99" fill="#0028ff"/>
<rect x="491.0" y="209.12" width="8.5" height="3.99" fill="#0018ff"/>
<rect x="491.0" y="212.81" width="8.5" height="3.99" fill="#0008ff"/>
<rect x="491.0" y="216.50" width="8.5" height="3.99" fill="#0000f7"/>
<rect x="491.0" y="220.19" width="8.5" height="3.99" fill="#0000e7"/>
<rect x="491.0" y="223.88" width="8.5" height="3.99" fill="#0000d7"/>
<rect x="491.0" y="227.56" width="8.5" height="3.99" fill="#0000c7"/>
<rect x="491.0" y="231.25" width="8.5" height="3.99" fill="#0000b7"/>
<rect x="491.0" y="234.94" width="8.5" height="3.99" fill="#0000a7"/>
<rect x="491.0" y="238.62" width="8.5" height="3.99" fill="#000097"/>
<rect x="491.0" y="242.31" width="8.5" height="3.99" fill="#000087"/>
<path d="M499.5 222.5h-2.3M499.5 199.0h-2.3M499.5 175.5h-2.3M499.5 152.0h-2.3M499.5 128.5h-2.3M499.5 105.0h-2.3M499.5 81.5h-2.3M499.5 58.0h-2.3M499.5 34.5h-2.3" stroke="#222" stroke-width=".7" fill="none"/>
<rect x="494.0" y="285.00" width="8.2" height="3.96" fill="#870000"/>
<rect x="494.0" y="288.66" width="8.2" height="3.96" fill="#970000"/>
<rect x="494.0" y="292.33" width="8.2" height="3.96" fill="#a70000"/>
<rect x="494.0" y="295.99" width="8.2" height="3.96" fill="#b70000"/>
<rect x="494.0" y="299.66" width="8.2" height="3.96" fill="#c70000"/>
<rect x="494.0" y="303.32" width="8.2" height="3.96" fill="#d70000"/>
<rect x="494.0" y="306.98" width="8.2" height="3.96" fill="#e70000"/>
<rect x="494.0" y="310.65" width="8.2" height="3.96" fill="#f70000"/>
<rect x="494.0" y="314.31" width="8.2" height="3.96" fill="#ff0800"/>
<rect x="494.0" y="317.98" width="8.2" height="3.96" fill="#ff1800"/>
<rect x="494.0" y="321.64" width="8.2" height="3.96" fill="#ff2800"/>
<rect x="494.0" y="325.30" width="8.2" height="3.96" fill="#ff3800"/>
<rect x="494.0" y="328.97" width="8.2" height="3.96" fill="#ff4800"/>
<rect x="494.0" y="332.63" width="8.2" height="3.96" fill="#ff5800"/>
<rect x="494.0" y="336.30" width="8.2" height="3.96" fill="#ff6800"/>
<rect x="494.0" y="339.96" width="8.2" height="3.96" fill="#ff7800"/>
<rect x="494.0" y="343.62" width="8.2" height="3.96" fill="#ff8700"/>
<rect x="494.0" y="347.29" width="8.2" height="3.96" fill="#ff9700"/>
<rect x="494.0" y="350.95" width="8.2" height="3.96" fill="#ffa700"/>
<rect x="494.0" y="354.62" width="8.2" height="3.96" fill="#ffb700"/>
<rect x="494.0" y="358.28" width="8.2" height="3.96" fill="#ffc700"/>
<rect x="494.0" y="361.95" width="8.2" height="3.96" fill="#ffd700"/>
<rect x="494.0" y="365.61" width="8.2" height="3.96" fill="#ffe700"/>
<rect x="494.0" y="369.27" width="8.2" height="3.96" fill="#fff700"/>
<rect x="494.0" y="372.94" width="8.2" height="3.96" fill="#f7ff08"/>
<rect x="494.0" y="376.60" width="8.2" height="3.96" fill="#e7ff18"/>
<rect x="494.0" y="380.27" width="8.2" height="3.96" fill="#d7ff28"/>
<rect x="494.0" y="383.93" width="8.2" height="3.96" fill="#c7ff38"/>
<rect x="494.0" y="387.59" width="8.2" height="3.96" fill="#b7ff48"/>
<rect x="494.0" y="391.26" width="8.2" height="3.96" fill="#a7ff58"/>
<rect x="494.0" y="394.92" width="8.2" height="3.96" fill="#97ff68"/>
<rect x="494.0" y="398.59" width="8.2" height="3.96" fill="#87ff78"/>
<rect x="494.0" y="402.25" width="8.2" height="3.96" fill="#78ff87"/>
<rect x="494.0" y="405.91" width="8.2" height="3.96" fill="#68ff97"/>
<rect x="494.0" y="409.58" width="8.2" height="3.96" fill="#58ffa7"/>
<rect x="494.0" y="413.24" width="8.2" height="3.96" fill="#48ffb7"/>
<rect x="494.0" y="416.91" width="8.2" height="3.96" fill="#38ffc7"/>
<rect x="494.0" y="420.57" width="8.2" height="3.96" fill="#28ffd7"/>
<rect x="494.0" y="424.23" width="8.2" height="3.96" fill="#18ffe7"/>
<rect x="494.0" y="427.90" width="8.2" height="3.96" fill="#08fff7"/>
<rect x="494.0" y="431.56" width="8.2" height="3.96" fill="#00f7ff"/>
<rect x="494.0" y="435.23" width="8.2" height="3.96" fill="#00e7ff"/>
<rect x="494.0" y="438.89" width="8.2" height="3.96" fill="#00d7ff"/>
<rect x="494.0" y="442.55" width="8.2" height="3.96" fill="#00c7ff"/>
<rect x="494.0" y="446.22" width="8.2" height="3.96" fill="#00b7ff"/>
<rect x="494.0" y="449.88" width="8.2" height="3.96" fill="#00a7ff"/>
<rect x="494.0" y="453.55" width="8.2" height="3.96" fill="#0097ff"/>
<rect x="494.0" y="457.21" width="8.2" height="3.96" fill="#0087ff"/>
<rect x="494.0" y="460.88" width="8.2" height="3.96" fill="#0078ff"/>
<rect x="494.0" y="464.54" width="8.2" height="3.96" fill="#0068ff"/>
<rect x="494.0" y="468.20" width="8.2" height="3.96" fill="#0058ff"/>
<rect x="494.0" y="471.87" width="8.2" height="3.96" fill="#0048ff"/>
<rect x="494.0" y="475.53" width="8.2" height="3.96" fill="#0038ff"/>
<rect x="494.0" y="479.20" width="8.2" height="3.96" fill="#0028ff"/>
<rect x="494.0" y="482.86" width="8.2" height="3.96" fill="#0018ff"/>
<rect x="494.0" y="486.52" width="8.2" height="3.96" fill="#0008ff"/>
<rect x="494.0" y="490.19" width="8.2" height="3.96" fill="#0000f7"/>
<rect x="494.0" y="493.85" width="8.2" height="3.96" fill="#0000e7"/>
<rect x="494.0" y="497.52" width="8.2" height="3.96" fill="#0000d7"/>
<rect x="494.0" y="501.18" width="8.2" height="3.96" fill="#0000c7"/>
<rect x="494.0" y="504.84" width="8.2" height="3.96" fill="#0000b7"/>
<rect x="494.0" y="508.51" width="8.2" height="3.96" fill="#0000a7"/>
<rect x="494.0" y="512.17" width="8.2" height="3.96" fill="#000097"/>
<rect x="494.0" y="515.84" width="8.2" height="3.96" fill="#000087"/>
<path d="M502.2 496.5h-2.3M502.2 473.1h-2.3M502.2 449.6h-2.3M502.2 426.2h-2.3M502.2 402.7h-2.3M502.2 379.2h-2.3M502.2 355.8h-2.3M502.2 332.3h-2.3M502.2 308.9h-2.3" stroke="#222" stroke-width=".7" fill="none"/>
</g>
<g>
<text x="503.3" y="249.7">0</text>
<text x="503.3" y="226.2">0.1</text>
<text x="503.3" y="202.7">0.2</text>
<text x="503.3" y="179.2">0.3</text>
<text x="503.3" y="155.7">0.4</text>
<text x="503.3" y="132.2">0.5</text>
<text x="503.3" y="108.7">0.6</text>
<text x="503.3" y="85.2">0.7</text>
<text x="503.3" y="61.7">0.8</text>
<text x="503.3" y="38.2">0.9</text>
<text x="503.3" y="14.7">1</text>
<text x="506.0" y="523.7">0</text>
<text x="506.0" y="500.2">0.1</text>
<text x="506.0" y="476.8">0.2</text>
<text x="506.0" y="453.3">0.3</text>
<text x="506.0" y="429.9">0.4</text>
<text x="506.0" y="406.4">0.5</text>
<text x="506.0" y="382.9">0.6</text>
<text x="506.0" y="359.5">0.7</text>
<text x="506.0" y="336.0">0.8</text>
<text x="506.0" y="312.6">0.9</text>
<text x="506.0" y="289.1">1</text>
</g>
<g text-anchor="middle" class="gh">
<text x="84.8" y="24.7">δ</text><text x="197.5" y="24.5">θ</text><text x="309.2" y="24">α</text><text x="421.5" y="23.4">β</text>
<text x="85.2" y="299.6">δ</text><text x="198.5" y="299">θ</text><text x="310.8" y="298.2">α</text><text x="423.6" y="298">β</text>
</g>
<text x="5.5" y="83">LSA</text>
<text x="5.5" y="211.7">HSA</text>
<text x="5.5" y="358">LSA</text>
<text x="5.5" y="486">HSA</text>
<text x="220" y="270" xml:space="preserve" style="font-size:11.2px">(a)  absolute power</text>
<text x="222.8" y="543.9" xml:space="preserve" style="font-size:11.2px">(b)  relative power</text>
</svg>
</body></html>
